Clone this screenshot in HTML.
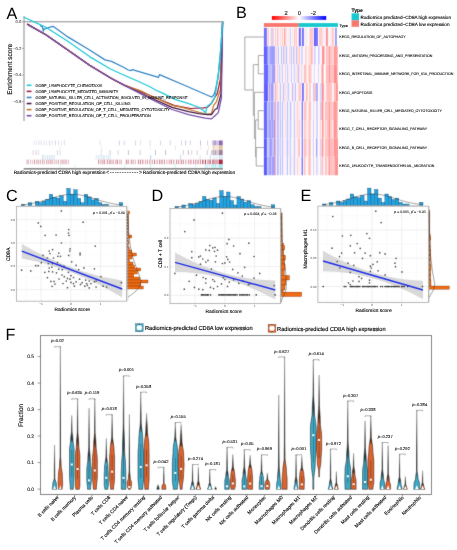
<!DOCTYPE html>
<html><head><meta charset="utf-8"><style>
html,body{margin:0;padding:0;background:#fff;}
svg{display:block;font-family:"Liberation Sans", sans-serif;text-rendering:geometricPrecision;}
</style></head><body>
<svg width="457" height="550" viewBox="0 0 457 550">
<defs><filter id="soft" x="0" y="0" width="1" height="1" color-interpolation-filters="sRGB"><feConvolveMatrix order="3" kernelMatrix="1 2 1 2 28 2 1 2 1" divisor="40" edgeMode="duplicate"/></filter></defs>
<rect width="457" height="550" fill="#fff"/>
<g filter="url(#soft)">
<rect width="457" height="550" fill="#fff"/>
<line x1="24.00" y1="16.00" x2="24.00" y2="121.00" stroke="#8a8a8a" stroke-width="1" />
<line x1="24.00" y1="21.80" x2="222.80" y2="21.80" stroke="#8a8a8a" stroke-width="1" />
<line x1="21.80" y1="21.80" x2="24.00" y2="21.80" stroke="#8a8a8a" stroke-width="0.7" />
<line x1="21.80" y1="48.40" x2="24.00" y2="48.40" stroke="#8a8a8a" stroke-width="0.7" />
<line x1="21.80" y1="75.00" x2="24.00" y2="75.00" stroke="#8a8a8a" stroke-width="0.7" />
<line x1="21.80" y1="101.60" x2="24.00" y2="101.60" stroke="#8a8a8a" stroke-width="0.7" />
<polyline points="26.90,23.90 32.80,27.40 45.90,34.70 67.80,50.00 89.60,65.30 111.50,78.50 124.00,84.90 151.20,96.00 174.00,105.30 190.70,108.50 203.20,107.80 207.30,107.40 211.50,103.30 215.00,97.00 217.20,93.80 220.40,79.10 222.60,21.80" fill="none" stroke="#a51d3c" stroke-width="1.25" stroke-linejoin="round" />
<polyline points="28.00,24.60 45.90,34.70 67.80,50.00 89.60,65.30 111.50,78.50 124.00,85.10 140.80,90.80 151.20,96.00 172.00,105.30 182.40,107.40 192.80,110.50 205.20,114.00 211.50,113.70 213.60,105.30 216.20,102.10 220.40,89.60 222.60,21.80" fill="none" stroke="#c07a2c" stroke-width="1.25" stroke-linejoin="round" />
<polyline points="28.00,24.60 45.90,34.70 67.80,50.00 89.60,65.30 111.50,78.50 124.00,85.30 151.20,98.00 172.00,107.40 188.60,111.60 199.00,113.70 207.30,114.70 211.50,114.70 215.00,109.50 217.20,108.40 221.00,93.80 222.60,21.80" fill="none" stroke="#4a1a48" stroke-width="1.25" stroke-linejoin="round" />
<polyline points="28.50,24.90 45.90,34.70 67.80,50.00 89.60,65.30 111.50,78.50 124.00,85.10 151.20,99.10 172.00,109.50 188.60,114.70 199.00,116.80 205.20,118.20 211.50,118.90 215.00,115.70 218.30,112.60 221.40,98.00 222.60,21.80" fill="none" stroke="#7a4fa8" stroke-width="1.25" stroke-linejoin="round" />
<polyline points="40.00,25.40 42.50,26.90 43.30,31.20 44.20,28.80 46.00,28.60 50.00,27.20 53.50,26.40 67.80,36.90 89.60,50.00 105.00,59.90 111.50,61.40 124.00,67.50 128.30,70.00 131.00,70.60 132.30,69.60 158.50,77.30 159.50,74.60 185.00,85.50 211.50,97.00 213.50,95.50 215.00,91.80 218.00,78.00 220.00,58.00 221.50,38.00 222.60,21.80" fill="none" stroke="#3585c4" stroke-width="1.25" stroke-linejoin="round" />
<polyline points="24.00,17.30 34.00,21.90 45.90,27.20 67.80,41.30 89.60,56.60 110.00,68.70 123.10,74.70 136.30,80.50 149.40,86.50 156.00,90.30 162.50,93.10 175.70,99.60 188.80,103.60 199.30,107.50 204.50,111.50 205.50,113.20 207.20,106.20 211.10,103.60 215.00,97.00 218.50,72.00 220.50,52.00 222.60,21.80" fill="none" stroke="#1ec8d8" stroke-width="1.25" stroke-linejoin="round" />
<line x1="26.70" y1="85.30" x2="31.50" y2="85.30" stroke="#1ec8d8" stroke-width="1.6" />
<line x1="26.70" y1="91.38" x2="31.50" y2="91.38" stroke="#a51d3c" stroke-width="1.6" />
<line x1="26.70" y1="97.46" x2="31.50" y2="97.46" stroke="#3585c4" stroke-width="1.6" />
<line x1="26.70" y1="103.54" x2="31.50" y2="103.54" stroke="#4a1a48" stroke-width="1.6" />
<line x1="26.70" y1="109.62" x2="31.50" y2="109.62" stroke="#c07a2c" stroke-width="1.6" />
<line x1="26.70" y1="115.70" x2="31.50" y2="115.70" stroke="#7a4fa8" stroke-width="1.6" />
<rect x="33.66" y="140.50" width="0.80" height="4.80" fill="#7a4fa8" opacity="0.20"/>
<rect x="36.12" y="140.50" width="0.80" height="4.80" fill="#7a4fa8" opacity="0.19"/>
<rect x="38.53" y="140.50" width="0.80" height="4.80" fill="#7a4fa8" opacity="0.23"/>
<rect x="40.65" y="140.50" width="0.80" height="4.80" fill="#7a4fa8" opacity="0.25"/>
<rect x="43.63" y="140.50" width="0.80" height="4.80" fill="#7a4fa8" opacity="0.25"/>
<rect x="46.16" y="140.50" width="0.80" height="4.80" fill="#7a4fa8" opacity="0.19"/>
<rect x="48.94" y="140.50" width="0.80" height="4.80" fill="#7a4fa8" opacity="0.31"/>
<rect x="51.70" y="140.50" width="0.80" height="4.80" fill="#7a4fa8" opacity="0.22"/>
<rect x="55.10" y="140.50" width="0.80" height="4.80" fill="#7a4fa8" opacity="0.33"/>
<rect x="58.06" y="140.50" width="0.80" height="4.80" fill="#7a4fa8" opacity="0.25"/>
<rect x="61.38" y="140.50" width="0.80" height="4.80" fill="#7a4fa8" opacity="0.20"/>
<rect x="63.99" y="140.50" width="0.80" height="4.80" fill="#7a4fa8" opacity="0.24"/>
<rect x="99.72" y="140.50" width="0.80" height="4.80" fill="#7a4fa8" opacity="0.23"/>
<rect x="118.85" y="140.50" width="0.80" height="4.80" fill="#7a4fa8" opacity="0.37"/>
<rect x="123.74" y="140.50" width="0.80" height="4.80" fill="#7a4fa8" opacity="0.33"/>
<rect x="135.11" y="140.50" width="0.80" height="4.80" fill="#7a4fa8" opacity="0.30"/>
<rect x="140.04" y="140.50" width="0.80" height="4.80" fill="#7a4fa8" opacity="0.24"/>
<rect x="149.65" y="140.50" width="0.80" height="4.80" fill="#7a4fa8" opacity="0.28"/>
<rect x="160.14" y="140.50" width="0.80" height="4.80" fill="#7a4fa8" opacity="0.33"/>
<rect x="169.85" y="140.50" width="0.80" height="4.80" fill="#7a4fa8" opacity="0.37"/>
<rect x="180.96" y="140.50" width="0.80" height="4.80" fill="#7a4fa8" opacity="0.32"/>
<rect x="185.24" y="140.50" width="0.80" height="4.80" fill="#7a4fa8" opacity="0.41"/>
<rect x="189.80" y="140.50" width="0.80" height="4.80" fill="#7a4fa8" opacity="0.38"/>
<rect x="200.02" y="140.50" width="0.80" height="4.80" fill="#7a4fa8" opacity="0.46"/>
<rect x="207.18" y="140.50" width="0.80" height="4.80" fill="#7a4fa8" opacity="0.33"/>
<rect x="212.38" y="140.50" width="0.80" height="4.80" fill="#7a4fa8" opacity="0.30"/>
<rect x="213.93" y="140.50" width="0.80" height="4.80" fill="#7a4fa8" opacity="0.45"/>
<rect x="215.22" y="140.50" width="0.80" height="4.80" fill="#7a4fa8" opacity="0.39"/>
<rect x="212.50" y="140.50" width="6.00" height="4.80" fill="#7a4fa8" opacity="0.34"/>
<rect x="218.80" y="140.50" width="3.90" height="4.80" fill="#7a4fa8" opacity="0.85"/>
<rect x="59.63" y="145.30" width="0.80" height="4.80" fill="#c07a2c" opacity="0.15"/>
<rect x="101.21" y="145.30" width="0.80" height="4.80" fill="#c07a2c" opacity="0.16"/>
<rect x="150.30" y="145.30" width="0.80" height="4.80" fill="#c07a2c" opacity="0.15"/>
<rect x="175.16" y="145.30" width="0.80" height="4.80" fill="#c07a2c" opacity="0.19"/>
<rect x="200.06" y="145.30" width="0.80" height="4.80" fill="#c07a2c" opacity="0.18"/>
<rect x="208.27" y="145.30" width="0.80" height="4.80" fill="#c07a2c" opacity="0.24"/>
<rect x="212.98" y="145.30" width="0.80" height="4.80" fill="#c07a2c" opacity="0.21"/>
<rect x="212.50" y="145.30" width="6.00" height="4.80" fill="#c07a2c" opacity="0.18"/>
<rect x="218.80" y="145.30" width="3.90" height="4.80" fill="#c07a2c" opacity="0.45"/>
<rect x="32.65" y="150.10" width="0.80" height="4.90" fill="#4a1a48" opacity="0.23"/>
<rect x="35.62" y="150.10" width="0.80" height="4.90" fill="#4a1a48" opacity="0.27"/>
<rect x="38.26" y="150.10" width="0.80" height="4.90" fill="#4a1a48" opacity="0.18"/>
<rect x="56.91" y="150.10" width="0.80" height="4.90" fill="#4a1a48" opacity="0.24"/>
<rect x="59.62" y="150.10" width="0.80" height="4.90" fill="#4a1a48" opacity="0.22"/>
<rect x="100.73" y="150.10" width="0.80" height="4.90" fill="#4a1a48" opacity="0.19"/>
<rect x="109.65" y="150.10" width="0.80" height="4.90" fill="#4a1a48" opacity="0.30"/>
<rect x="117.70" y="150.10" width="0.80" height="4.90" fill="#4a1a48" opacity="0.22"/>
<rect x="127.91" y="150.10" width="0.80" height="4.90" fill="#4a1a48" opacity="0.33"/>
<rect x="139.66" y="150.10" width="0.80" height="4.90" fill="#4a1a48" opacity="0.27"/>
<rect x="155.04" y="150.10" width="0.80" height="4.90" fill="#4a1a48" opacity="0.35"/>
<rect x="165.26" y="150.10" width="0.80" height="4.90" fill="#4a1a48" opacity="0.35"/>
<rect x="182.82" y="150.10" width="0.80" height="4.90" fill="#4a1a48" opacity="0.29"/>
<rect x="187.89" y="150.10" width="0.80" height="4.90" fill="#4a1a48" opacity="0.38"/>
<rect x="191.37" y="150.10" width="0.80" height="4.90" fill="#4a1a48" opacity="0.24"/>
<rect x="196.74" y="150.10" width="0.80" height="4.90" fill="#4a1a48" opacity="0.26"/>
<rect x="206.79" y="150.10" width="0.80" height="4.90" fill="#4a1a48" opacity="0.31"/>
<rect x="211.07" y="150.10" width="0.80" height="4.90" fill="#4a1a48" opacity="0.27"/>
<rect x="212.60" y="150.10" width="0.80" height="4.90" fill="#4a1a48" opacity="0.31"/>
<rect x="214.90" y="150.10" width="0.80" height="4.90" fill="#4a1a48" opacity="0.34"/>
<rect x="212.50" y="150.10" width="6.00" height="4.90" fill="#4a1a48" opacity="0.22"/>
<rect x="218.80" y="150.10" width="3.90" height="4.90" fill="#4a1a48" opacity="0.55"/>
<rect x="42.16" y="155.00" width="0.80" height="4.60" fill="#3585c4" opacity="0.28"/>
<rect x="43.51" y="155.00" width="0.80" height="4.60" fill="#3585c4" opacity="0.27"/>
<rect x="45.14" y="155.00" width="0.80" height="4.60" fill="#3585c4" opacity="0.19"/>
<rect x="47.32" y="155.00" width="0.80" height="4.60" fill="#3585c4" opacity="0.30"/>
<rect x="49.30" y="155.00" width="0.80" height="4.60" fill="#3585c4" opacity="0.31"/>
<rect x="50.91" y="155.00" width="0.80" height="4.60" fill="#3585c4" opacity="0.25"/>
<rect x="52.68" y="155.00" width="0.80" height="4.60" fill="#3585c4" opacity="0.28"/>
<rect x="54.15" y="155.00" width="0.80" height="4.60" fill="#3585c4" opacity="0.19"/>
<rect x="95.77" y="155.00" width="0.80" height="4.60" fill="#3585c4" opacity="0.24"/>
<rect x="97.87" y="155.00" width="0.80" height="4.60" fill="#3585c4" opacity="0.22"/>
<rect x="99.60" y="155.00" width="0.80" height="4.60" fill="#3585c4" opacity="0.24"/>
<rect x="101.68" y="155.00" width="0.80" height="4.60" fill="#3585c4" opacity="0.28"/>
<rect x="103.62" y="155.00" width="0.80" height="4.60" fill="#3585c4" opacity="0.37"/>
<rect x="106.09" y="155.00" width="0.80" height="4.60" fill="#3585c4" opacity="0.24"/>
<rect x="107.80" y="155.00" width="0.80" height="4.60" fill="#3585c4" opacity="0.28"/>
<rect x="109.59" y="155.00" width="0.80" height="4.60" fill="#3585c4" opacity="0.24"/>
<rect x="150.28" y="155.00" width="0.80" height="4.60" fill="#3585c4" opacity="0.44"/>
<rect x="179.97" y="155.00" width="0.80" height="4.60" fill="#3585c4" opacity="0.36"/>
<rect x="199.67" y="155.00" width="0.80" height="4.60" fill="#3585c4" opacity="0.29"/>
<rect x="209.87" y="155.00" width="0.80" height="4.60" fill="#3585c4" opacity="0.33"/>
<rect x="212.50" y="155.00" width="6.00" height="4.60" fill="#3585c4" opacity="0.08"/>
<rect x="218.80" y="155.00" width="3.90" height="4.60" fill="#3585c4" opacity="0.20"/>
<rect x="26.26" y="159.60" width="1.10" height="4.60" fill="#a51d3c" opacity="0.26"/>
<rect x="27.62" y="159.60" width="1.10" height="4.60" fill="#a51d3c" opacity="0.41"/>
<rect x="30.02" y="159.60" width="1.10" height="4.60" fill="#a51d3c" opacity="0.26"/>
<rect x="32.03" y="159.60" width="1.10" height="4.60" fill="#a51d3c" opacity="0.24"/>
<rect x="34.02" y="159.60" width="1.10" height="4.60" fill="#a51d3c" opacity="0.43"/>
<rect x="36.29" y="159.60" width="1.10" height="4.60" fill="#a51d3c" opacity="0.37"/>
<rect x="37.81" y="159.60" width="1.10" height="4.60" fill="#a51d3c" opacity="0.31"/>
<rect x="39.73" y="159.60" width="1.10" height="4.60" fill="#a51d3c" opacity="0.39"/>
<rect x="42.03" y="159.60" width="1.10" height="4.60" fill="#a51d3c" opacity="0.40"/>
<rect x="43.86" y="159.60" width="1.10" height="4.60" fill="#a51d3c" opacity="0.28"/>
<rect x="46.25" y="159.60" width="1.10" height="4.60" fill="#a51d3c" opacity="0.44"/>
<rect x="48.28" y="159.60" width="1.10" height="4.60" fill="#a51d3c" opacity="0.41"/>
<rect x="50.25" y="159.60" width="1.10" height="4.60" fill="#a51d3c" opacity="0.40"/>
<rect x="51.78" y="159.60" width="1.10" height="4.60" fill="#a51d3c" opacity="0.35"/>
<rect x="53.88" y="159.60" width="1.10" height="4.60" fill="#a51d3c" opacity="0.25"/>
<rect x="55.62" y="159.60" width="1.10" height="4.60" fill="#a51d3c" opacity="0.31"/>
<rect x="57.81" y="159.60" width="1.10" height="4.60" fill="#a51d3c" opacity="0.40"/>
<rect x="60.37" y="159.60" width="1.10" height="4.60" fill="#a51d3c" opacity="0.35"/>
<rect x="62.35" y="159.60" width="1.10" height="4.60" fill="#a51d3c" opacity="0.46"/>
<rect x="64.36" y="159.60" width="1.10" height="4.60" fill="#a51d3c" opacity="0.33"/>
<rect x="65.78" y="159.60" width="1.10" height="4.60" fill="#a51d3c" opacity="0.30"/>
<rect x="67.76" y="159.60" width="1.10" height="4.60" fill="#a51d3c" opacity="0.30"/>
<rect x="98.10" y="159.60" width="1.10" height="4.60" fill="#a51d3c" opacity="0.49"/>
<rect x="100.37" y="159.60" width="1.10" height="4.60" fill="#a51d3c" opacity="0.39"/>
<rect x="102.32" y="159.60" width="1.10" height="4.60" fill="#a51d3c" opacity="0.47"/>
<rect x="103.97" y="159.60" width="1.10" height="4.60" fill="#a51d3c" opacity="0.44"/>
<rect x="106.73" y="159.60" width="1.10" height="4.60" fill="#a51d3c" opacity="0.47"/>
<rect x="108.70" y="159.60" width="1.10" height="4.60" fill="#a51d3c" opacity="0.40"/>
<rect x="110.34" y="159.60" width="1.10" height="4.60" fill="#a51d3c" opacity="0.48"/>
<rect x="112.57" y="159.60" width="1.10" height="4.60" fill="#a51d3c" opacity="0.49"/>
<rect x="115.18" y="159.60" width="1.10" height="4.60" fill="#a51d3c" opacity="0.39"/>
<rect x="116.82" y="159.60" width="1.10" height="4.60" fill="#a51d3c" opacity="0.53"/>
<rect x="119.18" y="159.60" width="1.10" height="4.60" fill="#a51d3c" opacity="0.34"/>
<rect x="120.80" y="159.60" width="1.10" height="4.60" fill="#a51d3c" opacity="0.33"/>
<rect x="125.82" y="159.60" width="1.10" height="4.60" fill="#a51d3c" opacity="0.50"/>
<rect x="127.62" y="159.60" width="1.10" height="4.60" fill="#a51d3c" opacity="0.51"/>
<rect x="130.68" y="159.60" width="1.10" height="4.60" fill="#a51d3c" opacity="0.47"/>
<rect x="132.58" y="159.60" width="1.10" height="4.60" fill="#a51d3c" opacity="0.44"/>
<rect x="134.80" y="159.60" width="1.10" height="4.60" fill="#a51d3c" opacity="0.31"/>
<rect x="137.88" y="159.60" width="1.10" height="4.60" fill="#a51d3c" opacity="0.48"/>
<rect x="139.92" y="159.60" width="1.10" height="4.60" fill="#a51d3c" opacity="0.55"/>
<rect x="142.25" y="159.60" width="1.10" height="4.60" fill="#a51d3c" opacity="0.54"/>
<rect x="144.96" y="159.60" width="1.10" height="4.60" fill="#a51d3c" opacity="0.37"/>
<rect x="146.90" y="159.60" width="1.10" height="4.60" fill="#a51d3c" opacity="0.39"/>
<rect x="149.29" y="159.60" width="1.10" height="4.60" fill="#a51d3c" opacity="0.47"/>
<rect x="151.71" y="159.60" width="1.10" height="4.60" fill="#a51d3c" opacity="0.43"/>
<rect x="154.00" y="159.60" width="1.10" height="4.60" fill="#a51d3c" opacity="0.57"/>
<rect x="156.58" y="159.60" width="1.10" height="4.60" fill="#a51d3c" opacity="0.45"/>
<rect x="159.17" y="159.60" width="1.10" height="4.60" fill="#a51d3c" opacity="0.57"/>
<rect x="161.44" y="159.60" width="1.10" height="4.60" fill="#a51d3c" opacity="0.58"/>
<rect x="163.90" y="159.60" width="1.10" height="4.60" fill="#a51d3c" opacity="0.47"/>
<rect x="166.32" y="159.60" width="1.10" height="4.60" fill="#a51d3c" opacity="0.33"/>
<rect x="168.65" y="159.60" width="1.10" height="4.60" fill="#a51d3c" opacity="0.38"/>
<rect x="170.70" y="159.60" width="1.10" height="4.60" fill="#a51d3c" opacity="0.56"/>
<rect x="173.24" y="159.60" width="1.10" height="4.60" fill="#a51d3c" opacity="0.47"/>
<rect x="176.08" y="159.60" width="1.10" height="4.60" fill="#a51d3c" opacity="0.49"/>
<rect x="178.16" y="159.60" width="1.10" height="4.60" fill="#a51d3c" opacity="0.48"/>
<rect x="180.74" y="159.60" width="1.10" height="4.60" fill="#a51d3c" opacity="0.56"/>
<rect x="182.78" y="159.60" width="1.10" height="4.60" fill="#a51d3c" opacity="0.50"/>
<rect x="185.30" y="159.60" width="1.10" height="4.60" fill="#a51d3c" opacity="0.42"/>
<rect x="188.12" y="159.60" width="1.10" height="4.60" fill="#a51d3c" opacity="0.49"/>
<rect x="190.35" y="159.60" width="1.10" height="4.60" fill="#a51d3c" opacity="0.57"/>
<rect x="193.03" y="159.60" width="1.10" height="4.60" fill="#a51d3c" opacity="0.48"/>
<rect x="195.19" y="159.60" width="1.10" height="4.60" fill="#a51d3c" opacity="0.50"/>
<rect x="197.51" y="159.60" width="1.10" height="4.60" fill="#a51d3c" opacity="0.56"/>
<rect x="199.86" y="159.60" width="1.10" height="4.60" fill="#a51d3c" opacity="0.51"/>
<rect x="202.28" y="159.60" width="1.10" height="4.60" fill="#a51d3c" opacity="0.89"/>
<rect x="204.86" y="159.60" width="1.10" height="4.60" fill="#a51d3c" opacity="0.87"/>
<rect x="207.45" y="159.60" width="1.10" height="4.60" fill="#a51d3c" opacity="0.61"/>
<rect x="209.55" y="159.60" width="1.10" height="4.60" fill="#a51d3c" opacity="0.90"/>
<rect x="212.17" y="159.60" width="1.10" height="4.60" fill="#a51d3c" opacity="0.56"/>
<rect x="212.50" y="159.60" width="6.00" height="4.60" fill="#a51d3c" opacity="0.38"/>
<rect x="218.80" y="159.60" width="3.90" height="4.60" fill="#a51d3c" opacity="0.95"/>
<rect x="59.70" y="164.30" width="0.80" height="3.60" fill="#1ec8d8" opacity="0.22"/>
<rect x="74.66" y="164.30" width="0.80" height="3.60" fill="#1ec8d8" opacity="0.20"/>
<rect x="124.66" y="164.30" width="0.80" height="3.60" fill="#1ec8d8" opacity="0.29"/>
<rect x="150.23" y="164.30" width="0.80" height="3.60" fill="#1ec8d8" opacity="0.35"/>
<rect x="174.72" y="164.30" width="0.80" height="3.60" fill="#1ec8d8" opacity="0.34"/>
<rect x="195.13" y="164.30" width="0.80" height="3.60" fill="#1ec8d8" opacity="0.24"/>
<rect x="205.31" y="164.30" width="0.80" height="3.60" fill="#1ec8d8" opacity="0.41"/>
<rect x="206.78" y="164.30" width="0.80" height="3.60" fill="#1ec8d8" opacity="0.40"/>
<rect x="208.92" y="164.30" width="0.80" height="3.60" fill="#1ec8d8" opacity="0.32"/>
<rect x="211.39" y="164.30" width="0.80" height="3.60" fill="#1ec8d8" opacity="0.38"/>
<rect x="212.73" y="164.30" width="0.80" height="3.60" fill="#1ec8d8" opacity="0.31"/>
<rect x="215.01" y="164.30" width="0.80" height="3.60" fill="#1ec8d8" opacity="0.29"/>
<rect x="212.50" y="164.30" width="6.00" height="3.60" fill="#1ec8d8" opacity="0.16"/>
<rect x="218.80" y="164.30" width="3.90" height="3.60" fill="#1ec8d8" opacity="0.40"/>
<line x1="23.60" y1="168.90" x2="222.90" y2="168.90" stroke="#111" stroke-width="0.8" />
<defs><linearGradient id="cb" x1="0" x2="1" y1="0" y2="0"><stop offset="0" stop-color="#ff0000"/><stop offset="0.5" stop-color="#ffffff"/><stop offset="1" stop-color="#0000ff"/></linearGradient></defs>
<rect x="271.90" y="16.00" width="54.30" height="3.90" fill="url(#cb)" />
<rect x="263.90" y="23.10" width="35.00" height="3.80" fill="#f8766d" />
<rect x="298.90" y="23.10" width="39.00" height="3.80" fill="#16c8cf" />
<rect x="351.60" y="13.30" width="7.40" height="7.00" fill="#16c8cf" />
<rect x="351.60" y="20.30" width="7.40" height="6.50" fill="#f8766d" />
<rect x="263.90" y="27.80" width="1.05" height="18.47" fill="rgb(107,107,255)" />
<rect x="264.90" y="27.80" width="1.05" height="18.47" fill="rgb(110,110,255)" />
<rect x="265.90" y="27.80" width="1.05" height="18.47" fill="rgb(117,117,255)" />
<rect x="266.90" y="27.80" width="1.05" height="18.47" fill="rgb(255,225,225)" />
<rect x="267.90" y="27.80" width="1.05" height="18.47" fill="rgb(255,196,196)" />
<rect x="268.90" y="27.80" width="1.05" height="18.47" fill="rgb(255,253,253)" />
<rect x="269.90" y="27.80" width="1.05" height="18.47" fill="rgb(255,231,231)" />
<rect x="270.90" y="27.80" width="1.05" height="18.47" fill="rgb(209,209,255)" />
<rect x="271.90" y="27.80" width="1.05" height="18.47" fill="rgb(255,194,194)" />
<rect x="272.90" y="27.80" width="1.05" height="18.47" fill="rgb(215,215,255)" />
<rect x="273.90" y="27.80" width="1.05" height="18.47" fill="rgb(247,247,255)" />
<rect x="274.90" y="27.80" width="1.05" height="18.47" fill="rgb(255,200,200)" />
<rect x="275.90" y="27.80" width="1.05" height="18.47" fill="rgb(247,247,255)" />
<rect x="276.90" y="27.80" width="1.05" height="18.47" fill="rgb(255,190,190)" />
<rect x="277.90" y="27.80" width="1.05" height="18.47" fill="rgb(255,220,220)" />
<rect x="278.90" y="27.80" width="1.05" height="18.47" fill="rgb(246,246,255)" />
<rect x="279.90" y="27.80" width="1.05" height="18.47" fill="rgb(255,215,215)" />
<rect x="280.90" y="27.80" width="1.05" height="18.47" fill="rgb(255,246,246)" />
<rect x="281.90" y="27.80" width="1.05" height="18.47" fill="rgb(255,193,193)" />
<rect x="282.90" y="27.80" width="1.05" height="18.47" fill="rgb(255,253,253)" />
<rect x="283.90" y="27.80" width="1.05" height="18.47" fill="rgb(255,157,157)" />
<rect x="284.90" y="27.80" width="1.05" height="18.47" fill="rgb(255,206,206)" />
<rect x="285.90" y="27.80" width="1.05" height="18.47" fill="rgb(255,224,224)" />
<rect x="286.90" y="27.80" width="1.05" height="18.47" fill="rgb(246,246,255)" />
<rect x="287.90" y="27.80" width="1.05" height="18.47" fill="rgb(255,231,231)" />
<rect x="288.90" y="27.80" width="1.05" height="18.47" fill="rgb(250,250,255)" />
<rect x="289.90" y="27.80" width="1.05" height="18.47" fill="rgb(200,200,255)" />
<rect x="290.90" y="27.80" width="1.05" height="18.47" fill="rgb(254,254,255)" />
<rect x="291.90" y="27.80" width="1.05" height="18.47" fill="rgb(255,226,226)" />
<rect x="292.90" y="27.80" width="1.05" height="18.47" fill="rgb(255,248,248)" />
<rect x="293.90" y="27.80" width="1.05" height="18.47" fill="rgb(255,196,196)" />
<rect x="294.90" y="27.80" width="1.05" height="18.47" fill="rgb(255,222,222)" />
<rect x="295.90" y="27.80" width="1.05" height="18.47" fill="rgb(255,196,196)" />
<rect x="296.90" y="27.80" width="1.05" height="18.47" fill="rgb(255,252,252)" />
<rect x="297.90" y="27.80" width="1.05" height="18.47" fill="rgb(255,225,225)" />
<rect x="298.90" y="27.80" width="1.05" height="18.47" fill="rgb(100,100,255)" />
<rect x="299.90" y="27.80" width="1.05" height="18.47" fill="rgb(115,115,255)" />
<rect x="300.90" y="27.80" width="1.05" height="18.47" fill="rgb(255,249,249)" />
<rect x="301.90" y="27.80" width="1.05" height="18.47" fill="rgb(111,111,255)" />
<rect x="302.90" y="27.80" width="1.05" height="18.47" fill="rgb(109,109,255)" />
<rect x="303.90" y="27.80" width="1.05" height="18.47" fill="rgb(247,247,255)" />
<rect x="304.90" y="27.80" width="1.05" height="18.47" fill="rgb(255,234,234)" />
<rect x="305.90" y="27.80" width="1.05" height="18.47" fill="rgb(255,233,233)" />
<rect x="306.90" y="27.80" width="1.05" height="18.47" fill="rgb(242,242,255)" />
<rect x="307.90" y="27.80" width="1.05" height="18.47" fill="rgb(255,253,253)" />
<rect x="308.90" y="27.80" width="1.05" height="18.47" fill="rgb(255,230,230)" />
<rect x="309.90" y="27.80" width="1.05" height="18.47" fill="rgb(255,193,193)" />
<rect x="310.90" y="27.80" width="1.05" height="18.47" fill="rgb(255,202,202)" />
<rect x="311.90" y="27.80" width="1.05" height="18.47" fill="rgb(255,191,191)" />
<rect x="312.90" y="27.80" width="1.05" height="18.47" fill="rgb(255,252,252)" />
<rect x="313.90" y="27.80" width="1.05" height="18.47" fill="rgb(94,94,255)" />
<rect x="314.90" y="27.80" width="1.05" height="18.47" fill="rgb(99,99,255)" />
<rect x="315.90" y="27.80" width="1.05" height="18.47" fill="rgb(113,113,255)" />
<rect x="316.90" y="27.80" width="1.05" height="18.47" fill="rgb(104,104,255)" />
<rect x="317.90" y="27.80" width="1.05" height="18.47" fill="rgb(255,249,249)" />
<rect x="318.90" y="27.80" width="1.05" height="18.47" fill="rgb(255,202,202)" />
<rect x="319.90" y="27.80" width="1.05" height="18.47" fill="rgb(255,209,209)" />
<rect x="320.90" y="27.80" width="1.05" height="18.47" fill="rgb(255,198,198)" />
<rect x="321.90" y="27.80" width="1.05" height="18.47" fill="rgb(255,223,223)" />
<rect x="322.90" y="27.80" width="1.05" height="18.47" fill="rgb(255,233,233)" />
<rect x="323.90" y="27.80" width="1.05" height="18.47" fill="rgb(243,243,255)" />
<rect x="324.90" y="27.80" width="1.05" height="18.47" fill="rgb(248,248,255)" />
<rect x="325.90" y="27.80" width="1.05" height="18.47" fill="rgb(255,145,145)" />
<rect x="326.90" y="27.80" width="1.05" height="18.47" fill="rgb(255,149,149)" />
<rect x="327.90" y="27.80" width="1.05" height="18.47" fill="rgb(243,243,255)" />
<rect x="328.90" y="27.80" width="1.05" height="18.47" fill="rgb(246,246,255)" />
<rect x="329.90" y="27.80" width="1.05" height="18.47" fill="rgb(255,236,236)" />
<rect x="330.90" y="27.80" width="1.05" height="18.47" fill="rgb(255,237,237)" />
<rect x="331.90" y="27.80" width="1.05" height="18.47" fill="rgb(255,194,194)" />
<rect x="332.90" y="27.80" width="1.05" height="18.47" fill="rgb(255,207,207)" />
<rect x="333.90" y="27.80" width="1.05" height="18.47" fill="rgb(252,252,255)" />
<rect x="334.90" y="27.80" width="1.05" height="18.47" fill="rgb(161,161,255)" />
<rect x="335.90" y="27.80" width="1.05" height="18.47" fill="rgb(156,156,255)" />
<rect x="336.90" y="27.80" width="1.05" height="18.47" fill="rgb(255,254,254)" />
<rect x="263.90" y="46.22" width="1.05" height="18.47" fill="rgb(86,86,255)" />
<rect x="264.90" y="46.22" width="1.05" height="18.47" fill="rgb(96,96,255)" />
<rect x="265.90" y="46.22" width="1.05" height="18.47" fill="rgb(85,85,255)" />
<rect x="266.90" y="46.22" width="1.05" height="18.47" fill="rgb(149,149,255)" />
<rect x="267.90" y="46.22" width="1.05" height="18.47" fill="rgb(188,188,255)" />
<rect x="268.90" y="46.22" width="1.05" height="18.47" fill="rgb(189,189,255)" />
<rect x="269.90" y="46.22" width="1.05" height="18.47" fill="rgb(160,160,255)" />
<rect x="270.90" y="46.22" width="1.05" height="18.47" fill="rgb(157,157,255)" />
<rect x="271.90" y="46.22" width="1.05" height="18.47" fill="rgb(146,146,255)" />
<rect x="272.90" y="46.22" width="1.05" height="18.47" fill="rgb(158,158,255)" />
<rect x="273.90" y="46.22" width="1.05" height="18.47" fill="rgb(145,145,255)" />
<rect x="274.90" y="46.22" width="1.05" height="18.47" fill="rgb(238,238,255)" />
<rect x="275.90" y="46.22" width="1.05" height="18.47" fill="rgb(255,204,204)" />
<rect x="276.90" y="46.22" width="1.05" height="18.47" fill="rgb(243,243,255)" />
<rect x="277.90" y="46.22" width="1.05" height="18.47" fill="rgb(186,186,255)" />
<rect x="278.90" y="46.22" width="1.05" height="18.47" fill="rgb(250,250,255)" />
<rect x="279.90" y="46.22" width="1.05" height="18.47" fill="rgb(255,246,246)" />
<rect x="280.90" y="46.22" width="1.05" height="18.47" fill="rgb(189,189,255)" />
<rect x="281.90" y="46.22" width="1.05" height="18.47" fill="rgb(245,245,255)" />
<rect x="282.90" y="46.22" width="1.05" height="18.47" fill="rgb(190,190,255)" />
<rect x="283.90" y="46.22" width="1.05" height="18.47" fill="rgb(255,216,216)" />
<rect x="284.90" y="46.22" width="1.05" height="18.47" fill="rgb(231,231,255)" />
<rect x="285.90" y="46.22" width="1.05" height="18.47" fill="rgb(185,185,255)" />
<rect x="286.90" y="46.22" width="1.05" height="18.47" fill="rgb(241,241,255)" />
<rect x="287.90" y="46.22" width="1.05" height="18.47" fill="rgb(255,245,245)" />
<rect x="288.90" y="46.22" width="1.05" height="18.47" fill="rgb(255,210,210)" />
<rect x="289.90" y="46.22" width="1.05" height="18.47" fill="rgb(237,237,255)" />
<rect x="290.90" y="46.22" width="1.05" height="18.47" fill="rgb(193,193,255)" />
<rect x="291.90" y="46.22" width="1.05" height="18.47" fill="rgb(249,249,255)" />
<rect x="292.90" y="46.22" width="1.05" height="18.47" fill="rgb(193,193,255)" />
<rect x="293.90" y="46.22" width="1.05" height="18.47" fill="rgb(255,210,210)" />
<rect x="294.90" y="46.22" width="1.05" height="18.47" fill="rgb(247,247,255)" />
<rect x="295.90" y="46.22" width="1.05" height="18.47" fill="rgb(187,187,255)" />
<rect x="296.90" y="46.22" width="1.05" height="18.47" fill="rgb(255,219,219)" />
<rect x="297.90" y="46.22" width="1.05" height="18.47" fill="rgb(255,231,231)" />
<rect x="298.90" y="46.22" width="1.05" height="18.47" fill="rgb(255,186,186)" />
<rect x="299.90" y="46.22" width="1.05" height="18.47" fill="rgb(254,254,255)" />
<rect x="300.90" y="46.22" width="1.05" height="18.47" fill="rgb(207,207,255)" />
<rect x="301.90" y="46.22" width="1.05" height="18.47" fill="rgb(218,218,255)" />
<rect x="302.90" y="46.22" width="1.05" height="18.47" fill="rgb(255,242,242)" />
<rect x="303.90" y="46.22" width="1.05" height="18.47" fill="rgb(253,253,255)" />
<rect x="304.90" y="46.22" width="1.05" height="18.47" fill="rgb(255,211,211)" />
<rect x="305.90" y="46.22" width="1.05" height="18.47" fill="rgb(255,213,213)" />
<rect x="306.90" y="46.22" width="1.05" height="18.47" fill="rgb(255,249,249)" />
<rect x="307.90" y="46.22" width="1.05" height="18.47" fill="rgb(255,222,222)" />
<rect x="308.90" y="46.22" width="1.05" height="18.47" fill="rgb(255,229,229)" />
<rect x="309.90" y="46.22" width="1.05" height="18.47" fill="rgb(255,202,202)" />
<rect x="310.90" y="46.22" width="1.05" height="18.47" fill="rgb(255,183,183)" />
<rect x="311.90" y="46.22" width="1.05" height="18.47" fill="rgb(255,198,198)" />
<rect x="312.90" y="46.22" width="1.05" height="18.47" fill="rgb(255,247,247)" />
<rect x="313.90" y="46.22" width="1.05" height="18.47" fill="rgb(208,208,255)" />
<rect x="314.90" y="46.22" width="1.05" height="18.47" fill="rgb(220,220,255)" />
<rect x="315.90" y="46.22" width="1.05" height="18.47" fill="rgb(255,249,249)" />
<rect x="316.90" y="46.22" width="1.05" height="18.47" fill="rgb(255,255,255)" />
<rect x="317.90" y="46.22" width="1.05" height="18.47" fill="rgb(206,206,255)" />
<rect x="318.90" y="46.22" width="1.05" height="18.47" fill="rgb(217,217,255)" />
<rect x="319.90" y="46.22" width="1.05" height="18.47" fill="rgb(250,250,255)" />
<rect x="320.90" y="46.22" width="1.05" height="18.47" fill="rgb(253,253,255)" />
<rect x="321.90" y="46.22" width="1.05" height="18.47" fill="rgb(255,145,145)" />
<rect x="322.90" y="46.22" width="1.05" height="18.47" fill="rgb(255,139,139)" />
<rect x="323.90" y="46.22" width="1.05" height="18.47" fill="rgb(255,190,190)" />
<rect x="324.90" y="46.22" width="1.05" height="18.47" fill="rgb(254,254,255)" />
<rect x="325.90" y="46.22" width="1.05" height="18.47" fill="rgb(255,184,184)" />
<rect x="326.90" y="46.22" width="1.05" height="18.47" fill="rgb(255,199,199)" />
<rect x="327.90" y="46.22" width="1.05" height="18.47" fill="rgb(255,202,202)" />
<rect x="328.90" y="46.22" width="1.05" height="18.47" fill="rgb(255,151,151)" />
<rect x="329.90" y="46.22" width="1.05" height="18.47" fill="rgb(255,194,194)" />
<rect x="330.90" y="46.22" width="1.05" height="18.47" fill="rgb(255,201,201)" />
<rect x="331.90" y="46.22" width="1.05" height="18.47" fill="rgb(255,199,199)" />
<rect x="332.90" y="46.22" width="1.05" height="18.47" fill="rgb(255,223,223)" />
<rect x="333.90" y="46.22" width="1.05" height="18.47" fill="rgb(255,145,145)" />
<rect x="334.90" y="46.22" width="1.05" height="18.47" fill="rgb(255,154,154)" />
<rect x="335.90" y="46.22" width="1.05" height="18.47" fill="rgb(255,149,149)" />
<rect x="336.90" y="46.22" width="1.05" height="18.47" fill="rgb(255,185,185)" />
<rect x="263.90" y="64.65" width="1.05" height="18.47" fill="rgb(103,103,255)" />
<rect x="264.90" y="64.65" width="1.05" height="18.47" fill="rgb(96,96,255)" />
<rect x="265.90" y="64.65" width="1.05" height="18.47" fill="rgb(97,97,255)" />
<rect x="266.90" y="64.65" width="1.05" height="18.47" fill="rgb(95,95,255)" />
<rect x="267.90" y="64.65" width="1.05" height="18.47" fill="rgb(186,186,255)" />
<rect x="268.90" y="64.65" width="1.05" height="18.47" fill="rgb(184,184,255)" />
<rect x="269.90" y="64.65" width="1.05" height="18.47" fill="rgb(184,184,255)" />
<rect x="270.90" y="64.65" width="1.05" height="18.47" fill="rgb(202,202,255)" />
<rect x="271.90" y="64.65" width="1.05" height="18.47" fill="rgb(155,155,255)" />
<rect x="272.90" y="64.65" width="1.05" height="18.47" fill="rgb(160,160,255)" />
<rect x="273.90" y="64.65" width="1.05" height="18.47" fill="rgb(141,141,255)" />
<rect x="274.90" y="64.65" width="1.05" height="18.47" fill="rgb(255,209,209)" />
<rect x="275.90" y="64.65" width="1.05" height="18.47" fill="rgb(255,240,240)" />
<rect x="276.90" y="64.65" width="1.05" height="18.47" fill="rgb(255,207,207)" />
<rect x="277.90" y="64.65" width="1.05" height="18.47" fill="rgb(236,236,255)" />
<rect x="278.90" y="64.65" width="1.05" height="18.47" fill="rgb(204,204,255)" />
<rect x="279.90" y="64.65" width="1.05" height="18.47" fill="rgb(231,231,255)" />
<rect x="280.90" y="64.65" width="1.05" height="18.47" fill="rgb(255,239,239)" />
<rect x="281.90" y="64.65" width="1.05" height="18.47" fill="rgb(199,199,255)" />
<rect x="282.90" y="64.65" width="1.05" height="18.47" fill="rgb(248,248,255)" />
<rect x="283.90" y="64.65" width="1.05" height="18.47" fill="rgb(245,245,255)" />
<rect x="284.90" y="64.65" width="1.05" height="18.47" fill="rgb(255,207,207)" />
<rect x="285.90" y="64.65" width="1.05" height="18.47" fill="rgb(246,246,255)" />
<rect x="286.90" y="64.65" width="1.05" height="18.47" fill="rgb(202,202,255)" />
<rect x="287.90" y="64.65" width="1.05" height="18.47" fill="rgb(237,237,255)" />
<rect x="288.90" y="64.65" width="1.05" height="18.47" fill="rgb(255,236,236)" />
<rect x="289.90" y="64.65" width="1.05" height="18.47" fill="rgb(248,248,255)" />
<rect x="290.90" y="64.65" width="1.05" height="18.47" fill="rgb(201,201,255)" />
<rect x="291.90" y="64.65" width="1.05" height="18.47" fill="rgb(255,241,241)" />
<rect x="292.90" y="64.65" width="1.05" height="18.47" fill="rgb(246,246,255)" />
<rect x="293.90" y="64.65" width="1.05" height="18.47" fill="rgb(201,201,255)" />
<rect x="294.90" y="64.65" width="1.05" height="18.47" fill="rgb(241,241,255)" />
<rect x="295.90" y="64.65" width="1.05" height="18.47" fill="rgb(255,237,237)" />
<rect x="296.90" y="64.65" width="1.05" height="18.47" fill="rgb(255,214,214)" />
<rect x="297.90" y="64.65" width="1.05" height="18.47" fill="rgb(195,195,255)" />
<rect x="298.90" y="64.65" width="1.05" height="18.47" fill="rgb(255,218,218)" />
<rect x="299.90" y="64.65" width="1.05" height="18.47" fill="rgb(250,250,255)" />
<rect x="300.90" y="64.65" width="1.05" height="18.47" fill="rgb(216,216,255)" />
<rect x="301.90" y="64.65" width="1.05" height="18.47" fill="rgb(255,241,241)" />
<rect x="302.90" y="64.65" width="1.05" height="18.47" fill="rgb(255,243,243)" />
<rect x="303.90" y="64.65" width="1.05" height="18.47" fill="rgb(255,188,188)" />
<rect x="304.90" y="64.65" width="1.05" height="18.47" fill="rgb(255,195,195)" />
<rect x="305.90" y="64.65" width="1.05" height="18.47" fill="rgb(255,216,216)" />
<rect x="306.90" y="64.65" width="1.05" height="18.47" fill="rgb(255,250,250)" />
<rect x="307.90" y="64.65" width="1.05" height="18.47" fill="rgb(255,222,222)" />
<rect x="308.90" y="64.65" width="1.05" height="18.47" fill="rgb(255,186,186)" />
<rect x="309.90" y="64.65" width="1.05" height="18.47" fill="rgb(255,201,201)" />
<rect x="310.90" y="64.65" width="1.05" height="18.47" fill="rgb(255,215,215)" />
<rect x="311.90" y="64.65" width="1.05" height="18.47" fill="rgb(249,249,255)" />
<rect x="312.90" y="64.65" width="1.05" height="18.47" fill="rgb(255,249,249)" />
<rect x="313.90" y="64.65" width="1.05" height="18.47" fill="rgb(213,213,255)" />
<rect x="314.90" y="64.65" width="1.05" height="18.47" fill="rgb(253,253,255)" />
<rect x="315.90" y="64.65" width="1.05" height="18.47" fill="rgb(255,247,247)" />
<rect x="316.90" y="64.65" width="1.05" height="18.47" fill="rgb(255,251,251)" />
<rect x="317.90" y="64.65" width="1.05" height="18.47" fill="rgb(215,215,255)" />
<rect x="318.90" y="64.65" width="1.05" height="18.47" fill="rgb(255,243,243)" />
<rect x="319.90" y="64.65" width="1.05" height="18.47" fill="rgb(254,254,255)" />
<rect x="320.90" y="64.65" width="1.05" height="18.47" fill="rgb(255,202,202)" />
<rect x="321.90" y="64.65" width="1.05" height="18.47" fill="rgb(255,151,151)" />
<rect x="322.90" y="64.65" width="1.05" height="18.47" fill="rgb(255,189,189)" />
<rect x="323.90" y="64.65" width="1.05" height="18.47" fill="rgb(253,253,255)" />
<rect x="324.90" y="64.65" width="1.05" height="18.47" fill="rgb(252,252,255)" />
<rect x="325.90" y="64.65" width="1.05" height="18.47" fill="rgb(255,184,184)" />
<rect x="326.90" y="64.65" width="1.05" height="18.47" fill="rgb(255,189,189)" />
<rect x="327.90" y="64.65" width="1.05" height="18.47" fill="rgb(255,194,194)" />
<rect x="328.90" y="64.65" width="1.05" height="18.47" fill="rgb(255,139,139)" />
<rect x="329.90" y="64.65" width="1.05" height="18.47" fill="rgb(255,196,196)" />
<rect x="330.90" y="64.65" width="1.05" height="18.47" fill="rgb(255,189,189)" />
<rect x="331.90" y="64.65" width="1.05" height="18.47" fill="rgb(255,199,199)" />
<rect x="332.90" y="64.65" width="1.05" height="18.47" fill="rgb(255,194,194)" />
<rect x="333.90" y="64.65" width="1.05" height="18.47" fill="rgb(255,140,140)" />
<rect x="334.90" y="64.65" width="1.05" height="18.47" fill="rgb(255,138,138)" />
<rect x="335.90" y="64.65" width="1.05" height="18.47" fill="rgb(255,139,139)" />
<rect x="336.90" y="64.65" width="1.05" height="18.47" fill="rgb(255,195,195)" />
<rect x="263.90" y="83.07" width="1.05" height="18.47" fill="rgb(95,95,255)" />
<rect x="264.90" y="83.07" width="1.05" height="18.47" fill="rgb(89,89,255)" />
<rect x="265.90" y="83.07" width="1.05" height="18.47" fill="rgb(86,86,255)" />
<rect x="266.90" y="83.07" width="1.05" height="18.47" fill="rgb(93,93,255)" />
<rect x="267.90" y="83.07" width="1.05" height="18.47" fill="rgb(255,205,205)" />
<rect x="268.90" y="83.07" width="1.05" height="18.47" fill="rgb(158,158,255)" />
<rect x="269.90" y="83.07" width="1.05" height="18.47" fill="rgb(198,198,255)" />
<rect x="270.90" y="83.07" width="1.05" height="18.47" fill="rgb(160,160,255)" />
<rect x="271.90" y="83.07" width="1.05" height="18.47" fill="rgb(146,146,255)" />
<rect x="272.90" y="83.07" width="1.05" height="18.47" fill="rgb(187,187,255)" />
<rect x="273.90" y="83.07" width="1.05" height="18.47" fill="rgb(239,239,255)" />
<rect x="274.90" y="83.07" width="1.05" height="18.47" fill="rgb(255,170,170)" />
<rect x="275.90" y="83.07" width="1.05" height="18.47" fill="rgb(255,217,217)" />
<rect x="276.90" y="83.07" width="1.05" height="18.47" fill="rgb(255,213,213)" />
<rect x="277.90" y="83.07" width="1.05" height="18.47" fill="rgb(255,237,237)" />
<rect x="278.90" y="83.07" width="1.05" height="18.47" fill="rgb(240,240,255)" />
<rect x="279.90" y="83.07" width="1.05" height="18.47" fill="rgb(190,190,255)" />
<rect x="280.90" y="83.07" width="1.05" height="18.47" fill="rgb(247,247,255)" />
<rect x="281.90" y="83.07" width="1.05" height="18.47" fill="rgb(255,230,230)" />
<rect x="282.90" y="83.07" width="1.05" height="18.47" fill="rgb(193,193,255)" />
<rect x="283.90" y="83.07" width="1.05" height="18.47" fill="rgb(231,231,255)" />
<rect x="284.90" y="83.07" width="1.05" height="18.47" fill="rgb(255,221,221)" />
<rect x="285.90" y="83.07" width="1.05" height="18.47" fill="rgb(255,232,232)" />
<rect x="286.90" y="83.07" width="1.05" height="18.47" fill="rgb(230,230,255)" />
<rect x="287.90" y="83.07" width="1.05" height="18.47" fill="rgb(198,198,255)" />
<rect x="288.90" y="83.07" width="1.05" height="18.47" fill="rgb(241,241,255)" />
<rect x="289.90" y="83.07" width="1.05" height="18.47" fill="rgb(255,244,244)" />
<rect x="290.90" y="83.07" width="1.05" height="18.47" fill="rgb(246,246,255)" />
<rect x="291.90" y="83.07" width="1.05" height="18.47" fill="rgb(184,184,255)" />
<rect x="292.90" y="83.07" width="1.05" height="18.47" fill="rgb(255,219,219)" />
<rect x="293.90" y="83.07" width="1.05" height="18.47" fill="rgb(239,239,255)" />
<rect x="294.90" y="83.07" width="1.05" height="18.47" fill="rgb(184,184,255)" />
<rect x="295.90" y="83.07" width="1.05" height="18.47" fill="rgb(246,246,255)" />
<rect x="296.90" y="83.07" width="1.05" height="18.47" fill="rgb(255,245,245)" />
<rect x="297.90" y="83.07" width="1.05" height="18.47" fill="rgb(255,219,219)" />
<rect x="298.90" y="83.07" width="1.05" height="18.47" fill="rgb(255,202,202)" />
<rect x="299.90" y="83.07" width="1.05" height="18.47" fill="rgb(255,190,190)" />
<rect x="300.90" y="83.07" width="1.05" height="18.47" fill="rgb(255,252,252)" />
<rect x="301.90" y="83.07" width="1.05" height="18.47" fill="rgb(115,115,255)" />
<rect x="302.90" y="83.07" width="1.05" height="18.47" fill="rgb(115,115,255)" />
<rect x="303.90" y="83.07" width="1.05" height="18.47" fill="rgb(255,245,245)" />
<rect x="304.90" y="83.07" width="1.05" height="18.47" fill="rgb(255,242,242)" />
<rect x="305.90" y="83.07" width="1.05" height="18.47" fill="rgb(255,189,189)" />
<rect x="306.90" y="83.07" width="1.05" height="18.47" fill="rgb(255,199,199)" />
<rect x="307.90" y="83.07" width="1.05" height="18.47" fill="rgb(255,252,252)" />
<rect x="308.90" y="83.07" width="1.05" height="18.47" fill="rgb(255,199,199)" />
<rect x="309.90" y="83.07" width="1.05" height="18.47" fill="rgb(255,203,203)" />
<rect x="310.90" y="83.07" width="1.05" height="18.47" fill="rgb(255,252,252)" />
<rect x="311.90" y="83.07" width="1.05" height="18.47" fill="rgb(255,247,247)" />
<rect x="312.90" y="83.07" width="1.05" height="18.47" fill="rgb(206,206,255)" />
<rect x="313.90" y="83.07" width="1.05" height="18.47" fill="rgb(255,197,197)" />
<rect x="314.90" y="83.07" width="1.05" height="18.47" fill="rgb(255,196,196)" />
<rect x="315.90" y="83.07" width="1.05" height="18.47" fill="rgb(174,174,255)" />
<rect x="316.90" y="83.07" width="1.05" height="18.47" fill="rgb(170,170,255)" />
<rect x="317.90" y="83.07" width="1.05" height="18.47" fill="rgb(255,249,249)" />
<rect x="318.90" y="83.07" width="1.05" height="18.47" fill="rgb(255,246,246)" />
<rect x="319.90" y="83.07" width="1.05" height="18.47" fill="rgb(211,211,255)" />
<rect x="320.90" y="83.07" width="1.05" height="18.47" fill="rgb(219,219,255)" />
<rect x="321.90" y="83.07" width="1.05" height="18.47" fill="rgb(255,138,138)" />
<rect x="322.90" y="83.07" width="1.05" height="18.47" fill="rgb(255,155,155)" />
<rect x="323.90" y="83.07" width="1.05" height="18.47" fill="rgb(255,242,242)" />
<rect x="324.90" y="83.07" width="1.05" height="18.47" fill="rgb(255,247,247)" />
<rect x="325.90" y="83.07" width="1.05" height="18.47" fill="rgb(255,200,200)" />
<rect x="326.90" y="83.07" width="1.05" height="18.47" fill="rgb(255,193,193)" />
<rect x="327.90" y="83.07" width="1.05" height="18.47" fill="rgb(255,190,190)" />
<rect x="328.90" y="83.07" width="1.05" height="18.47" fill="rgb(255,184,184)" />
<rect x="329.90" y="83.07" width="1.05" height="18.47" fill="rgb(255,195,195)" />
<rect x="330.90" y="83.07" width="1.05" height="18.47" fill="rgb(255,191,191)" />
<rect x="331.90" y="83.07" width="1.05" height="18.47" fill="rgb(255,243,243)" />
<rect x="332.90" y="83.07" width="1.05" height="18.47" fill="rgb(255,245,245)" />
<rect x="333.90" y="83.07" width="1.05" height="18.47" fill="rgb(255,183,183)" />
<rect x="334.90" y="83.07" width="1.05" height="18.47" fill="rgb(255,193,193)" />
<rect x="335.90" y="83.07" width="1.05" height="18.47" fill="rgb(255,144,144)" />
<rect x="336.90" y="83.07" width="1.05" height="18.47" fill="rgb(255,153,153)" />
<rect x="263.90" y="101.50" width="1.05" height="18.47" fill="rgb(98,98,255)" />
<rect x="264.90" y="101.50" width="1.05" height="18.47" fill="rgb(100,100,255)" />
<rect x="265.90" y="101.50" width="1.05" height="18.47" fill="rgb(96,96,255)" />
<rect x="266.90" y="101.50" width="1.05" height="18.47" fill="rgb(198,198,255)" />
<rect x="267.90" y="101.50" width="1.05" height="18.47" fill="rgb(188,188,255)" />
<rect x="268.90" y="101.50" width="1.05" height="18.47" fill="rgb(159,159,255)" />
<rect x="269.90" y="101.50" width="1.05" height="18.47" fill="rgb(204,204,255)" />
<rect x="270.90" y="101.50" width="1.05" height="18.47" fill="rgb(160,160,255)" />
<rect x="271.90" y="101.50" width="1.05" height="18.47" fill="rgb(151,151,255)" />
<rect x="272.90" y="101.50" width="1.05" height="18.47" fill="rgb(200,200,255)" />
<rect x="273.90" y="101.50" width="1.05" height="18.47" fill="rgb(190,190,255)" />
<rect x="274.90" y="101.50" width="1.05" height="18.47" fill="rgb(255,157,157)" />
<rect x="275.90" y="101.50" width="1.05" height="18.47" fill="rgb(255,232,232)" />
<rect x="276.90" y="101.50" width="1.05" height="18.47" fill="rgb(191,191,255)" />
<rect x="277.90" y="101.50" width="1.05" height="18.47" fill="rgb(185,185,255)" />
<rect x="278.90" y="101.50" width="1.05" height="18.47" fill="rgb(238,238,255)" />
<rect x="279.90" y="101.50" width="1.05" height="18.47" fill="rgb(195,195,255)" />
<rect x="280.90" y="101.50" width="1.05" height="18.47" fill="rgb(245,245,255)" />
<rect x="281.90" y="101.50" width="1.05" height="18.47" fill="rgb(194,194,255)" />
<rect x="282.90" y="101.50" width="1.05" height="18.47" fill="rgb(230,230,255)" />
<rect x="283.90" y="101.50" width="1.05" height="18.47" fill="rgb(255,233,233)" />
<rect x="284.90" y="101.50" width="1.05" height="18.47" fill="rgb(255,221,221)" />
<rect x="285.90" y="101.50" width="1.05" height="18.47" fill="rgb(246,246,255)" />
<rect x="286.90" y="101.50" width="1.05" height="18.47" fill="rgb(187,187,255)" />
<rect x="287.90" y="101.50" width="1.05" height="18.47" fill="rgb(236,236,255)" />
<rect x="288.90" y="101.50" width="1.05" height="18.47" fill="rgb(246,246,255)" />
<rect x="289.90" y="101.50" width="1.05" height="18.47" fill="rgb(186,186,255)" />
<rect x="290.90" y="101.50" width="1.05" height="18.47" fill="rgb(233,233,255)" />
<rect x="291.90" y="101.50" width="1.05" height="18.47" fill="rgb(255,239,239)" />
<rect x="292.90" y="101.50" width="1.05" height="18.47" fill="rgb(244,244,255)" />
<rect x="293.90" y="101.50" width="1.05" height="18.47" fill="rgb(201,201,255)" />
<rect x="294.90" y="101.50" width="1.05" height="18.47" fill="rgb(244,244,255)" />
<rect x="295.90" y="101.50" width="1.05" height="18.47" fill="rgb(255,231,231)" />
<rect x="296.90" y="101.50" width="1.05" height="18.47" fill="rgb(255,212,212)" />
<rect x="297.90" y="101.50" width="1.05" height="18.47" fill="rgb(255,231,231)" />
<rect x="298.90" y="101.50" width="1.05" height="18.47" fill="rgb(255,229,229)" />
<rect x="299.90" y="101.50" width="1.05" height="18.47" fill="rgb(253,253,255)" />
<rect x="300.90" y="101.50" width="1.05" height="18.47" fill="rgb(213,213,255)" />
<rect x="301.90" y="101.50" width="1.05" height="18.47" fill="rgb(108,108,255)" />
<rect x="302.90" y="101.50" width="1.05" height="18.47" fill="rgb(255,247,247)" />
<rect x="303.90" y="101.50" width="1.05" height="18.47" fill="rgb(255,190,190)" />
<rect x="304.90" y="101.50" width="1.05" height="18.47" fill="rgb(255,192,192)" />
<rect x="305.90" y="101.50" width="1.05" height="18.47" fill="rgb(255,214,214)" />
<rect x="306.90" y="101.50" width="1.05" height="18.47" fill="rgb(255,250,250)" />
<rect x="307.90" y="101.50" width="1.05" height="18.47" fill="rgb(255,224,224)" />
<rect x="308.90" y="101.50" width="1.05" height="18.47" fill="rgb(255,195,195)" />
<rect x="309.90" y="101.50" width="1.05" height="18.47" fill="rgb(255,185,185)" />
<rect x="310.90" y="101.50" width="1.05" height="18.47" fill="rgb(255,243,243)" />
<rect x="311.90" y="101.50" width="1.05" height="18.47" fill="rgb(253,253,255)" />
<rect x="312.90" y="101.50" width="1.05" height="18.47" fill="rgb(220,220,255)" />
<rect x="313.90" y="101.50" width="1.05" height="18.47" fill="rgb(255,242,242)" />
<rect x="314.90" y="101.50" width="1.05" height="18.47" fill="rgb(255,251,251)" />
<rect x="315.90" y="101.50" width="1.05" height="18.47" fill="rgb(214,214,255)" />
<rect x="316.90" y="101.50" width="1.05" height="18.47" fill="rgb(207,207,255)" />
<rect x="317.90" y="101.50" width="1.05" height="18.47" fill="rgb(255,250,250)" />
<rect x="318.90" y="101.50" width="1.05" height="18.47" fill="rgb(255,251,251)" />
<rect x="319.90" y="101.50" width="1.05" height="18.47" fill="rgb(255,190,190)" />
<rect x="320.90" y="101.50" width="1.05" height="18.47" fill="rgb(203,203,255)" />
<rect x="321.90" y="101.50" width="1.05" height="18.47" fill="rgb(255,137,137)" />
<rect x="322.90" y="101.50" width="1.05" height="18.47" fill="rgb(255,192,192)" />
<rect x="323.90" y="101.50" width="1.05" height="18.47" fill="rgb(255,253,253)" />
<rect x="324.90" y="101.50" width="1.05" height="18.47" fill="rgb(255,186,186)" />
<rect x="325.90" y="101.50" width="1.05" height="18.47" fill="rgb(255,191,191)" />
<rect x="326.90" y="101.50" width="1.05" height="18.47" fill="rgb(255,193,193)" />
<rect x="327.90" y="101.50" width="1.05" height="18.47" fill="rgb(255,189,189)" />
<rect x="328.90" y="101.50" width="1.05" height="18.47" fill="rgb(255,155,155)" />
<rect x="329.90" y="101.50" width="1.05" height="18.47" fill="rgb(255,192,192)" />
<rect x="330.90" y="101.50" width="1.05" height="18.47" fill="rgb(255,194,194)" />
<rect x="331.90" y="101.50" width="1.05" height="18.47" fill="rgb(255,211,211)" />
<rect x="332.90" y="101.50" width="1.05" height="18.47" fill="rgb(255,184,184)" />
<rect x="333.90" y="101.50" width="1.05" height="18.47" fill="rgb(255,151,151)" />
<rect x="334.90" y="101.50" width="1.05" height="18.47" fill="rgb(255,147,147)" />
<rect x="335.90" y="101.50" width="1.05" height="18.47" fill="rgb(255,154,154)" />
<rect x="336.90" y="101.50" width="1.05" height="18.47" fill="rgb(255,194,194)" />
<rect x="263.90" y="119.92" width="1.05" height="18.47" fill="rgb(100,100,255)" />
<rect x="264.90" y="119.92" width="1.05" height="18.47" fill="rgb(101,101,255)" />
<rect x="265.90" y="119.92" width="1.05" height="18.47" fill="rgb(93,93,255)" />
<rect x="266.90" y="119.92" width="1.05" height="18.47" fill="rgb(190,190,255)" />
<rect x="267.90" y="119.92" width="1.05" height="18.47" fill="rgb(188,188,255)" />
<rect x="268.90" y="119.92" width="1.05" height="18.47" fill="rgb(153,153,255)" />
<rect x="269.90" y="119.92" width="1.05" height="18.47" fill="rgb(159,159,255)" />
<rect x="270.90" y="119.92" width="1.05" height="18.47" fill="rgb(186,186,255)" />
<rect x="271.90" y="119.92" width="1.05" height="18.47" fill="rgb(156,156,255)" />
<rect x="272.90" y="119.92" width="1.05" height="18.47" fill="rgb(184,184,255)" />
<rect x="273.90" y="119.92" width="1.05" height="18.47" fill="rgb(144,144,255)" />
<rect x="274.90" y="119.92" width="1.05" height="18.47" fill="rgb(255,171,171)" />
<rect x="275.90" y="119.92" width="1.05" height="18.47" fill="rgb(255,236,236)" />
<rect x="276.90" y="119.92" width="1.05" height="18.47" fill="rgb(190,190,255)" />
<rect x="277.90" y="119.92" width="1.05" height="18.47" fill="rgb(191,191,255)" />
<rect x="278.90" y="119.92" width="1.05" height="18.47" fill="rgb(242,242,255)" />
<rect x="279.90" y="119.92" width="1.05" height="18.47" fill="rgb(186,186,255)" />
<rect x="280.90" y="119.92" width="1.05" height="18.47" fill="rgb(244,244,255)" />
<rect x="281.90" y="119.92" width="1.05" height="18.47" fill="rgb(186,186,255)" />
<rect x="282.90" y="119.92" width="1.05" height="18.47" fill="rgb(240,240,255)" />
<rect x="283.90" y="119.92" width="1.05" height="18.47" fill="rgb(255,245,245)" />
<rect x="284.90" y="119.92" width="1.05" height="18.47" fill="rgb(255,218,218)" />
<rect x="285.90" y="119.92" width="1.05" height="18.47" fill="rgb(240,240,255)" />
<rect x="286.90" y="119.92" width="1.05" height="18.47" fill="rgb(193,193,255)" />
<rect x="287.90" y="119.92" width="1.05" height="18.47" fill="rgb(237,237,255)" />
<rect x="288.90" y="119.92" width="1.05" height="18.47" fill="rgb(238,238,255)" />
<rect x="289.90" y="119.92" width="1.05" height="18.47" fill="rgb(194,194,255)" />
<rect x="290.90" y="119.92" width="1.05" height="18.47" fill="rgb(233,233,255)" />
<rect x="291.90" y="119.92" width="1.05" height="18.47" fill="rgb(255,246,246)" />
<rect x="292.90" y="119.92" width="1.05" height="18.47" fill="rgb(242,242,255)" />
<rect x="293.90" y="119.92" width="1.05" height="18.47" fill="rgb(197,197,255)" />
<rect x="294.90" y="119.92" width="1.05" height="18.47" fill="rgb(240,240,255)" />
<rect x="295.90" y="119.92" width="1.05" height="18.47" fill="rgb(255,233,233)" />
<rect x="296.90" y="119.92" width="1.05" height="18.47" fill="rgb(255,209,209)" />
<rect x="297.90" y="119.92" width="1.05" height="18.47" fill="rgb(255,232,232)" />
<rect x="298.90" y="119.92" width="1.05" height="18.47" fill="rgb(255,198,198)" />
<rect x="299.90" y="119.92" width="1.05" height="18.47" fill="rgb(255,246,246)" />
<rect x="300.90" y="119.92" width="1.05" height="18.47" fill="rgb(219,219,255)" />
<rect x="301.90" y="119.92" width="1.05" height="18.47" fill="rgb(120,120,255)" />
<rect x="302.90" y="119.92" width="1.05" height="18.47" fill="rgb(255,255,255)" />
<rect x="303.90" y="119.92" width="1.05" height="18.47" fill="rgb(255,196,196)" />
<rect x="304.90" y="119.92" width="1.05" height="18.47" fill="rgb(255,212,212)" />
<rect x="305.90" y="119.92" width="1.05" height="18.47" fill="rgb(255,226,226)" />
<rect x="306.90" y="119.92" width="1.05" height="18.47" fill="rgb(255,241,241)" />
<rect x="307.90" y="119.92" width="1.05" height="18.47" fill="rgb(255,213,213)" />
<rect x="308.90" y="119.92" width="1.05" height="18.47" fill="rgb(255,200,200)" />
<rect x="309.90" y="119.92" width="1.05" height="18.47" fill="rgb(255,198,198)" />
<rect x="310.90" y="119.92" width="1.05" height="18.47" fill="rgb(255,247,247)" />
<rect x="311.90" y="119.92" width="1.05" height="18.47" fill="rgb(254,254,255)" />
<rect x="312.90" y="119.92" width="1.05" height="18.47" fill="rgb(205,205,255)" />
<rect x="313.90" y="119.92" width="1.05" height="18.47" fill="rgb(255,244,244)" />
<rect x="314.90" y="119.92" width="1.05" height="18.47" fill="rgb(255,253,253)" />
<rect x="315.90" y="119.92" width="1.05" height="18.47" fill="rgb(219,219,255)" />
<rect x="316.90" y="119.92" width="1.05" height="18.47" fill="rgb(205,205,255)" />
<rect x="317.90" y="119.92" width="1.05" height="18.47" fill="rgb(255,253,253)" />
<rect x="318.90" y="119.92" width="1.05" height="18.47" fill="rgb(255,247,247)" />
<rect x="319.90" y="119.92" width="1.05" height="18.47" fill="rgb(255,202,202)" />
<rect x="320.90" y="119.92" width="1.05" height="18.47" fill="rgb(253,253,255)" />
<rect x="321.90" y="119.92" width="1.05" height="18.47" fill="rgb(255,143,143)" />
<rect x="322.90" y="119.92" width="1.05" height="18.47" fill="rgb(255,184,184)" />
<rect x="323.90" y="119.92" width="1.05" height="18.47" fill="rgb(255,242,242)" />
<rect x="324.90" y="119.92" width="1.05" height="18.47" fill="rgb(255,200,200)" />
<rect x="325.90" y="119.92" width="1.05" height="18.47" fill="rgb(255,220,220)" />
<rect x="326.90" y="119.92" width="1.05" height="18.47" fill="rgb(255,187,187)" />
<rect x="327.90" y="119.92" width="1.05" height="18.47" fill="rgb(255,192,192)" />
<rect x="328.90" y="119.92" width="1.05" height="18.47" fill="rgb(255,143,143)" />
<rect x="329.90" y="119.92" width="1.05" height="18.47" fill="rgb(255,199,199)" />
<rect x="330.90" y="119.92" width="1.05" height="18.47" fill="rgb(255,201,201)" />
<rect x="331.90" y="119.92" width="1.05" height="18.47" fill="rgb(255,229,229)" />
<rect x="332.90" y="119.92" width="1.05" height="18.47" fill="rgb(255,202,202)" />
<rect x="333.90" y="119.92" width="1.05" height="18.47" fill="rgb(255,146,146)" />
<rect x="334.90" y="119.92" width="1.05" height="18.47" fill="rgb(255,146,146)" />
<rect x="335.90" y="119.92" width="1.05" height="18.47" fill="rgb(255,145,145)" />
<rect x="336.90" y="119.92" width="1.05" height="18.47" fill="rgb(255,200,200)" />
<rect x="263.90" y="138.35" width="1.05" height="18.47" fill="rgb(87,87,255)" />
<rect x="264.90" y="138.35" width="1.05" height="18.47" fill="rgb(87,87,255)" />
<rect x="265.90" y="138.35" width="1.05" height="18.47" fill="rgb(100,100,255)" />
<rect x="266.90" y="138.35" width="1.05" height="18.47" fill="rgb(204,204,255)" />
<rect x="267.90" y="138.35" width="1.05" height="18.47" fill="rgb(203,203,255)" />
<rect x="268.90" y="138.35" width="1.05" height="18.47" fill="rgb(186,186,255)" />
<rect x="269.90" y="138.35" width="1.05" height="18.47" fill="rgb(142,142,255)" />
<rect x="270.90" y="138.35" width="1.05" height="18.47" fill="rgb(160,160,255)" />
<rect x="271.90" y="138.35" width="1.05" height="18.47" fill="rgb(193,193,255)" />
<rect x="272.90" y="138.35" width="1.05" height="18.47" fill="rgb(199,199,255)" />
<rect x="273.90" y="138.35" width="1.05" height="18.47" fill="rgb(147,147,255)" />
<rect x="274.90" y="138.35" width="1.05" height="18.47" fill="rgb(255,166,166)" />
<rect x="275.90" y="138.35" width="1.05" height="18.47" fill="rgb(240,240,255)" />
<rect x="276.90" y="138.35" width="1.05" height="18.47" fill="rgb(192,192,255)" />
<rect x="277.90" y="138.35" width="1.05" height="18.47" fill="rgb(196,196,255)" />
<rect x="278.90" y="138.35" width="1.05" height="18.47" fill="rgb(230,230,255)" />
<rect x="279.90" y="138.35" width="1.05" height="18.47" fill="rgb(198,198,255)" />
<rect x="280.90" y="138.35" width="1.05" height="18.47" fill="rgb(247,247,255)" />
<rect x="281.90" y="138.35" width="1.05" height="18.47" fill="rgb(187,187,255)" />
<rect x="282.90" y="138.35" width="1.05" height="18.47" fill="rgb(239,239,255)" />
<rect x="283.90" y="138.35" width="1.05" height="18.47" fill="rgb(255,235,235)" />
<rect x="284.90" y="138.35" width="1.05" height="18.47" fill="rgb(255,242,242)" />
<rect x="285.90" y="138.35" width="1.05" height="18.47" fill="rgb(233,233,255)" />
<rect x="286.90" y="138.35" width="1.05" height="18.47" fill="rgb(187,187,255)" />
<rect x="287.90" y="138.35" width="1.05" height="18.47" fill="rgb(240,240,255)" />
<rect x="288.90" y="138.35" width="1.05" height="18.47" fill="rgb(230,230,255)" />
<rect x="289.90" y="138.35" width="1.05" height="18.47" fill="rgb(202,202,255)" />
<rect x="290.90" y="138.35" width="1.05" height="18.47" fill="rgb(246,246,255)" />
<rect x="291.90" y="138.35" width="1.05" height="18.47" fill="rgb(255,236,236)" />
<rect x="292.90" y="138.35" width="1.05" height="18.47" fill="rgb(247,247,255)" />
<rect x="293.90" y="138.35" width="1.05" height="18.47" fill="rgb(196,196,255)" />
<rect x="294.90" y="138.35" width="1.05" height="18.47" fill="rgb(238,238,255)" />
<rect x="295.90" y="138.35" width="1.05" height="18.47" fill="rgb(255,238,238)" />
<rect x="296.90" y="138.35" width="1.05" height="18.47" fill="rgb(255,240,240)" />
<rect x="297.90" y="138.35" width="1.05" height="18.47" fill="rgb(255,202,202)" />
<rect x="298.90" y="138.35" width="1.05" height="18.47" fill="rgb(255,186,186)" />
<rect x="299.90" y="138.35" width="1.05" height="18.47" fill="rgb(254,254,255)" />
<rect x="300.90" y="138.35" width="1.05" height="18.47" fill="rgb(221,221,255)" />
<rect x="301.90" y="138.35" width="1.05" height="18.47" fill="rgb(117,117,255)" />
<rect x="302.90" y="138.35" width="1.05" height="18.47" fill="rgb(255,246,246)" />
<rect x="303.90" y="138.35" width="1.05" height="18.47" fill="rgb(255,186,186)" />
<rect x="304.90" y="138.35" width="1.05" height="18.47" fill="rgb(255,194,194)" />
<rect x="305.90" y="138.35" width="1.05" height="18.47" fill="rgb(255,212,212)" />
<rect x="306.90" y="138.35" width="1.05" height="18.47" fill="rgb(255,243,243)" />
<rect x="307.90" y="138.35" width="1.05" height="18.47" fill="rgb(255,217,217)" />
<rect x="308.90" y="138.35" width="1.05" height="18.47" fill="rgb(255,187,187)" />
<rect x="309.90" y="138.35" width="1.05" height="18.47" fill="rgb(255,187,187)" />
<rect x="310.90" y="138.35" width="1.05" height="18.47" fill="rgb(255,253,253)" />
<rect x="311.90" y="138.35" width="1.05" height="18.47" fill="rgb(255,247,247)" />
<rect x="312.90" y="138.35" width="1.05" height="18.47" fill="rgb(204,204,255)" />
<rect x="313.90" y="138.35" width="1.05" height="18.47" fill="rgb(255,254,254)" />
<rect x="314.90" y="138.35" width="1.05" height="18.47" fill="rgb(255,252,252)" />
<rect x="315.90" y="138.35" width="1.05" height="18.47" fill="rgb(160,160,255)" />
<rect x="316.90" y="138.35" width="1.05" height="18.47" fill="rgb(210,210,255)" />
<rect x="317.90" y="138.35" width="1.05" height="18.47" fill="rgb(255,248,248)" />
<rect x="318.90" y="138.35" width="1.05" height="18.47" fill="rgb(255,249,249)" />
<rect x="319.90" y="138.35" width="1.05" height="18.47" fill="rgb(255,198,198)" />
<rect x="320.90" y="138.35" width="1.05" height="18.47" fill="rgb(222,222,255)" />
<rect x="321.90" y="138.35" width="1.05" height="18.47" fill="rgb(255,143,143)" />
<rect x="322.90" y="138.35" width="1.05" height="18.47" fill="rgb(255,196,196)" />
<rect x="323.90" y="138.35" width="1.05" height="18.47" fill="rgb(255,248,248)" />
<rect x="324.90" y="138.35" width="1.05" height="18.47" fill="rgb(255,191,191)" />
<rect x="325.90" y="138.35" width="1.05" height="18.47" fill="rgb(255,192,192)" />
<rect x="326.90" y="138.35" width="1.05" height="18.47" fill="rgb(255,195,195)" />
<rect x="327.90" y="138.35" width="1.05" height="18.47" fill="rgb(255,182,182)" />
<rect x="328.90" y="138.35" width="1.05" height="18.47" fill="rgb(255,144,144)" />
<rect x="329.90" y="138.35" width="1.05" height="18.47" fill="rgb(255,188,188)" />
<rect x="330.90" y="138.35" width="1.05" height="18.47" fill="rgb(255,187,187)" />
<rect x="331.90" y="138.35" width="1.05" height="18.47" fill="rgb(255,183,183)" />
<rect x="332.90" y="138.35" width="1.05" height="18.47" fill="rgb(255,202,202)" />
<rect x="333.90" y="138.35" width="1.05" height="18.47" fill="rgb(255,144,144)" />
<rect x="334.90" y="138.35" width="1.05" height="18.47" fill="rgb(255,142,142)" />
<rect x="335.90" y="138.35" width="1.05" height="18.47" fill="rgb(255,152,152)" />
<rect x="336.90" y="138.35" width="1.05" height="18.47" fill="rgb(255,149,149)" />
<rect x="263.90" y="156.77" width="1.05" height="18.47" fill="rgb(84,84,255)" />
<rect x="264.90" y="156.77" width="1.05" height="18.47" fill="rgb(87,87,255)" />
<rect x="265.90" y="156.77" width="1.05" height="18.47" fill="rgb(91,91,255)" />
<rect x="266.90" y="156.77" width="1.05" height="18.47" fill="rgb(186,186,255)" />
<rect x="267.90" y="156.77" width="1.05" height="18.47" fill="rgb(189,189,255)" />
<rect x="268.90" y="156.77" width="1.05" height="18.47" fill="rgb(159,159,255)" />
<rect x="269.90" y="156.77" width="1.05" height="18.47" fill="rgb(151,151,255)" />
<rect x="270.90" y="156.77" width="1.05" height="18.47" fill="rgb(194,194,255)" />
<rect x="271.90" y="156.77" width="1.05" height="18.47" fill="rgb(160,160,255)" />
<rect x="272.90" y="156.77" width="1.05" height="18.47" fill="rgb(152,152,255)" />
<rect x="273.90" y="156.77" width="1.05" height="18.47" fill="rgb(161,161,255)" />
<rect x="274.90" y="156.77" width="1.05" height="18.47" fill="rgb(255,163,163)" />
<rect x="275.90" y="156.77" width="1.05" height="18.47" fill="rgb(246,246,255)" />
<rect x="276.90" y="156.77" width="1.05" height="18.47" fill="rgb(185,185,255)" />
<rect x="277.90" y="156.77" width="1.05" height="18.47" fill="rgb(196,196,255)" />
<rect x="278.90" y="156.77" width="1.05" height="18.47" fill="rgb(245,245,255)" />
<rect x="279.90" y="156.77" width="1.05" height="18.47" fill="rgb(185,185,255)" />
<rect x="280.90" y="156.77" width="1.05" height="18.47" fill="rgb(248,248,255)" />
<rect x="281.90" y="156.77" width="1.05" height="18.47" fill="rgb(187,187,255)" />
<rect x="282.90" y="156.77" width="1.05" height="18.47" fill="rgb(239,239,255)" />
<rect x="283.90" y="156.77" width="1.05" height="18.47" fill="rgb(255,246,246)" />
<rect x="284.90" y="156.77" width="1.05" height="18.47" fill="rgb(255,240,240)" />
<rect x="285.90" y="156.77" width="1.05" height="18.47" fill="rgb(242,242,255)" />
<rect x="286.90" y="156.77" width="1.05" height="18.47" fill="rgb(185,185,255)" />
<rect x="287.90" y="156.77" width="1.05" height="18.47" fill="rgb(249,249,255)" />
<rect x="288.90" y="156.77" width="1.05" height="18.47" fill="rgb(255,241,241)" />
<rect x="289.90" y="156.77" width="1.05" height="18.47" fill="rgb(194,194,255)" />
<rect x="290.90" y="156.77" width="1.05" height="18.47" fill="rgb(242,242,255)" />
<rect x="291.90" y="156.77" width="1.05" height="18.47" fill="rgb(255,242,242)" />
<rect x="292.90" y="156.77" width="1.05" height="18.47" fill="rgb(235,235,255)" />
<rect x="293.90" y="156.77" width="1.05" height="18.47" fill="rgb(197,197,255)" />
<rect x="294.90" y="156.77" width="1.05" height="18.47" fill="rgb(241,241,255)" />
<rect x="295.90" y="156.77" width="1.05" height="18.47" fill="rgb(255,244,244)" />
<rect x="296.90" y="156.77" width="1.05" height="18.47" fill="rgb(255,207,207)" />
<rect x="297.90" y="156.77" width="1.05" height="18.47" fill="rgb(255,244,244)" />
<rect x="298.90" y="156.77" width="1.05" height="18.47" fill="rgb(255,230,230)" />
<rect x="299.90" y="156.77" width="1.05" height="18.47" fill="rgb(254,254,255)" />
<rect x="300.90" y="156.77" width="1.05" height="18.47" fill="rgb(204,204,255)" />
<rect x="301.90" y="156.77" width="1.05" height="18.47" fill="rgb(105,105,255)" />
<rect x="302.90" y="156.77" width="1.05" height="18.47" fill="rgb(255,246,246)" />
<rect x="303.90" y="156.77" width="1.05" height="18.47" fill="rgb(255,195,195)" />
<rect x="304.90" y="156.77" width="1.05" height="18.47" fill="rgb(255,212,212)" />
<rect x="305.90" y="156.77" width="1.05" height="18.47" fill="rgb(255,246,246)" />
<rect x="306.90" y="156.77" width="1.05" height="18.47" fill="rgb(250,250,255)" />
<rect x="307.90" y="156.77" width="1.05" height="18.47" fill="rgb(255,211,211)" />
<rect x="308.90" y="156.77" width="1.05" height="18.47" fill="rgb(255,183,183)" />
<rect x="309.90" y="156.77" width="1.05" height="18.47" fill="rgb(255,201,201)" />
<rect x="310.90" y="156.77" width="1.05" height="18.47" fill="rgb(255,243,243)" />
<rect x="311.90" y="156.77" width="1.05" height="18.47" fill="rgb(255,253,253)" />
<rect x="312.90" y="156.77" width="1.05" height="18.47" fill="rgb(212,212,255)" />
<rect x="313.90" y="156.77" width="1.05" height="18.47" fill="rgb(255,242,242)" />
<rect x="314.90" y="156.77" width="1.05" height="18.47" fill="rgb(254,254,255)" />
<rect x="315.90" y="156.77" width="1.05" height="18.47" fill="rgb(213,213,255)" />
<rect x="316.90" y="156.77" width="1.05" height="18.47" fill="rgb(222,222,255)" />
<rect x="317.90" y="156.77" width="1.05" height="18.47" fill="rgb(255,247,247)" />
<rect x="318.90" y="156.77" width="1.05" height="18.47" fill="rgb(255,252,252)" />
<rect x="319.90" y="156.77" width="1.05" height="18.47" fill="rgb(255,211,211)" />
<rect x="320.90" y="156.77" width="1.05" height="18.47" fill="rgb(219,219,255)" />
<rect x="321.90" y="156.77" width="1.05" height="18.47" fill="rgb(255,190,190)" />
<rect x="322.90" y="156.77" width="1.05" height="18.47" fill="rgb(255,228,228)" />
<rect x="323.90" y="156.77" width="1.05" height="18.47" fill="rgb(255,249,249)" />
<rect x="324.90" y="156.77" width="1.05" height="18.47" fill="rgb(255,193,193)" />
<rect x="325.90" y="156.77" width="1.05" height="18.47" fill="rgb(255,199,199)" />
<rect x="326.90" y="156.77" width="1.05" height="18.47" fill="rgb(255,230,230)" />
<rect x="327.90" y="156.77" width="1.05" height="18.47" fill="rgb(255,192,192)" />
<rect x="328.90" y="156.77" width="1.05" height="18.47" fill="rgb(255,154,154)" />
<rect x="329.90" y="156.77" width="1.05" height="18.47" fill="rgb(255,194,194)" />
<rect x="330.90" y="156.77" width="1.05" height="18.47" fill="rgb(255,189,189)" />
<rect x="331.90" y="156.77" width="1.05" height="18.47" fill="rgb(255,193,193)" />
<rect x="332.90" y="156.77" width="1.05" height="18.47" fill="rgb(255,197,197)" />
<rect x="333.90" y="156.77" width="1.05" height="18.47" fill="rgb(255,191,191)" />
<rect x="334.90" y="156.77" width="1.05" height="18.47" fill="rgb(255,148,148)" />
<rect x="335.90" y="156.77" width="1.05" height="18.47" fill="rgb(255,141,141)" />
<rect x="336.90" y="156.77" width="1.05" height="18.47" fill="rgb(255,146,146)" />
<line x1="258.30" y1="55.44" x2="258.30" y2="73.86" stroke="#8c8c8c" stroke-width="0.75" />
<line x1="258.30" y1="55.44" x2="263.90" y2="55.44" stroke="#8c8c8c" stroke-width="0.75" />
<line x1="258.30" y1="73.86" x2="263.90" y2="73.86" stroke="#8c8c8c" stroke-width="0.75" />
<line x1="256.20" y1="147.56" x2="256.20" y2="165.99" stroke="#8c8c8c" stroke-width="0.75" />
<line x1="256.20" y1="147.56" x2="263.90" y2="147.56" stroke="#8c8c8c" stroke-width="0.75" />
<line x1="256.20" y1="165.99" x2="263.90" y2="165.99" stroke="#8c8c8c" stroke-width="0.75" />
<line x1="258.20" y1="110.71" x2="258.20" y2="129.14" stroke="#8c8c8c" stroke-width="0.75" />
<line x1="258.20" y1="110.71" x2="263.90" y2="110.71" stroke="#8c8c8c" stroke-width="0.75" />
<line x1="258.20" y1="129.14" x2="263.90" y2="129.14" stroke="#8c8c8c" stroke-width="0.75" />
<line x1="255.60" y1="119.92" x2="255.60" y2="156.77" stroke="#8c8c8c" stroke-width="0.75" />
<line x1="255.60" y1="119.92" x2="258.20" y2="119.92" stroke="#8c8c8c" stroke-width="0.75" />
<line x1="255.60" y1="156.77" x2="256.20" y2="156.77" stroke="#8c8c8c" stroke-width="0.75" />
<line x1="254.40" y1="92.29" x2="254.40" y2="138.35" stroke="#8c8c8c" stroke-width="0.75" />
<line x1="254.40" y1="92.29" x2="263.90" y2="92.29" stroke="#8c8c8c" stroke-width="0.75" />
<line x1="254.40" y1="138.35" x2="255.60" y2="138.35" stroke="#8c8c8c" stroke-width="0.75" />
<line x1="253.30" y1="64.65" x2="253.30" y2="115.32" stroke="#8c8c8c" stroke-width="0.75" />
<line x1="253.30" y1="64.65" x2="258.30" y2="64.65" stroke="#8c8c8c" stroke-width="0.75" />
<line x1="253.30" y1="115.32" x2="254.40" y2="115.32" stroke="#8c8c8c" stroke-width="0.75" />
<line x1="244.80" y1="37.01" x2="244.80" y2="89.98" stroke="#8c8c8c" stroke-width="0.75" />
<line x1="244.80" y1="37.01" x2="263.90" y2="37.01" stroke="#8c8c8c" stroke-width="0.75" />
<line x1="244.80" y1="89.98" x2="253.30" y2="89.98" stroke="#8c8c8c" stroke-width="0.75" />
<rect x="21.30" y="204.30" width="3.50" height="1.50" fill="#1ea3e6" stroke="#23485a" stroke-width="0.35"/>
<rect x="28.30" y="202.80" width="3.50" height="3.00" fill="#1ea3e6" stroke="#23485a" stroke-width="0.35"/>
<rect x="35.30" y="201.30" width="3.50" height="4.50" fill="#1ea3e6" stroke="#23485a" stroke-width="0.35"/>
<rect x="38.80" y="202.60" width="3.50" height="3.20" fill="#1ea3e6" stroke="#23485a" stroke-width="0.35"/>
<rect x="42.30" y="201.10" width="3.50" height="4.70" fill="#1ea3e6" stroke="#23485a" stroke-width="0.35"/>
<rect x="45.80" y="199.30" width="3.50" height="6.50" fill="#1ea3e6" stroke="#23485a" stroke-width="0.35"/>
<rect x="49.30" y="194.30" width="3.50" height="11.50" fill="#1ea3e6" stroke="#23485a" stroke-width="0.35"/>
<rect x="52.80" y="197.20" width="3.50" height="8.60" fill="#1ea3e6" stroke="#23485a" stroke-width="0.35"/>
<rect x="56.30" y="198.10" width="3.50" height="7.70" fill="#1ea3e6" stroke="#23485a" stroke-width="0.35"/>
<rect x="59.80" y="195.80" width="3.50" height="10.00" fill="#1ea3e6" stroke="#23485a" stroke-width="0.35"/>
<rect x="63.30" y="201.30" width="3.50" height="4.50" fill="#1ea3e6" stroke="#23485a" stroke-width="0.35"/>
<rect x="66.80" y="188.40" width="3.50" height="17.40" fill="#1ea3e6" stroke="#23485a" stroke-width="0.35"/>
<rect x="70.30" y="194.30" width="3.50" height="11.50" fill="#1ea3e6" stroke="#23485a" stroke-width="0.35"/>
<rect x="73.80" y="189.80" width="3.50" height="16.00" fill="#1ea3e6" stroke="#23485a" stroke-width="0.35"/>
<rect x="77.30" y="198.40" width="3.50" height="7.40" fill="#1ea3e6" stroke="#23485a" stroke-width="0.35"/>
<rect x="80.80" y="202.80" width="3.50" height="3.00" fill="#1ea3e6" stroke="#23485a" stroke-width="0.35"/>
<rect x="84.30" y="194.30" width="3.50" height="11.50" fill="#1ea3e6" stroke="#23485a" stroke-width="0.35"/>
<rect x="87.80" y="196.90" width="3.50" height="8.90" fill="#1ea3e6" stroke="#23485a" stroke-width="0.35"/>
<rect x="91.30" y="199.90" width="3.50" height="5.90" fill="#1ea3e6" stroke="#23485a" stroke-width="0.35"/>
<rect x="94.80" y="198.40" width="3.50" height="7.40" fill="#1ea3e6" stroke="#23485a" stroke-width="0.35"/>
<rect x="98.30" y="202.60" width="3.50" height="3.20" fill="#1ea3e6" stroke="#23485a" stroke-width="0.35"/>
<rect x="101.80" y="204.30" width="3.50" height="1.50" fill="#1ea3e6" stroke="#23485a" stroke-width="0.35"/>
<rect x="105.30" y="204.30" width="3.50" height="1.50" fill="#1ea3e6" stroke="#23485a" stroke-width="0.35"/>
<rect x="119.30" y="202.60" width="3.50" height="3.20" fill="#1ea3e6" stroke="#23485a" stroke-width="0.35"/>
<line x1="21.30" y1="205.80" x2="122.80" y2="205.80" stroke="#9a9a9a" stroke-width="0.4" />
<polyline points="21.30,204.93 22.99,204.77 24.68,204.59 26.38,204.38 28.07,204.15 29.76,203.89 31.45,203.60 33.14,203.28 34.83,202.93 36.52,202.56 38.22,202.15 39.91,201.72 41.60,201.26 43.29,200.78 44.98,200.28 46.67,199.77 48.37,199.25 50.06,198.72 51.75,198.19 53.44,197.67 55.13,197.17 56.83,196.69 58.52,196.23 60.21,195.81 61.90,195.43 63.59,195.10 65.28,194.82 66.97,194.59 68.67,194.43 70.36,194.33 72.05,194.30 73.74,194.33 75.43,194.43 77.12,194.59 78.82,194.82 80.51,195.10 82.20,195.43 83.89,195.81 85.58,196.23 87.27,196.69 88.97,197.17 90.66,197.67 92.35,198.19 94.04,198.72 95.73,199.25 97.42,199.77 99.12,200.28 100.81,200.78 102.50,201.26 104.19,201.72 105.88,202.15 107.58,202.56 109.27,202.93 110.96,203.28 112.65,203.60 114.34,203.89 116.03,204.15 117.72,204.38 119.42,204.59 121.11,204.77 122.80,204.93" fill="none" stroke="#333" stroke-width="0.45" stroke-linejoin="round" />
<rect x="16.40" y="206.30" width="110.20" height="94.90" fill="#ffffff" />
<line x1="16.40" y1="231.30" x2="126.60" y2="231.30" stroke="#f4f4f4" stroke-width="0.5" />
<line x1="16.40" y1="254.70" x2="126.60" y2="254.70" stroke="#f4f4f4" stroke-width="0.5" />
<line x1="16.40" y1="278.00" x2="126.60" y2="278.00" stroke="#f4f4f4" stroke-width="0.5" />
<line x1="55.90" y1="206.30" x2="55.90" y2="301.20" stroke="#f4f4f4" stroke-width="0.5" />
<line x1="85.70" y1="206.30" x2="85.70" y2="301.20" stroke="#f4f4f4" stroke-width="0.5" />
<line x1="26.10" y1="206.30" x2="26.10" y2="301.20" stroke="#f4f4f4" stroke-width="0.5" />
<line x1="115.50" y1="206.30" x2="115.50" y2="301.20" stroke="#f4f4f4" stroke-width="0.5" />
<line x1="16.40" y1="219.60" x2="126.60" y2="219.60" stroke="#ebebeb" stroke-width="0.8" />
<line x1="16.40" y1="243.00" x2="126.60" y2="243.00" stroke="#ebebeb" stroke-width="0.8" />
<line x1="16.40" y1="266.30" x2="126.60" y2="266.30" stroke="#ebebeb" stroke-width="0.8" />
<line x1="16.40" y1="289.60" x2="126.60" y2="289.60" stroke="#ebebeb" stroke-width="0.8" />
<line x1="41.00" y1="206.30" x2="41.00" y2="301.20" stroke="#ebebeb" stroke-width="0.8" />
<line x1="70.80" y1="206.30" x2="70.80" y2="301.20" stroke="#ebebeb" stroke-width="0.8" />
<line x1="100.60" y1="206.30" x2="100.60" y2="301.20" stroke="#ebebeb" stroke-width="0.8" />
<rect x="16.40" y="206.30" width="110.20" height="94.90" fill="none" stroke="#a8a8a8" stroke-width="0.8"/>
<path d="M21.8,244.00 Q72.00,273.10 122.2,280.60 L122.2,297.40 Q72.00,267.10 21.8,258.40 Z" fill="#d2d2d2" opacity="0.85"/>
<circle cx="61.4" cy="210.9" r="0.85" fill="#565656"/>
<circle cx="38.3" cy="222.9" r="0.85" fill="#565656"/>
<circle cx="40.8" cy="226.4" r="0.85" fill="#565656"/>
<circle cx="68.7" cy="229.6" r="0.85" fill="#565656"/>
<circle cx="68.4" cy="233.0" r="0.85" fill="#565656"/>
<circle cx="69.0" cy="235.3" r="0.85" fill="#565656"/>
<circle cx="45.1" cy="235.3" r="0.85" fill="#565656"/>
<circle cx="56.1" cy="235.0" r="0.85" fill="#565656"/>
<circle cx="61.4" cy="243.0" r="0.85" fill="#565656"/>
<circle cx="70.1" cy="248.8" r="0.85" fill="#565656"/>
<circle cx="52.6" cy="249.6" r="0.85" fill="#565656"/>
<circle cx="49.2" cy="251.0" r="0.85" fill="#565656"/>
<circle cx="69.8" cy="251.0" r="0.85" fill="#565656"/>
<circle cx="50.0" cy="253.5" r="0.85" fill="#565656"/>
<circle cx="58.8" cy="253.1" r="0.85" fill="#565656"/>
<circle cx="57.9" cy="256.3" r="0.85" fill="#565656"/>
<circle cx="60.5" cy="256.3" r="0.85" fill="#565656"/>
<circle cx="68.7" cy="255.4" r="0.85" fill="#565656"/>
<circle cx="53.5" cy="258.0" r="0.85" fill="#565656"/>
<circle cx="43.0" cy="255.4" r="0.85" fill="#565656"/>
<circle cx="47.4" cy="258.0" r="0.85" fill="#565656"/>
<circle cx="41.3" cy="262.7" r="0.85" fill="#565656"/>
<circle cx="48.3" cy="263.6" r="0.85" fill="#565656"/>
<circle cx="52.3" cy="263.6" r="0.85" fill="#565656"/>
<circle cx="57.5" cy="262.7" r="0.85" fill="#565656"/>
<circle cx="60.5" cy="265.3" r="0.85" fill="#565656"/>
<circle cx="64.0" cy="266.2" r="0.85" fill="#565656"/>
<circle cx="35.7" cy="265.7" r="0.85" fill="#565656"/>
<circle cx="38.2" cy="265.7" r="0.85" fill="#565656"/>
<circle cx="51.8" cy="267.1" r="0.85" fill="#565656"/>
<circle cx="49.2" cy="268.0" r="0.85" fill="#565656"/>
<circle cx="58.8" cy="269.2" r="0.85" fill="#565656"/>
<circle cx="62.2" cy="269.7" r="0.85" fill="#565656"/>
<circle cx="21.6" cy="270.2" r="0.85" fill="#565656"/>
<circle cx="30.8" cy="270.9" r="0.85" fill="#565656"/>
<circle cx="44.8" cy="272.3" r="0.85" fill="#565656"/>
<circle cx="48.8" cy="271.4" r="0.85" fill="#565656"/>
<circle cx="52.6" cy="271.8" r="0.85" fill="#565656"/>
<circle cx="56.5" cy="272.8" r="0.85" fill="#565656"/>
<circle cx="68.4" cy="272.3" r="0.85" fill="#565656"/>
<circle cx="47.4" cy="277.6" r="0.85" fill="#565656"/>
<circle cx="64.3" cy="276.7" r="0.85" fill="#565656"/>
<circle cx="67.5" cy="278.4" r="0.85" fill="#565656"/>
<circle cx="50.9" cy="281.4" r="0.85" fill="#565656"/>
<circle cx="54.0" cy="281.4" r="0.85" fill="#565656"/>
<circle cx="66.3" cy="281.0" r="0.85" fill="#565656"/>
<circle cx="52.1" cy="286.3" r="0.85" fill="#565656"/>
<circle cx="67.5" cy="287.7" r="0.85" fill="#565656"/>
<circle cx="71.0" cy="282.4" r="0.85" fill="#565656"/>
<circle cx="83.1" cy="222.2" r="0.85" fill="#565656"/>
<circle cx="95.3" cy="246.1" r="0.85" fill="#565656"/>
<circle cx="80.1" cy="253.1" r="0.85" fill="#565656"/>
<circle cx="80.1" cy="254.8" r="0.85" fill="#565656"/>
<circle cx="71.7" cy="261.8" r="0.85" fill="#565656"/>
<circle cx="76.1" cy="265.3" r="0.85" fill="#565656"/>
<circle cx="83.9" cy="267.9" r="0.85" fill="#565656"/>
<circle cx="78.7" cy="269.6" r="0.85" fill="#565656"/>
<circle cx="94.4" cy="268.8" r="0.85" fill="#565656"/>
<circle cx="101.0" cy="276.6" r="0.85" fill="#565656"/>
<circle cx="70.9" cy="275.7" r="0.85" fill="#565656"/>
<circle cx="73.5" cy="277.5" r="0.85" fill="#565656"/>
<circle cx="76.1" cy="281.8" r="0.85" fill="#565656"/>
<circle cx="79.6" cy="279.2" r="0.85" fill="#565656"/>
<circle cx="82.2" cy="282.7" r="0.85" fill="#565656"/>
<circle cx="85.7" cy="280.1" r="0.85" fill="#565656"/>
<circle cx="86.6" cy="283.6" r="0.85" fill="#565656"/>
<circle cx="89.2" cy="281.0" r="0.85" fill="#565656"/>
<circle cx="90.9" cy="283.6" r="0.85" fill="#565656"/>
<circle cx="94.4" cy="281.8" r="0.85" fill="#565656"/>
<circle cx="96.1" cy="281.0" r="0.85" fill="#565656"/>
<circle cx="73.5" cy="283.6" r="0.85" fill="#565656"/>
<circle cx="74.4" cy="286.2" r="0.85" fill="#565656"/>
<circle cx="80.5" cy="284.4" r="0.85" fill="#565656"/>
<circle cx="84.8" cy="286.2" r="0.85" fill="#565656"/>
<circle cx="87.4" cy="285.3" r="0.85" fill="#565656"/>
<circle cx="89.2" cy="287.9" r="0.85" fill="#565656"/>
<circle cx="96.1" cy="287.0" r="0.85" fill="#565656"/>
<circle cx="103.1" cy="286.2" r="0.85" fill="#565656"/>
<circle cx="106.6" cy="287.0" r="0.85" fill="#565656"/>
<circle cx="121.4" cy="282.7" r="0.85" fill="#565656"/>
<circle cx="70.0" cy="279.2" r="0.85" fill="#565656"/>
<circle cx="62.0" cy="275.0" r="0.85" fill="#565656"/>
<circle cx="59.0" cy="279.0" r="0.85" fill="#565656"/>
<circle cx="55.0" cy="284.0" r="0.85" fill="#565656"/>
<circle cx="63.0" cy="283.5" r="0.85" fill="#565656"/>
<line x1="21.80" y1="251.20" x2="122.20" y2="289.00" stroke="#1f2fe6" stroke-width="1.4" />
<rect x="127.80" y="211.00" width="1.70" height="3.00" fill="#f26b12" stroke="#5a2a10" stroke-width="0.3"/>
<rect x="127.80" y="214.00" width="0.80" height="3.00" fill="#f26b12" stroke="#5a2a10" stroke-width="0.3"/>
<rect x="127.80" y="217.00" width="0.80" height="3.00" fill="#f26b12" stroke="#5a2a10" stroke-width="0.3"/>
<rect x="127.80" y="220.00" width="0.80" height="3.00" fill="#f26b12" stroke="#5a2a10" stroke-width="0.3"/>
<rect x="127.80" y="223.00" width="0.80" height="3.00" fill="#f26b12" stroke="#5a2a10" stroke-width="0.3"/>
<rect x="127.80" y="226.00" width="0.80" height="3.00" fill="#f26b12" stroke="#5a2a10" stroke-width="0.3"/>
<rect x="127.80" y="229.00" width="0.50" height="3.00" fill="#f26b12" stroke="#5a2a10" stroke-width="0.3"/>
<rect x="127.80" y="232.00" width="0.80" height="3.00" fill="#f26b12" stroke="#5a2a10" stroke-width="0.3"/>
<rect x="127.80" y="235.00" width="4.00" height="3.00" fill="#f26b12" stroke="#5a2a10" stroke-width="0.3"/>
<rect x="127.80" y="238.00" width="0.50" height="3.00" fill="#f26b12" stroke="#5a2a10" stroke-width="0.3"/>
<rect x="127.80" y="241.00" width="1.20" height="3.00" fill="#f26b12" stroke="#5a2a10" stroke-width="0.3"/>
<rect x="127.80" y="244.00" width="0.50" height="3.00" fill="#f26b12" stroke="#5a2a10" stroke-width="0.3"/>
<rect x="127.80" y="247.00" width="1.50" height="3.00" fill="#f26b12" stroke="#5a2a10" stroke-width="0.3"/>
<rect x="127.80" y="250.00" width="4.00" height="3.00" fill="#f26b12" stroke="#5a2a10" stroke-width="0.3"/>
<rect x="127.80" y="253.00" width="8.60" height="3.00" fill="#f26b12" stroke="#5a2a10" stroke-width="0.3"/>
<rect x="127.80" y="256.00" width="4.30" height="3.00" fill="#f26b12" stroke="#5a2a10" stroke-width="0.3"/>
<rect x="127.80" y="259.00" width="1.70" height="3.00" fill="#f26b12" stroke="#5a2a10" stroke-width="0.3"/>
<rect x="127.80" y="262.00" width="5.20" height="3.00" fill="#f26b12" stroke="#5a2a10" stroke-width="0.3"/>
<rect x="127.80" y="265.00" width="6.90" height="3.00" fill="#f26b12" stroke="#5a2a10" stroke-width="0.3"/>
<rect x="127.80" y="268.00" width="12.90" height="3.00" fill="#f26b12" stroke="#5a2a10" stroke-width="0.3"/>
<rect x="127.80" y="271.00" width="9.50" height="3.00" fill="#f26b12" stroke="#5a2a10" stroke-width="0.3"/>
<rect x="127.80" y="274.00" width="6.00" height="3.00" fill="#f26b12" stroke="#5a2a10" stroke-width="0.3"/>
<rect x="127.80" y="277.00" width="12.00" height="3.00" fill="#f26b12" stroke="#5a2a10" stroke-width="0.3"/>
<rect x="127.80" y="280.00" width="20.20" height="3.00" fill="#f26b12" stroke="#5a2a10" stroke-width="0.3"/>
<rect x="127.80" y="283.00" width="12.90" height="3.00" fill="#f26b12" stroke="#5a2a10" stroke-width="0.3"/>
<rect x="127.80" y="286.00" width="15.50" height="3.00" fill="#f26b12" stroke="#5a2a10" stroke-width="0.3"/>
<line x1="127.80" y1="206.30" x2="127.80" y2="301.20" stroke="#9a9a9a" stroke-width="0.4" />
<polyline points="127.80,214.00 128.30,225.00 129.00,235.00 130.50,247.00 133.00,258.00 136.50,268.00 139.50,276.00 141.00,281.00 140.00,286.00 136.00,291.00 131.00,295.00 128.00,297.00" fill="none" stroke="#333" stroke-width="0.45" stroke-linejoin="round" />
<rect x="175.00" y="206.50" width="3.44" height="1.50" fill="#1ea3e6" stroke="#23485a" stroke-width="0.35"/>
<rect x="181.88" y="205.00" width="3.44" height="3.00" fill="#1ea3e6" stroke="#23485a" stroke-width="0.35"/>
<rect x="188.77" y="203.50" width="3.44" height="4.50" fill="#1ea3e6" stroke="#23485a" stroke-width="0.35"/>
<rect x="192.21" y="204.80" width="3.44" height="3.20" fill="#1ea3e6" stroke="#23485a" stroke-width="0.35"/>
<rect x="195.65" y="203.30" width="3.44" height="4.70" fill="#1ea3e6" stroke="#23485a" stroke-width="0.35"/>
<rect x="199.09" y="201.50" width="3.44" height="6.50" fill="#1ea3e6" stroke="#23485a" stroke-width="0.35"/>
<rect x="202.53" y="196.50" width="3.44" height="11.50" fill="#1ea3e6" stroke="#23485a" stroke-width="0.35"/>
<rect x="205.97" y="199.40" width="3.44" height="8.60" fill="#1ea3e6" stroke="#23485a" stroke-width="0.35"/>
<rect x="209.41" y="200.30" width="3.44" height="7.70" fill="#1ea3e6" stroke="#23485a" stroke-width="0.35"/>
<rect x="212.86" y="198.00" width="3.44" height="10.00" fill="#1ea3e6" stroke="#23485a" stroke-width="0.35"/>
<rect x="216.30" y="203.50" width="3.44" height="4.50" fill="#1ea3e6" stroke="#23485a" stroke-width="0.35"/>
<rect x="219.74" y="190.60" width="3.44" height="17.40" fill="#1ea3e6" stroke="#23485a" stroke-width="0.35"/>
<rect x="223.18" y="196.50" width="3.44" height="11.50" fill="#1ea3e6" stroke="#23485a" stroke-width="0.35"/>
<rect x="226.62" y="192.00" width="3.44" height="16.00" fill="#1ea3e6" stroke="#23485a" stroke-width="0.35"/>
<rect x="230.06" y="200.60" width="3.44" height="7.40" fill="#1ea3e6" stroke="#23485a" stroke-width="0.35"/>
<rect x="233.50" y="205.00" width="3.44" height="3.00" fill="#1ea3e6" stroke="#23485a" stroke-width="0.35"/>
<rect x="236.94" y="196.50" width="3.44" height="11.50" fill="#1ea3e6" stroke="#23485a" stroke-width="0.35"/>
<rect x="240.39" y="199.10" width="3.44" height="8.90" fill="#1ea3e6" stroke="#23485a" stroke-width="0.35"/>
<rect x="243.83" y="202.10" width="3.44" height="5.90" fill="#1ea3e6" stroke="#23485a" stroke-width="0.35"/>
<rect x="247.27" y="200.60" width="3.44" height="7.40" fill="#1ea3e6" stroke="#23485a" stroke-width="0.35"/>
<rect x="250.71" y="204.80" width="3.44" height="3.20" fill="#1ea3e6" stroke="#23485a" stroke-width="0.35"/>
<rect x="254.15" y="206.50" width="3.44" height="1.50" fill="#1ea3e6" stroke="#23485a" stroke-width="0.35"/>
<rect x="257.59" y="206.50" width="3.44" height="1.50" fill="#1ea3e6" stroke="#23485a" stroke-width="0.35"/>
<rect x="271.36" y="204.80" width="3.44" height="3.20" fill="#1ea3e6" stroke="#23485a" stroke-width="0.35"/>
<line x1="175.00" y1="208.00" x2="274.80" y2="208.00" stroke="#9a9a9a" stroke-width="0.4" />
<polyline points="175.00,207.13 176.66,206.97 178.33,206.79 179.99,206.58 181.65,206.35 183.32,206.09 184.98,205.80 186.64,205.48 188.31,205.13 189.97,204.76 191.63,204.35 193.30,203.92 194.96,203.46 196.62,202.98 198.29,202.48 199.95,201.97 201.61,201.45 203.28,200.92 204.94,200.39 206.60,199.87 208.27,199.37 209.93,198.89 211.59,198.43 213.26,198.01 214.92,197.63 216.58,197.30 218.25,197.02 219.91,196.79 221.57,196.63 223.24,196.53 224.90,196.50 226.56,196.53 228.23,196.63 229.89,196.79 231.55,197.02 233.22,197.30 234.88,197.63 236.54,198.01 238.21,198.43 239.87,198.89 241.53,199.37 243.20,199.87 244.86,200.39 246.52,200.92 248.19,201.45 249.85,201.97 251.51,202.48 253.18,202.98 254.84,203.46 256.50,203.92 258.17,204.35 259.83,204.76 261.49,205.13 263.16,205.48 264.82,205.80 266.48,206.09 268.15,206.35 269.81,206.58 271.47,206.79 273.14,206.97 274.80,207.13" fill="none" stroke="#333" stroke-width="0.45" stroke-linejoin="round" />
<rect x="170.00" y="208.50" width="110.40" height="95.10" fill="#ffffff" />
<line x1="170.00" y1="223.80" x2="280.40" y2="223.80" stroke="#f4f4f4" stroke-width="0.5" />
<line x1="170.00" y1="252.40" x2="280.40" y2="252.40" stroke="#f4f4f4" stroke-width="0.5" />
<line x1="170.00" y1="281.00" x2="280.40" y2="281.00" stroke="#f4f4f4" stroke-width="0.5" />
<line x1="209.90" y1="208.50" x2="209.90" y2="303.60" stroke="#f4f4f4" stroke-width="0.5" />
<line x1="239.70" y1="208.50" x2="239.70" y2="303.60" stroke="#f4f4f4" stroke-width="0.5" />
<line x1="180.10" y1="208.50" x2="180.10" y2="303.60" stroke="#f4f4f4" stroke-width="0.5" />
<line x1="269.50" y1="208.50" x2="269.50" y2="303.60" stroke="#f4f4f4" stroke-width="0.5" />
<line x1="170.00" y1="238.10" x2="280.40" y2="238.10" stroke="#ebebeb" stroke-width="0.8" />
<line x1="170.00" y1="266.60" x2="280.40" y2="266.60" stroke="#ebebeb" stroke-width="0.8" />
<line x1="170.00" y1="295.40" x2="280.40" y2="295.40" stroke="#ebebeb" stroke-width="0.8" />
<line x1="195.00" y1="208.50" x2="195.00" y2="303.60" stroke="#ebebeb" stroke-width="0.8" />
<line x1="224.80" y1="208.50" x2="224.80" y2="303.60" stroke="#ebebeb" stroke-width="0.8" />
<line x1="254.60" y1="208.50" x2="254.60" y2="303.60" stroke="#ebebeb" stroke-width="0.8" />
<rect x="170.00" y="208.50" width="110.40" height="95.10" fill="none" stroke="#a8a8a8" stroke-width="0.8"/>
<path d="M175.0,252.50 Q225.15,280.25 275.3,280.40 L275.3,299.60 Q225.15,272.05 175.0,272.10 Z" fill="#d2d2d2" opacity="0.85"/>
<circle cx="222.4" cy="213.2" r="0.85" fill="#565656"/>
<circle cx="194.1" cy="219.9" r="0.85" fill="#565656"/>
<circle cx="184.8" cy="231.6" r="0.85" fill="#565656"/>
<circle cx="209.8" cy="245.5" r="0.85" fill="#565656"/>
<circle cx="212.8" cy="247.8" r="0.85" fill="#565656"/>
<circle cx="215.0" cy="247.3" r="0.85" fill="#565656"/>
<circle cx="205.8" cy="249.9" r="0.85" fill="#565656"/>
<circle cx="209.3" cy="250.4" r="0.85" fill="#565656"/>
<circle cx="214.5" cy="251.3" r="0.85" fill="#565656"/>
<circle cx="217.5" cy="250.2" r="0.85" fill="#565656"/>
<circle cx="191.8" cy="251.6" r="0.85" fill="#565656"/>
<circle cx="198.8" cy="256.9" r="0.85" fill="#565656"/>
<circle cx="200.5" cy="256.0" r="0.85" fill="#565656"/>
<circle cx="216.2" cy="256.0" r="0.85" fill="#565656"/>
<circle cx="191.8" cy="257.7" r="0.85" fill="#565656"/>
<circle cx="202.8" cy="259.0" r="0.85" fill="#565656"/>
<circle cx="208.0" cy="260.4" r="0.85" fill="#565656"/>
<circle cx="205.8" cy="262.1" r="0.85" fill="#565656"/>
<circle cx="215.4" cy="261.8" r="0.85" fill="#565656"/>
<circle cx="222.4" cy="263.5" r="0.85" fill="#565656"/>
<circle cx="200.5" cy="264.2" r="0.85" fill="#565656"/>
<circle cx="211.5" cy="269.1" r="0.85" fill="#565656"/>
<circle cx="174.9" cy="273.4" r="0.85" fill="#565656"/>
<circle cx="196.5" cy="275.2" r="0.85" fill="#565656"/>
<circle cx="203.2" cy="277.5" r="0.85" fill="#565656"/>
<circle cx="205.8" cy="278.7" r="0.85" fill="#565656"/>
<circle cx="212.8" cy="279.6" r="0.85" fill="#565656"/>
<circle cx="223.2" cy="277.8" r="0.85" fill="#565656"/>
<circle cx="189.2" cy="281.3" r="0.85" fill="#565656"/>
<circle cx="214.5" cy="281.3" r="0.85" fill="#565656"/>
<circle cx="205.8" cy="283.0" r="0.85" fill="#565656"/>
<circle cx="221.5" cy="283.9" r="0.85" fill="#565656"/>
<circle cx="194.4" cy="287.4" r="0.85" fill="#565656"/>
<circle cx="217.5" cy="286.5" r="0.85" fill="#565656"/>
<circle cx="210.5" cy="287.4" r="0.85" fill="#565656"/>
<circle cx="184.3" cy="289.2" r="0.85" fill="#565656"/>
<circle cx="198.8" cy="289.2" r="0.85" fill="#565656"/>
<circle cx="202.8" cy="289.7" r="0.85" fill="#565656"/>
<circle cx="213.6" cy="288.6" r="0.85" fill="#565656"/>
<circle cx="228.9" cy="239.4" r="0.85" fill="#565656"/>
<circle cx="227.1" cy="243.7" r="0.85" fill="#565656"/>
<circle cx="233.6" cy="246.0" r="0.85" fill="#565656"/>
<circle cx="248.8" cy="243.2" r="0.85" fill="#565656"/>
<circle cx="240.0" cy="253.7" r="0.85" fill="#565656"/>
<circle cx="254.0" cy="256.5" r="0.85" fill="#565656"/>
<circle cx="226.6" cy="256.8" r="0.85" fill="#565656"/>
<circle cx="227.8" cy="259.4" r="0.85" fill="#565656"/>
<circle cx="229.6" cy="262.0" r="0.85" fill="#565656"/>
<circle cx="224.9" cy="262.9" r="0.85" fill="#565656"/>
<circle cx="244.6" cy="267.3" r="0.85" fill="#565656"/>
<circle cx="232.7" cy="269.4" r="0.85" fill="#565656"/>
<circle cx="259.7" cy="273.4" r="0.85" fill="#565656"/>
<circle cx="237.9" cy="272.8" r="0.85" fill="#565656"/>
<circle cx="242.3" cy="276.0" r="0.85" fill="#565656"/>
<circle cx="254.0" cy="278.1" r="0.85" fill="#565656"/>
<circle cx="224.9" cy="279.5" r="0.85" fill="#565656"/>
<circle cx="229.2" cy="282.1" r="0.85" fill="#565656"/>
<circle cx="233.6" cy="279.8" r="0.85" fill="#565656"/>
<circle cx="238.8" cy="283.3" r="0.85" fill="#565656"/>
<circle cx="243.2" cy="281.2" r="0.85" fill="#565656"/>
<circle cx="248.4" cy="284.7" r="0.85" fill="#565656"/>
<circle cx="250.1" cy="283.8" r="0.85" fill="#565656"/>
<circle cx="274.2" cy="285.6" r="0.85" fill="#565656"/>
<circle cx="227.5" cy="286.4" r="0.85" fill="#565656"/>
<circle cx="201.4" cy="294.9" r="0.8" fill="#333"/>
<circle cx="202.6" cy="294.9" r="0.8" fill="#333"/>
<circle cx="203.8" cy="294.9" r="0.8" fill="#333"/>
<circle cx="205.0" cy="294.9" r="0.8" fill="#333"/>
<circle cx="206.2" cy="294.9" r="0.8" fill="#333"/>
<circle cx="207.4" cy="294.9" r="0.8" fill="#333"/>
<circle cx="208.2" cy="294.9" r="0.8" fill="#333"/>
<circle cx="210.5" cy="294.9" r="0.8" fill="#333"/>
<circle cx="218.9" cy="294.9" r="0.8" fill="#333"/>
<circle cx="220.0" cy="294.9" r="0.8" fill="#333"/>
<circle cx="221.2" cy="294.9" r="0.8" fill="#333"/>
<circle cx="222.4" cy="294.9" r="0.8" fill="#333"/>
<circle cx="223.6" cy="294.9" r="0.8" fill="#333"/>
<circle cx="224.8" cy="294.9" r="0.8" fill="#333"/>
<circle cx="226.0" cy="294.9" r="0.8" fill="#333"/>
<circle cx="227.2" cy="294.9" r="0.8" fill="#333"/>
<circle cx="228.4" cy="294.9" r="0.8" fill="#333"/>
<circle cx="229.6" cy="294.9" r="0.8" fill="#333"/>
<circle cx="230.8" cy="294.9" r="0.8" fill="#333"/>
<circle cx="232.0" cy="294.9" r="0.8" fill="#333"/>
<circle cx="233.2" cy="294.9" r="0.8" fill="#333"/>
<circle cx="234.4" cy="294.9" r="0.8" fill="#333"/>
<circle cx="235.6" cy="294.9" r="0.8" fill="#333"/>
<circle cx="237.0" cy="294.9" r="0.8" fill="#333"/>
<circle cx="239.7" cy="294.9" r="0.8" fill="#333"/>
<circle cx="241.0" cy="294.9" r="0.8" fill="#333"/>
<circle cx="242.3" cy="294.9" r="0.8" fill="#333"/>
<circle cx="243.6" cy="294.9" r="0.8" fill="#333"/>
<circle cx="244.9" cy="294.9" r="0.8" fill="#333"/>
<circle cx="246.2" cy="294.9" r="0.8" fill="#333"/>
<circle cx="247.5" cy="294.9" r="0.8" fill="#333"/>
<circle cx="249.3" cy="294.9" r="0.8" fill="#333"/>
<circle cx="256.2" cy="294.9" r="0.8" fill="#333"/>
<circle cx="275.1" cy="294.9" r="0.8" fill="#333"/>
<line x1="175.00" y1="262.30" x2="275.30" y2="290.00" stroke="#1f2fe6" stroke-width="1.4" />
<rect x="281.20" y="212.90" width="0.90" height="5.10" fill="#f26b12" stroke="#5a2a10" stroke-width="0.3"/>
<rect x="281.20" y="218.00" width="0.90" height="6.00" fill="#f26b12" stroke="#5a2a10" stroke-width="0.3"/>
<rect x="281.20" y="224.00" width="0.90" height="6.00" fill="#f26b12" stroke="#5a2a10" stroke-width="0.3"/>
<rect x="281.20" y="230.00" width="0.90" height="6.00" fill="#f26b12" stroke="#5a2a10" stroke-width="0.3"/>
<rect x="281.20" y="236.00" width="0.90" height="6.00" fill="#f26b12" stroke="#5a2a10" stroke-width="0.3"/>
<rect x="281.20" y="242.90" width="2.40" height="2.60" fill="#f26b12" stroke="#5a2a10" stroke-width="0.3"/>
<rect x="281.20" y="245.50" width="3.50" height="4.50" fill="#f26b12" stroke="#5a2a10" stroke-width="0.3"/>
<rect x="281.20" y="250.00" width="2.10" height="5.20" fill="#f26b12" stroke="#5a2a10" stroke-width="0.3"/>
<rect x="281.20" y="255.20" width="4.20" height="4.80" fill="#f26b12" stroke="#5a2a10" stroke-width="0.3"/>
<rect x="281.20" y="260.00" width="3.00" height="4.00" fill="#f26b12" stroke="#5a2a10" stroke-width="0.3"/>
<rect x="281.20" y="264.00" width="3.80" height="6.00" fill="#f26b12" stroke="#5a2a10" stroke-width="0.3"/>
<rect x="281.20" y="270.00" width="3.00" height="5.40" fill="#f26b12" stroke="#5a2a10" stroke-width="0.3"/>
<rect x="281.20" y="275.40" width="8.20" height="4.60" fill="#f26b12" stroke="#5a2a10" stroke-width="0.3"/>
<rect x="281.20" y="280.00" width="4.70" height="5.00" fill="#f26b12" stroke="#5a2a10" stroke-width="0.3"/>
<rect x="281.20" y="285.00" width="3.80" height="5.00" fill="#f26b12" stroke="#5a2a10" stroke-width="0.3"/>
<rect x="281.20" y="290.00" width="2.00" height="2.10" fill="#f26b12" stroke="#5a2a10" stroke-width="0.3"/>
<rect x="281.20" y="292.10" width="20.50" height="4.40" fill="#f26b12" stroke="#5a2a10" stroke-width="0.3"/>
<line x1="281.20" y1="208.50" x2="281.20" y2="303.60" stroke="#9a9a9a" stroke-width="0.4" />
<polyline points="281.20,214.00 281.80,230.00 282.50,245.00 283.80,258.00 285.50,270.00 286.50,282.00 286.00,290.00 284.00,295.00 282.00,299.00 281.20,302.00" fill="none" stroke="#333" stroke-width="0.45" stroke-linejoin="round" />
<rect x="322.50" y="204.00" width="3.47" height="1.50" fill="#1ea3e6" stroke="#23485a" stroke-width="0.35"/>
<rect x="329.43" y="202.50" width="3.47" height="3.00" fill="#1ea3e6" stroke="#23485a" stroke-width="0.35"/>
<rect x="336.36" y="201.00" width="3.47" height="4.50" fill="#1ea3e6" stroke="#23485a" stroke-width="0.35"/>
<rect x="339.83" y="202.30" width="3.47" height="3.20" fill="#1ea3e6" stroke="#23485a" stroke-width="0.35"/>
<rect x="343.29" y="200.80" width="3.47" height="4.70" fill="#1ea3e6" stroke="#23485a" stroke-width="0.35"/>
<rect x="346.76" y="199.00" width="3.47" height="6.50" fill="#1ea3e6" stroke="#23485a" stroke-width="0.35"/>
<rect x="350.22" y="194.00" width="3.47" height="11.50" fill="#1ea3e6" stroke="#23485a" stroke-width="0.35"/>
<rect x="353.69" y="196.90" width="3.47" height="8.60" fill="#1ea3e6" stroke="#23485a" stroke-width="0.35"/>
<rect x="357.16" y="197.80" width="3.47" height="7.70" fill="#1ea3e6" stroke="#23485a" stroke-width="0.35"/>
<rect x="360.62" y="195.50" width="3.47" height="10.00" fill="#1ea3e6" stroke="#23485a" stroke-width="0.35"/>
<rect x="364.09" y="201.00" width="3.47" height="4.50" fill="#1ea3e6" stroke="#23485a" stroke-width="0.35"/>
<rect x="367.55" y="188.10" width="3.47" height="17.40" fill="#1ea3e6" stroke="#23485a" stroke-width="0.35"/>
<rect x="371.02" y="194.00" width="3.47" height="11.50" fill="#1ea3e6" stroke="#23485a" stroke-width="0.35"/>
<rect x="374.48" y="189.50" width="3.47" height="16.00" fill="#1ea3e6" stroke="#23485a" stroke-width="0.35"/>
<rect x="377.95" y="198.10" width="3.47" height="7.40" fill="#1ea3e6" stroke="#23485a" stroke-width="0.35"/>
<rect x="381.41" y="202.50" width="3.47" height="3.00" fill="#1ea3e6" stroke="#23485a" stroke-width="0.35"/>
<rect x="384.88" y="194.00" width="3.47" height="11.50" fill="#1ea3e6" stroke="#23485a" stroke-width="0.35"/>
<rect x="388.34" y="196.60" width="3.47" height="8.90" fill="#1ea3e6" stroke="#23485a" stroke-width="0.35"/>
<rect x="391.81" y="199.60" width="3.47" height="5.90" fill="#1ea3e6" stroke="#23485a" stroke-width="0.35"/>
<rect x="395.28" y="198.10" width="3.47" height="7.40" fill="#1ea3e6" stroke="#23485a" stroke-width="0.35"/>
<rect x="398.74" y="202.30" width="3.47" height="3.20" fill="#1ea3e6" stroke="#23485a" stroke-width="0.35"/>
<rect x="402.21" y="204.00" width="3.47" height="1.50" fill="#1ea3e6" stroke="#23485a" stroke-width="0.35"/>
<rect x="405.67" y="204.00" width="3.47" height="1.50" fill="#1ea3e6" stroke="#23485a" stroke-width="0.35"/>
<rect x="419.53" y="202.30" width="3.47" height="3.20" fill="#1ea3e6" stroke="#23485a" stroke-width="0.35"/>
<line x1="322.50" y1="205.50" x2="423.00" y2="205.50" stroke="#9a9a9a" stroke-width="0.4" />
<polyline points="322.50,204.63 324.18,204.47 325.85,204.29 327.52,204.08 329.20,203.85 330.88,203.59 332.55,203.30 334.23,202.98 335.90,202.63 337.57,202.26 339.25,201.85 340.93,201.42 342.60,200.96 344.27,200.48 345.95,199.98 347.62,199.47 349.30,198.95 350.98,198.42 352.65,197.89 354.32,197.37 356.00,196.87 357.68,196.39 359.35,195.93 361.02,195.51 362.70,195.13 364.38,194.80 366.05,194.52 367.73,194.29 369.40,194.13 371.07,194.03 372.75,194.00 374.43,194.03 376.10,194.13 377.77,194.29 379.45,194.52 381.12,194.80 382.80,195.13 384.48,195.51 386.15,195.93 387.82,196.39 389.50,196.87 391.18,197.37 392.85,197.89 394.52,198.42 396.20,198.95 397.88,199.47 399.55,199.98 401.23,200.48 402.90,200.96 404.57,201.42 406.25,201.85 407.93,202.26 409.60,202.63 411.27,202.98 412.95,203.30 414.62,203.59 416.30,203.85 417.98,204.08 419.65,204.29 421.32,204.47 423.00,204.63" fill="none" stroke="#333" stroke-width="0.45" stroke-linejoin="round" />
<rect x="317.90" y="206.20" width="110.70" height="96.30" fill="#ffffff" />
<line x1="317.90" y1="215.90" x2="428.60" y2="215.90" stroke="#f4f4f4" stroke-width="0.5" />
<line x1="317.90" y1="244.10" x2="428.60" y2="244.10" stroke="#f4f4f4" stroke-width="0.5" />
<line x1="317.90" y1="272.40" x2="428.60" y2="272.40" stroke="#f4f4f4" stroke-width="0.5" />
<line x1="317.90" y1="300.60" x2="428.60" y2="300.60" stroke="#f4f4f4" stroke-width="0.5" />
<line x1="357.00" y1="206.20" x2="357.00" y2="302.50" stroke="#f4f4f4" stroke-width="0.5" />
<line x1="386.80" y1="206.20" x2="386.80" y2="302.50" stroke="#f4f4f4" stroke-width="0.5" />
<line x1="327.20" y1="206.20" x2="327.20" y2="302.50" stroke="#f4f4f4" stroke-width="0.5" />
<line x1="416.60" y1="206.20" x2="416.60" y2="302.50" stroke="#f4f4f4" stroke-width="0.5" />
<line x1="317.90" y1="230.00" x2="428.60" y2="230.00" stroke="#ebebeb" stroke-width="0.8" />
<line x1="317.90" y1="258.20" x2="428.60" y2="258.20" stroke="#ebebeb" stroke-width="0.8" />
<line x1="317.90" y1="286.50" x2="428.60" y2="286.50" stroke="#ebebeb" stroke-width="0.8" />
<line x1="342.10" y1="206.20" x2="342.10" y2="302.50" stroke="#ebebeb" stroke-width="0.8" />
<line x1="371.90" y1="206.20" x2="371.90" y2="302.50" stroke="#ebebeb" stroke-width="0.8" />
<line x1="401.70" y1="206.20" x2="401.70" y2="302.50" stroke="#ebebeb" stroke-width="0.8" />
<rect x="317.90" y="206.20" width="110.70" height="96.30" fill="none" stroke="#a8a8a8" stroke-width="0.8"/>
<path d="M323.0,250.80 Q373.00,279.60 423.0,280.80 L423.0,299.20 Q373.00,271.40 323.0,271.20 Z" fill="#d2d2d2" opacity="0.85"/>
<circle cx="332.8" cy="216.5" r="0.85" fill="#565656"/>
<circle cx="342.4" cy="236.0" r="0.85" fill="#565656"/>
<circle cx="350.8" cy="235.3" r="0.85" fill="#565656"/>
<circle cx="366.9" cy="233.6" r="0.85" fill="#565656"/>
<circle cx="369.5" cy="238.3" r="0.85" fill="#565656"/>
<circle cx="350.3" cy="245.8" r="0.85" fill="#565656"/>
<circle cx="357.3" cy="243.5" r="0.85" fill="#565656"/>
<circle cx="332.0" cy="248.2" r="0.85" fill="#565656"/>
<circle cx="360.2" cy="248.4" r="0.85" fill="#565656"/>
<circle cx="341.6" cy="253.1" r="0.85" fill="#565656"/>
<circle cx="354.6" cy="252.8" r="0.85" fill="#565656"/>
<circle cx="365.1" cy="253.1" r="0.85" fill="#565656"/>
<circle cx="339.5" cy="256.6" r="0.85" fill="#565656"/>
<circle cx="370.4" cy="255.7" r="0.85" fill="#565656"/>
<circle cx="362.5" cy="258.4" r="0.85" fill="#565656"/>
<circle cx="337.2" cy="261.5" r="0.85" fill="#565656"/>
<circle cx="348.0" cy="263.2" r="0.85" fill="#565656"/>
<circle cx="353.8" cy="265.3" r="0.85" fill="#565656"/>
<circle cx="339.8" cy="268.0" r="0.85" fill="#565656"/>
<circle cx="370.4" cy="266.2" r="0.85" fill="#565656"/>
<circle cx="371.2" cy="268.0" r="0.85" fill="#565656"/>
<circle cx="350.3" cy="272.3" r="0.85" fill="#565656"/>
<circle cx="370.4" cy="271.4" r="0.85" fill="#565656"/>
<circle cx="359.0" cy="276.7" r="0.85" fill="#565656"/>
<circle cx="361.6" cy="278.4" r="0.85" fill="#565656"/>
<circle cx="352.9" cy="281.0" r="0.85" fill="#565656"/>
<circle cx="359.0" cy="281.4" r="0.85" fill="#565656"/>
<circle cx="348.5" cy="282.8" r="0.85" fill="#565656"/>
<circle cx="369.5" cy="280.2" r="0.85" fill="#565656"/>
<circle cx="369.5" cy="282.8" r="0.85" fill="#565656"/>
<circle cx="350.3" cy="284.5" r="0.85" fill="#565656"/>
<circle cx="375.8" cy="211.2" r="0.85" fill="#565656"/>
<circle cx="381.1" cy="222.6" r="0.85" fill="#565656"/>
<circle cx="379.8" cy="252.7" r="0.85" fill="#565656"/>
<circle cx="385.1" cy="253.9" r="0.85" fill="#565656"/>
<circle cx="396.1" cy="258.3" r="0.85" fill="#565656"/>
<circle cx="377.2" cy="261.8" r="0.85" fill="#565656"/>
<circle cx="395.0" cy="263.2" r="0.85" fill="#565656"/>
<circle cx="372.9" cy="264.4" r="0.85" fill="#565656"/>
<circle cx="395.5" cy="266.7" r="0.85" fill="#565656"/>
<circle cx="378.1" cy="270.8" r="0.85" fill="#565656"/>
<circle cx="402.0" cy="271.9" r="0.85" fill="#565656"/>
<circle cx="385.1" cy="274.9" r="0.85" fill="#565656"/>
<circle cx="323.2" cy="286.6" r="0.8" fill="#333"/>
<circle cx="344.2" cy="286.6" r="0.8" fill="#333"/>
<circle cx="345.9" cy="286.6" r="0.8" fill="#333"/>
<circle cx="350.3" cy="286.6" r="0.8" fill="#333"/>
<circle cx="351.5" cy="286.6" r="0.8" fill="#333"/>
<circle cx="352.7" cy="286.6" r="0.8" fill="#333"/>
<circle cx="353.9" cy="286.6" r="0.8" fill="#333"/>
<circle cx="355.1" cy="286.6" r="0.8" fill="#333"/>
<circle cx="356.3" cy="286.6" r="0.8" fill="#333"/>
<circle cx="357.5" cy="286.6" r="0.8" fill="#333"/>
<circle cx="358.7" cy="286.6" r="0.8" fill="#333"/>
<circle cx="359.9" cy="286.6" r="0.8" fill="#333"/>
<circle cx="362.5" cy="286.6" r="0.8" fill="#333"/>
<circle cx="363.7" cy="286.6" r="0.8" fill="#333"/>
<circle cx="364.9" cy="286.6" r="0.8" fill="#333"/>
<circle cx="366.1" cy="286.6" r="0.8" fill="#333"/>
<circle cx="367.3" cy="286.6" r="0.8" fill="#333"/>
<circle cx="368.5" cy="286.6" r="0.8" fill="#333"/>
<circle cx="369.7" cy="286.6" r="0.8" fill="#333"/>
<circle cx="370.9" cy="286.6" r="0.8" fill="#333"/>
<circle cx="372.1" cy="286.6" r="0.8" fill="#333"/>
<circle cx="373.3" cy="286.6" r="0.8" fill="#333"/>
<circle cx="374.5" cy="286.6" r="0.8" fill="#333"/>
<circle cx="375.7" cy="286.6" r="0.8" fill="#333"/>
<circle cx="377.2" cy="286.6" r="0.8" fill="#333"/>
<circle cx="380.7" cy="286.6" r="0.8" fill="#333"/>
<circle cx="382.5" cy="286.6" r="0.8" fill="#333"/>
<circle cx="385.0" cy="286.6" r="0.8" fill="#333"/>
<circle cx="386.2" cy="286.6" r="0.8" fill="#333"/>
<circle cx="387.4" cy="286.6" r="0.8" fill="#333"/>
<circle cx="388.6" cy="286.6" r="0.8" fill="#333"/>
<circle cx="389.8" cy="286.6" r="0.8" fill="#333"/>
<circle cx="391.2" cy="286.6" r="0.8" fill="#333"/>
<circle cx="392.0" cy="286.6" r="0.8" fill="#333"/>
<circle cx="393.2" cy="286.6" r="0.8" fill="#333"/>
<circle cx="394.4" cy="286.6" r="0.8" fill="#333"/>
<circle cx="395.6" cy="286.6" r="0.8" fill="#333"/>
<circle cx="396.8" cy="286.6" r="0.8" fill="#333"/>
<circle cx="398.0" cy="286.6" r="0.8" fill="#333"/>
<circle cx="399.0" cy="286.6" r="0.8" fill="#333"/>
<circle cx="401.6" cy="286.6" r="0.8" fill="#333"/>
<circle cx="402.8" cy="286.6" r="0.8" fill="#333"/>
<circle cx="404.2" cy="286.6" r="0.8" fill="#333"/>
<circle cx="407.7" cy="286.6" r="0.8" fill="#333"/>
<circle cx="422.5" cy="286.6" r="0.8" fill="#333"/>
<line x1="323.00" y1="261.00" x2="423.00" y2="290.00" stroke="#1f2fe6" stroke-width="1.4" />
<rect x="429.20" y="210.30" width="0.70" height="5.70" fill="#f26b12" stroke="#5a2a10" stroke-width="0.3"/>
<rect x="429.20" y="216.00" width="0.70" height="6.00" fill="#f26b12" stroke="#5a2a10" stroke-width="0.3"/>
<rect x="429.20" y="222.00" width="0.70" height="6.00" fill="#f26b12" stroke="#5a2a10" stroke-width="0.3"/>
<rect x="429.20" y="228.00" width="0.70" height="6.00" fill="#f26b12" stroke="#5a2a10" stroke-width="0.3"/>
<rect x="429.20" y="234.00" width="0.90" height="2.00" fill="#f26b12" stroke="#5a2a10" stroke-width="0.3"/>
<rect x="429.20" y="236.00" width="1.60" height="4.00" fill="#f26b12" stroke="#5a2a10" stroke-width="0.3"/>
<rect x="429.20" y="240.00" width="0.90" height="6.00" fill="#f26b12" stroke="#5a2a10" stroke-width="0.3"/>
<rect x="429.20" y="246.00" width="1.10" height="4.00" fill="#f26b12" stroke="#5a2a10" stroke-width="0.3"/>
<rect x="429.20" y="250.00" width="1.50" height="5.00" fill="#f26b12" stroke="#5a2a10" stroke-width="0.3"/>
<rect x="429.20" y="255.00" width="1.50" height="5.00" fill="#f26b12" stroke="#5a2a10" stroke-width="0.3"/>
<rect x="429.20" y="260.00" width="1.20" height="5.00" fill="#f26b12" stroke="#5a2a10" stroke-width="0.3"/>
<rect x="429.20" y="265.00" width="1.80" height="5.00" fill="#f26b12" stroke="#5a2a10" stroke-width="0.3"/>
<rect x="429.20" y="270.00" width="1.50" height="5.00" fill="#f26b12" stroke="#5a2a10" stroke-width="0.3"/>
<rect x="429.20" y="275.00" width="1.50" height="5.00" fill="#f26b12" stroke="#5a2a10" stroke-width="0.3"/>
<rect x="429.20" y="280.00" width="1.80" height="6.00" fill="#f26b12" stroke="#5a2a10" stroke-width="0.3"/>
<rect x="429.20" y="286.00" width="20.20" height="3.20" fill="#f26b12" stroke="#5a2a10" stroke-width="0.3"/>
<line x1="429.20" y1="206.20" x2="429.20" y2="302.50" stroke="#9a9a9a" stroke-width="0.4" />
<polyline points="429.20,212.00 429.60,235.00 430.50,255.00 432.50,272.00 434.80,284.00 433.50,290.00 431.00,294.00 429.20,297.40" fill="none" stroke="#333" stroke-width="0.45" stroke-linejoin="round" />
<rect x="135.4" y="323.6" width="7.8" height="8.2" fill="#3aa9c9" stroke="#555" stroke-width="0.35"/>
<line x1="139.30" y1="323.90" x2="139.30" y2="331.50" stroke="#111" stroke-width="0.9" />
<ellipse cx="139.3" cy="327.70000000000005" rx="2.652" ry="2.706" fill="#fff"/>
<rect x="268.1" y="324.2" width="7.8" height="8.2" fill="#e0622c" stroke="#555" stroke-width="0.35"/>
<line x1="272.00" y1="324.50" x2="272.00" y2="332.10" stroke="#111" stroke-width="0.9" />
<ellipse cx="272.0" cy="328.3" rx="2.652" ry="2.706" fill="#fff"/>
<rect x="40.5" y="335.5" width="391.0" height="159.0" fill="none" stroke="#7a7a7a" stroke-width="0.9"/>
<line x1="37.60" y1="489.10" x2="40.50" y2="489.10" stroke="#555" stroke-width="0.6" />
<line x1="37.60" y1="462.60" x2="40.50" y2="462.60" stroke="#555" stroke-width="0.6" />
<line x1="37.60" y1="436.10" x2="40.50" y2="436.10" stroke="#555" stroke-width="0.6" />
<line x1="37.60" y1="409.60" x2="40.50" y2="409.60" stroke="#555" stroke-width="0.6" />
<line x1="37.60" y1="383.10" x2="40.50" y2="383.10" stroke="#555" stroke-width="0.6" />
<line x1="37.60" y1="356.60" x2="40.50" y2="356.60" stroke="#555" stroke-width="0.6" />
<linearGradient id="vg1" gradientUnits="userSpaceOnUse" x1="0" y1="445.00" x2="0" y2="481.00"><stop offset="0" stop-color="#9a9a9a"/><stop offset="0.55" stop-color="#3a3a3a"/><stop offset="1" stop-color="#262626"/></linearGradient>
<linearGradient id="fvg1" gradientUnits="userSpaceOnUse" x1="0" y1="445.00" x2="0" y2="482.00"><stop offset="0" stop-color="#8a8a8a"/><stop offset="0.68" stop-color="#213a44"/><stop offset="0.85" stop-color="#213a44"/><stop offset="1" stop-color="#3aa9c9"/></linearGradient>
<polygon points="54.67,445.00 54.68,450.50 54.72,456.00 54.76,461.50 54.80,467.00 54.84,472.50 54.85,478.00 54.96,479.00 55.24,480.00 55.60,481.00 55.96,482.00 56.24,483.00 56.35,484.00 56.38,484.88 56.45,485.77 56.55,486.65 56.65,487.53 56.72,488.42 56.75,489.30 52.35,489.30 52.38,488.42 52.45,487.53 52.55,486.65 52.65,485.77 52.72,484.88 52.75,484.00 52.86,483.00 53.14,482.00 53.50,481.00 53.86,480.00 54.14,479.00 54.25,478.00 54.26,472.50 54.30,467.00 54.34,461.50 54.38,456.00 54.42,450.50 54.43,445.00" fill="url(#fvg1)" stroke="url(#vg1)" stroke-width="0.55" stroke-linejoin="round"/>
<polygon points="53.19,489.30 54.55,485.30 55.91,489.30" fill="#fff"/>
<linearGradient id="vg2" gradientUnits="userSpaceOnUse" x1="0" y1="346.60" x2="0" y2="468.33"><stop offset="0" stop-color="#9a9a9a"/><stop offset="0.55" stop-color="#3a3a3a"/><stop offset="1" stop-color="#262626"/></linearGradient>
<linearGradient id="fvg2" gradientUnits="userSpaceOnUse" x1="0" y1="346.60" x2="0" y2="470.00"><stop offset="0" stop-color="#8a8a8a"/><stop offset="0.68" stop-color="#4a2616"/><stop offset="0.85" stop-color="#4a2616"/><stop offset="1" stop-color="#e0622c"/></linearGradient>
<polygon points="60.47,346.60 60.48,364.67 60.50,382.73 60.54,400.80 60.57,418.87 60.59,436.93 60.60,455.00 60.64,456.67 60.74,458.33 60.88,460.00 61.01,461.67 61.11,463.33 61.15,465.00 61.24,466.67 61.46,468.33 61.75,470.00 62.04,471.67 62.26,473.33 62.35,475.00 62.37,476.50 62.43,478.00 62.50,479.50 62.57,481.00 62.63,482.50 62.65,484.00 62.61,484.88 62.52,485.77 62.40,486.65 62.28,487.53 62.19,488.42 62.15,489.30 58.55,489.30 58.51,488.42 58.42,487.53 58.30,486.65 58.18,485.77 58.09,484.88 58.05,484.00 58.07,482.50 58.13,481.00 58.20,479.50 58.27,478.00 58.33,476.50 58.35,475.00 58.44,473.33 58.66,471.67 58.95,470.00 59.24,468.33 59.46,466.67 59.55,465.00 59.59,463.33 59.69,461.67 59.83,460.00 59.96,458.33 60.06,456.67 60.10,455.00 60.11,436.93 60.13,418.87 60.16,400.80 60.20,382.73 60.22,364.67 60.23,346.60" fill="url(#fvg2)" stroke="url(#vg2)" stroke-width="0.55" stroke-linejoin="round"/>
<polygon points="59.23,489.30 60.35,485.30 61.47,489.30" fill="#fff"/>
<line x1="57.45" y1="494.50" x2="57.45" y2="496.30" stroke="#555" stroke-width="0.6" />
<line x1="54.55" y1="346.60" x2="60.35" y2="346.60" stroke="#555" stroke-width="0.45" />
<line x1="54.55" y1="346.60" x2="54.55" y2="347.80" stroke="#555" stroke-width="0.45" />
<line x1="60.35" y1="346.60" x2="60.35" y2="347.80" stroke="#555" stroke-width="0.45" />
<linearGradient id="vg3" gradientUnits="userSpaceOnUse" x1="0" y1="415.60" x2="0" y2="436.67"><stop offset="0" stop-color="#9a9a9a"/><stop offset="0.55" stop-color="#3a3a3a"/><stop offset="1" stop-color="#262626"/></linearGradient>
<linearGradient id="fvg3" gradientUnits="userSpaceOnUse" x1="0" y1="415.60" x2="0" y2="443.33"><stop offset="0" stop-color="#8a8a8a"/><stop offset="0.68" stop-color="#213a44"/><stop offset="0.85" stop-color="#213a44"/><stop offset="1" stop-color="#3aa9c9"/></linearGradient>
<polygon points="71.92,415.60 71.93,418.00 71.97,420.40 72.01,422.80 72.05,425.20 72.09,427.60 72.10,430.00 72.17,431.67 72.33,433.33 72.55,435.00 72.77,436.67 72.93,438.33 73.00,440.00 73.08,441.67 73.29,443.33 73.55,445.00 73.81,446.67 74.02,448.33 74.10,450.00 74.10,454.17 74.10,458.33 74.10,462.50 74.10,466.67 74.10,470.83 74.10,475.00 74.04,477.38 73.89,479.77 73.70,482.15 73.51,484.53 73.36,486.92 73.30,489.30 70.30,489.30 70.24,486.92 70.09,484.53 69.90,482.15 69.71,479.77 69.56,477.38 69.50,475.00 69.50,470.83 69.50,466.67 69.50,462.50 69.50,458.33 69.50,454.17 69.50,450.00 69.58,448.33 69.79,446.67 70.05,445.00 70.31,443.33 70.52,441.67 70.60,440.00 70.67,438.33 70.83,436.67 71.05,435.00 71.27,433.33 71.43,431.67 71.50,430.00 71.51,427.60 71.55,425.20 71.59,422.80 71.63,420.40 71.67,418.00 71.68,415.60" fill="url(#fvg3)" stroke="url(#vg3)" stroke-width="0.55" stroke-linejoin="round"/>
<line x1="71.80" y1="449.83" x2="71.80" y2="476.90" stroke="#222" stroke-width="0.5" opacity="0.75"/>
<rect x="70.80" y="463.50" width="2.0" height="2.0" fill="#fff"/>
<linearGradient id="vg4" gradientUnits="userSpaceOnUse" x1="0" y1="398.80" x2="0" y2="440.00"><stop offset="0" stop-color="#9a9a9a"/><stop offset="0.55" stop-color="#3a3a3a"/><stop offset="1" stop-color="#262626"/></linearGradient>
<linearGradient id="fvg4" gradientUnits="userSpaceOnUse" x1="0" y1="398.80" x2="0" y2="448.67"><stop offset="0" stop-color="#8a8a8a"/><stop offset="0.68" stop-color="#4a2616"/><stop offset="0.85" stop-color="#4a2616"/><stop offset="1" stop-color="#e0622c"/></linearGradient>
<polygon points="77.72,398.80 77.73,404.00 77.77,409.20 77.81,414.40 77.85,419.60 77.89,424.80 77.90,430.00 77.97,432.50 78.13,435.00 78.35,437.50 78.57,440.00 78.73,442.50 78.80,445.00 78.88,446.83 79.09,448.67 79.35,450.50 79.61,452.33 79.82,454.17 79.90,456.00 79.90,461.00 79.90,466.00 79.90,471.00 79.90,476.00 79.90,481.00 79.90,486.00 79.86,486.55 79.77,487.10 79.65,487.65 79.53,488.20 79.44,488.75 79.40,489.30 75.80,489.30 75.76,488.75 75.67,488.20 75.55,487.65 75.43,487.10 75.34,486.55 75.30,486.00 75.30,481.00 75.30,476.00 75.30,471.00 75.30,466.00 75.30,461.00 75.30,456.00 75.38,454.17 75.59,452.33 75.85,450.50 76.11,448.67 76.32,446.83 76.40,445.00 76.47,442.50 76.63,440.00 76.85,437.50 77.07,435.00 77.23,432.50 77.30,430.00 77.31,424.80 77.35,419.60 77.39,414.40 77.43,409.20 77.47,404.00 77.48,398.80" fill="url(#fvg4)" stroke="url(#vg4)" stroke-width="0.55" stroke-linejoin="round"/>
<line x1="77.60" y1="447.94" x2="77.60" y2="479.15" stroke="#222" stroke-width="0.5" opacity="0.75"/>
<rect x="76.60" y="468.00" width="2.0" height="2.0" fill="#fff"/>
<line x1="74.70" y1="494.50" x2="74.70" y2="496.30" stroke="#555" stroke-width="0.6" />
<line x1="71.80" y1="398.80" x2="77.60" y2="398.80" stroke="#555" stroke-width="0.45" />
<line x1="71.80" y1="398.80" x2="71.80" y2="400.00" stroke="#555" stroke-width="0.45" />
<line x1="77.60" y1="398.80" x2="77.60" y2="400.00" stroke="#555" stroke-width="0.45" />
<linearGradient id="vg5" gradientUnits="userSpaceOnUse" x1="0" y1="408.30" x2="0" y2="454.33"><stop offset="0" stop-color="#9a9a9a"/><stop offset="0.55" stop-color="#3a3a3a"/><stop offset="1" stop-color="#262626"/></linearGradient>
<linearGradient id="fvg5" gradientUnits="userSpaceOnUse" x1="0" y1="408.30" x2="0" y2="462.67"><stop offset="0" stop-color="#8a8a8a"/><stop offset="0.68" stop-color="#213a44"/><stop offset="0.85" stop-color="#213a44"/><stop offset="1" stop-color="#3aa9c9"/></linearGradient>
<polygon points="89.17,408.30 89.18,414.42 89.22,420.53 89.26,426.65 89.30,432.77 89.34,438.88 89.35,445.00 89.42,447.33 89.58,449.67 89.80,452.00 90.02,454.33 90.18,456.67 90.25,459.00 90.33,460.83 90.54,462.67 90.80,464.50 91.06,466.33 91.27,468.17 91.35,470.00 91.35,471.67 91.35,473.33 91.35,475.00 91.35,476.67 91.35,478.33 91.35,480.00 91.29,481.55 91.14,483.10 90.95,484.65 90.76,486.20 90.61,487.75 90.55,489.30 87.55,489.30 87.49,487.75 87.34,486.20 87.15,484.65 86.96,483.10 86.81,481.55 86.75,480.00 86.75,478.33 86.75,476.67 86.75,475.00 86.75,473.33 86.75,471.67 86.75,470.00 86.83,468.17 87.04,466.33 87.30,464.50 87.56,462.67 87.77,460.83 87.85,459.00 87.92,456.67 88.08,454.33 88.30,452.00 88.52,449.67 88.68,447.33 88.75,445.00 88.76,438.88 88.80,432.77 88.84,426.65 88.88,420.53 88.92,414.42 88.93,408.30" fill="url(#fvg5)" stroke="url(#vg5)" stroke-width="0.55" stroke-linejoin="round"/>
<line x1="89.05" y1="458.77" x2="89.05" y2="484.85" stroke="#222" stroke-width="0.5" opacity="0.75"/>
<rect x="88.05" y="479.40" width="2.0" height="2.0" fill="#fff"/>
<linearGradient id="vg6" gradientUnits="userSpaceOnUse" x1="0" y1="398.80" x2="0" y2="440.00"><stop offset="0" stop-color="#9a9a9a"/><stop offset="0.55" stop-color="#3a3a3a"/><stop offset="1" stop-color="#262626"/></linearGradient>
<linearGradient id="fvg6" gradientUnits="userSpaceOnUse" x1="0" y1="398.80" x2="0" y2="450.00"><stop offset="0" stop-color="#8a8a8a"/><stop offset="0.68" stop-color="#4a2616"/><stop offset="0.85" stop-color="#4a2616"/><stop offset="1" stop-color="#e0622c"/></linearGradient>
<polygon points="94.97,398.80 94.98,404.00 95.00,409.20 95.04,414.40 95.07,419.60 95.09,424.80 95.10,430.00 95.17,432.50 95.35,435.00 95.58,437.50 95.80,440.00 95.98,442.50 96.05,445.00 96.15,447.50 96.39,450.00 96.70,452.50 97.01,455.00 97.25,457.50 97.35,460.00 97.35,462.67 97.35,465.33 97.35,468.00 97.35,470.67 97.35,473.33 97.35,476.00 97.28,478.22 97.09,480.43 96.85,482.65 96.61,484.87 96.42,487.08 96.35,489.30 93.35,489.30 93.28,487.08 93.09,484.87 92.85,482.65 92.61,480.43 92.42,478.22 92.35,476.00 92.35,473.33 92.35,470.67 92.35,468.00 92.35,465.33 92.35,462.67 92.35,460.00 92.45,457.50 92.69,455.00 93.00,452.50 93.31,450.00 93.55,447.50 93.65,445.00 93.72,442.50 93.90,440.00 94.13,437.50 94.35,435.00 94.53,432.50 94.60,430.00 94.61,424.80 94.63,419.60 94.67,414.40 94.70,409.20 94.72,404.00 94.73,398.80" fill="url(#fvg6)" stroke="url(#vg6)" stroke-width="0.55" stroke-linejoin="round"/>
<line x1="94.85" y1="448.99" x2="94.85" y2="479.90" stroke="#222" stroke-width="0.5" opacity="0.75"/>
<rect x="93.85" y="469.50" width="2.0" height="2.0" fill="#fff"/>
<line x1="91.95" y1="494.50" x2="91.95" y2="496.30" stroke="#555" stroke-width="0.6" />
<line x1="89.05" y1="398.80" x2="94.85" y2="398.80" stroke="#555" stroke-width="0.45" />
<line x1="89.05" y1="398.80" x2="89.05" y2="400.00" stroke="#555" stroke-width="0.45" />
<line x1="94.85" y1="398.80" x2="94.85" y2="400.00" stroke="#555" stroke-width="0.45" />
<linearGradient id="vg7" gradientUnits="userSpaceOnUse" x1="0" y1="438.60" x2="0" y2="461.50"><stop offset="0" stop-color="#9a9a9a"/><stop offset="0.55" stop-color="#3a3a3a"/><stop offset="1" stop-color="#262626"/></linearGradient>
<linearGradient id="fvg7" gradientUnits="userSpaceOnUse" x1="0" y1="438.60" x2="0" y2="463.67"><stop offset="0" stop-color="#8a8a8a"/><stop offset="0.68" stop-color="#213a44"/><stop offset="0.85" stop-color="#213a44"/><stop offset="1" stop-color="#3aa9c9"/></linearGradient>
<polygon points="106.42,438.60 106.44,441.33 106.48,444.07 106.53,446.80 106.59,449.53 106.63,452.27 106.65,455.00 106.76,457.17 107.03,459.33 107.38,461.50 107.72,463.67 107.99,465.83 108.10,468.00 108.12,469.17 108.18,470.33 108.25,471.50 108.32,472.67 108.38,473.83 108.40,475.00 108.40,476.67 108.40,478.33 108.40,480.00 108.40,481.67 108.40,483.33 108.40,485.00 108.36,485.72 108.24,486.43 108.10,487.15 107.96,487.87 107.84,488.58 107.80,489.30 104.80,489.30 104.76,488.58 104.64,487.87 104.50,487.15 104.36,486.43 104.24,485.72 104.20,485.00 104.20,483.33 104.20,481.67 104.20,480.00 104.20,478.33 104.20,476.67 104.20,475.00 104.22,473.83 104.28,472.67 104.35,471.50 104.42,470.33 104.48,469.17 104.50,468.00 104.61,465.83 104.88,463.67 105.22,461.50 105.57,459.33 105.84,457.17 105.95,455.00 105.97,452.27 106.01,449.53 106.06,446.80 106.12,444.07 106.16,441.33 106.18,438.60" fill="url(#fvg7)" stroke="url(#vg7)" stroke-width="0.55" stroke-linejoin="round"/>
<line x1="106.30" y1="466.04" x2="106.30" y2="483.55" stroke="#222" stroke-width="0.5" opacity="0.75"/>
<rect x="105.30" y="476.80" width="2.0" height="2.0" fill="#fff"/>
<linearGradient id="vg8" gradientUnits="userSpaceOnUse" x1="0" y1="414.60" x2="0" y2="442.50"><stop offset="0" stop-color="#9a9a9a"/><stop offset="0.55" stop-color="#3a3a3a"/><stop offset="1" stop-color="#262626"/></linearGradient>
<linearGradient id="fvg8" gradientUnits="userSpaceOnUse" x1="0" y1="414.60" x2="0" y2="445.00"><stop offset="0" stop-color="#8a8a8a"/><stop offset="0.68" stop-color="#4a2616"/><stop offset="0.85" stop-color="#4a2616"/><stop offset="1" stop-color="#e0622c"/></linearGradient>
<polygon points="112.22,414.60 112.24,418.00 112.28,421.40 112.34,424.80 112.39,428.20 112.43,431.60 112.45,435.00 112.57,437.50 112.88,440.00 113.28,442.50 113.67,445.00 113.98,447.50 114.10,450.00 114.14,451.17 114.23,452.33 114.35,453.50 114.47,454.67 114.56,455.83 114.60,457.00 114.60,460.50 114.60,464.00 114.60,467.50 114.60,471.00 114.60,474.50 114.60,478.00 114.53,479.88 114.34,481.77 114.10,483.65 113.86,485.53 113.67,487.42 113.60,489.30 110.60,489.30 110.53,487.42 110.34,485.53 110.10,483.65 109.86,481.77 109.67,479.88 109.60,478.00 109.60,474.50 109.60,471.00 109.60,467.50 109.60,464.00 109.60,460.50 109.60,457.00 109.64,455.83 109.73,454.67 109.85,453.50 109.97,452.33 110.06,451.17 110.10,450.00 110.22,447.50 110.53,445.00 110.93,442.50 111.32,440.00 111.63,437.50 111.75,435.00 111.77,431.60 111.81,428.20 111.87,424.80 111.92,421.40 111.96,418.00 111.98,414.60" fill="url(#fvg8)" stroke="url(#vg8)" stroke-width="0.55" stroke-linejoin="round"/>
<line x1="112.10" y1="454.57" x2="112.10" y2="480.50" stroke="#222" stroke-width="0.5" opacity="0.75"/>
<rect x="111.10" y="470.70" width="2.0" height="2.0" fill="#fff"/>
<line x1="109.20" y1="494.50" x2="109.20" y2="496.30" stroke="#555" stroke-width="0.6" />
<line x1="106.30" y1="414.60" x2="112.10" y2="414.60" stroke="#555" stroke-width="0.45" />
<line x1="106.30" y1="414.60" x2="106.30" y2="415.80" stroke="#555" stroke-width="0.45" />
<line x1="112.10" y1="414.60" x2="112.10" y2="415.80" stroke="#555" stroke-width="0.45" />
<linearGradient id="vg9" gradientUnits="userSpaceOnUse" x1="0" y1="375.80" x2="0" y2="445.00"><stop offset="0" stop-color="#9a9a9a"/><stop offset="0.55" stop-color="#3a3a3a"/><stop offset="1" stop-color="#262626"/></linearGradient>
<linearGradient id="fvg9" gradientUnits="userSpaceOnUse" x1="0" y1="375.80" x2="0" y2="457.50"><stop offset="0" stop-color="#8a8a8a"/><stop offset="0.68" stop-color="#213a44"/><stop offset="0.85" stop-color="#213a44"/><stop offset="1" stop-color="#3aa9c9"/></linearGradient>
<polygon points="123.67,375.80 123.68,383.17 123.72,390.53 123.76,397.90 123.80,405.27 123.84,412.63 123.85,420.00 123.90,425.00 124.04,430.00 124.22,435.00 124.40,440.00 124.54,445.00 124.59,450.00 124.66,452.50 124.84,455.00 125.07,457.50 125.30,460.00 125.48,462.50 125.55,465.00 125.57,466.17 125.63,467.33 125.70,468.50 125.77,469.67 125.83,470.83 125.85,472.00 125.85,474.88 125.85,477.77 125.85,480.65 125.85,483.53 125.85,486.42 125.85,489.30 121.25,489.30 121.25,486.42 121.25,483.53 121.25,480.65 121.25,477.77 121.25,474.88 121.25,472.00 121.27,470.83 121.33,469.67 121.40,468.50 121.47,467.33 121.53,466.17 121.55,465.00 121.62,462.50 121.80,460.00 122.03,457.50 122.26,455.00 122.44,452.50 122.51,450.00 122.56,445.00 122.70,440.00 122.88,435.00 123.06,430.00 123.20,425.00 123.25,420.00 123.26,412.63 123.30,405.27 123.34,397.90 123.38,390.53 123.42,383.17 123.43,375.80" fill="url(#fvg9)" stroke="url(#vg9)" stroke-width="0.55" stroke-linejoin="round"/>
<line x1="123.55" y1="447.27" x2="123.55" y2="483.60" stroke="#222" stroke-width="0.5" opacity="0.75"/>
<rect x="122.55" y="476.90" width="2.0" height="2.0" fill="#fff"/>
<linearGradient id="vg10" gradientUnits="userSpaceOnUse" x1="0" y1="414.60" x2="0" y2="476.67"><stop offset="0" stop-color="#9a9a9a"/><stop offset="0.55" stop-color="#3a3a3a"/><stop offset="1" stop-color="#262626"/></linearGradient>
<linearGradient id="fvg10" gradientUnits="userSpaceOnUse" x1="0" y1="414.60" x2="0" y2="479.67"><stop offset="0" stop-color="#8a8a8a"/><stop offset="0.68" stop-color="#4a2616"/><stop offset="0.85" stop-color="#4a2616"/><stop offset="1" stop-color="#e0622c"/></linearGradient>
<polygon points="129.47,414.60 129.48,423.83 129.50,433.07 129.53,442.30 129.57,451.53 129.59,460.77 129.60,470.00 129.65,471.33 129.78,472.67 129.95,474.00 130.13,475.33 130.26,476.67 130.31,478.00 130.41,478.83 130.66,479.67 130.98,480.50 131.30,481.33 131.55,482.17 131.65,483.00 131.63,483.67 131.57,484.33 131.50,485.00 131.43,485.67 131.37,486.33 131.35,487.00 131.28,487.38 131.09,487.77 130.85,488.15 130.61,488.53 130.42,488.92 130.35,489.30 128.35,489.30 128.28,488.92 128.09,488.53 127.85,488.15 127.61,487.77 127.42,487.38 127.35,487.00 127.33,486.33 127.27,485.67 127.20,485.00 127.13,484.33 127.07,483.67 127.05,483.00 127.15,482.17 127.40,481.33 127.72,480.50 128.04,479.67 128.29,478.83 128.39,478.00 128.44,476.67 128.57,475.33 128.75,474.00 128.92,472.67 129.05,471.33 129.10,470.00 129.11,460.77 129.13,451.53 129.16,442.30 129.20,433.07 129.22,423.83 129.23,414.60" fill="url(#fvg10)" stroke="url(#vg10)" stroke-width="0.55" stroke-linejoin="round"/>
<line x1="129.35" y1="465.28" x2="129.35" y2="488.15" stroke="#222" stroke-width="0.5" opacity="0.75"/>
<rect x="128.35" y="486.00" width="2.0" height="2.0" fill="#fff"/>
<line x1="126.45" y1="494.50" x2="126.45" y2="496.30" stroke="#555" stroke-width="0.6" />
<line x1="123.55" y1="375.80" x2="129.35" y2="375.80" stroke="#555" stroke-width="0.45" />
<line x1="123.55" y1="375.80" x2="123.55" y2="377.00" stroke="#555" stroke-width="0.45" />
<line x1="129.35" y1="375.80" x2="129.35" y2="377.00" stroke="#555" stroke-width="0.45" />
<linearGradient id="vg11" gradientUnits="userSpaceOnUse" x1="0" y1="392.10" x2="0" y2="430.00"><stop offset="0" stop-color="#9a9a9a"/><stop offset="0.55" stop-color="#3a3a3a"/><stop offset="1" stop-color="#262626"/></linearGradient>
<linearGradient id="fvg11" gradientUnits="userSpaceOnUse" x1="0" y1="392.10" x2="0" y2="433.33"><stop offset="0" stop-color="#8a8a8a"/><stop offset="0.68" stop-color="#213a44"/><stop offset="0.85" stop-color="#213a44"/><stop offset="1" stop-color="#3aa9c9"/></linearGradient>
<polygon points="140.92,392.10 140.94,396.75 140.99,401.40 141.06,406.05 141.13,410.70 141.18,415.35 141.20,420.00 141.32,423.33 141.61,426.67 142.00,430.00 142.39,433.33 142.68,436.67 142.80,440.00 142.86,442.50 143.01,445.00 143.20,447.50 143.39,450.00 143.54,452.50 143.60,455.00 143.60,458.83 143.60,462.67 143.60,466.50 143.60,470.33 143.60,474.17 143.60,478.00 143.54,479.88 143.39,481.77 143.20,483.65 143.01,485.53 142.86,487.42 142.80,489.30 138.80,489.30 138.74,487.42 138.59,485.53 138.40,483.65 138.21,481.77 138.06,479.88 138.00,478.00 138.00,474.17 138.00,470.33 138.00,466.50 138.00,462.67 138.00,458.83 138.00,455.00 138.06,452.50 138.21,450.00 138.40,447.50 138.59,445.00 138.74,442.50 138.80,440.00 138.92,436.67 139.21,433.33 139.60,430.00 139.99,426.67 140.28,423.33 140.40,420.00 140.42,415.35 140.47,410.70 140.54,406.05 140.61,401.40 140.66,396.75 140.68,392.10" fill="url(#fvg11)" stroke="url(#vg11)" stroke-width="0.55" stroke-linejoin="round"/>
<line x1="140.80" y1="444.53" x2="140.80" y2="478.15" stroke="#222" stroke-width="0.5" opacity="0.75"/>
<rect x="139.80" y="466.00" width="2.0" height="2.0" fill="#fff"/>
<linearGradient id="vg12" gradientUnits="userSpaceOnUse" x1="0" y1="413.40" x2="0" y2="432.50"><stop offset="0" stop-color="#9a9a9a"/><stop offset="0.55" stop-color="#3a3a3a"/><stop offset="1" stop-color="#262626"/></linearGradient>
<linearGradient id="fvg12" gradientUnits="userSpaceOnUse" x1="0" y1="413.40" x2="0" y2="437.50"><stop offset="0" stop-color="#8a8a8a"/><stop offset="0.68" stop-color="#4a2616"/><stop offset="0.85" stop-color="#4a2616"/><stop offset="1" stop-color="#e0622c"/></linearGradient>
<polygon points="146.72,413.40 146.77,416.17 146.90,418.93 147.06,421.70 147.22,424.47 147.35,427.23 147.40,430.00 147.51,432.50 147.79,435.00 148.15,437.50 148.51,440.00 148.79,442.50 148.90,445.00 148.91,446.67 148.95,448.33 149.00,450.00 149.05,451.67 149.09,453.33 149.10,455.00 149.10,458.83 149.10,462.67 149.10,466.50 149.10,470.33 149.10,474.17 149.10,478.00 149.05,479.88 148.92,481.77 148.75,483.65 148.58,485.53 148.45,487.42 148.40,489.30 144.80,489.30 144.75,487.42 144.62,485.53 144.45,483.65 144.28,481.77 144.15,479.88 144.10,478.00 144.10,474.17 144.10,470.33 144.10,466.50 144.10,462.67 144.10,458.83 144.10,455.00 144.11,453.33 144.15,451.67 144.20,450.00 144.25,448.33 144.29,446.67 144.30,445.00 144.41,442.50 144.69,440.00 145.05,437.50 145.41,435.00 145.69,432.50 145.80,430.00 145.85,427.23 145.98,424.47 146.14,421.70 146.30,418.93 146.43,416.17 146.48,413.40" fill="url(#fvg12)" stroke="url(#vg12)" stroke-width="0.55" stroke-linejoin="round"/>
<line x1="146.60" y1="449.73" x2="146.60" y2="477.30" stroke="#222" stroke-width="0.5" opacity="0.75"/>
<rect x="145.60" y="464.30" width="2.0" height="2.0" fill="#fff"/>
<line x1="143.70" y1="494.50" x2="143.70" y2="496.30" stroke="#555" stroke-width="0.6" />
<line x1="140.80" y1="392.10" x2="146.60" y2="392.10" stroke="#555" stroke-width="0.45" />
<line x1="140.80" y1="392.10" x2="140.80" y2="393.30" stroke="#555" stroke-width="0.45" />
<line x1="146.60" y1="392.10" x2="146.60" y2="393.30" stroke="#555" stroke-width="0.45" />
<linearGradient id="vg13" gradientUnits="userSpaceOnUse" x1="0" y1="484.60" x2="0" y2="487.77"><stop offset="0" stop-color="#9a9a9a"/><stop offset="0.55" stop-color="#3a3a3a"/><stop offset="1" stop-color="#262626"/></linearGradient>
<linearGradient id="fvg13" gradientUnits="userSpaceOnUse" x1="0" y1="484.60" x2="0" y2="489.30"><stop offset="0" stop-color="#8a8a8a"/><stop offset="0.68" stop-color="#213a44"/><stop offset="0.85" stop-color="#213a44"/><stop offset="1" stop-color="#3aa9c9"/></linearGradient>
<polygon points="158.17,484.60 158.22,485.00 158.35,485.40 158.51,485.80 158.67,486.20 158.80,486.60 158.85,487.00 158.88,487.38 158.95,487.77 159.05,488.15 159.15,488.53 159.22,488.92 159.25,489.30 156.85,489.30 156.88,488.92 156.95,488.53 157.05,488.15 157.15,487.77 157.22,487.38 157.25,487.00 157.30,486.60 157.43,486.20 157.59,485.80 157.75,485.40 157.88,485.00 157.93,484.60" fill="url(#fvg13)" stroke="url(#vg13)" stroke-width="0.55" stroke-linejoin="round"/>
<linearGradient id="vg14" gradientUnits="userSpaceOnUse" x1="0" y1="467.30" x2="0" y2="484.25"><stop offset="0" stop-color="#9a9a9a"/><stop offset="0.55" stop-color="#3a3a3a"/><stop offset="1" stop-color="#262626"/></linearGradient>
<linearGradient id="fvg14" gradientUnits="userSpaceOnUse" x1="0" y1="467.30" x2="0" y2="484.67"><stop offset="0" stop-color="#8a8a8a"/><stop offset="0.68" stop-color="#4a2616"/><stop offset="0.85" stop-color="#4a2616"/><stop offset="1" stop-color="#e0622c"/></linearGradient>
<polygon points="163.97,467.30 163.98,469.92 164.00,472.53 164.03,475.15 164.07,477.77 164.09,480.38 164.10,483.00 164.21,483.42 164.50,483.83 164.88,484.25 165.25,484.67 165.54,485.08 165.65,485.50 165.66,486.13 165.70,486.77 165.75,487.40 165.80,488.03 165.84,488.67 165.85,489.30 161.85,489.30 161.86,488.67 161.90,488.03 161.95,487.40 162.00,486.77 162.04,486.13 162.05,485.50 162.16,485.08 162.45,484.67 162.82,484.25 163.20,483.83 163.49,483.42 163.60,483.00 163.61,480.38 163.63,477.77 163.66,475.15 163.70,472.53 163.72,469.92 163.73,467.30" fill="url(#fvg14)" stroke="url(#vg14)" stroke-width="0.55" stroke-linejoin="round"/>
<line x1="160.95" y1="494.50" x2="160.95" y2="496.30" stroke="#555" stroke-width="0.6" />
<line x1="158.05" y1="467.30" x2="163.85" y2="467.30" stroke="#555" stroke-width="0.45" />
<line x1="158.05" y1="467.30" x2="158.05" y2="468.50" stroke="#555" stroke-width="0.45" />
<line x1="163.85" y1="467.30" x2="163.85" y2="468.50" stroke="#555" stroke-width="0.45" />
<linearGradient id="vg15" gradientUnits="userSpaceOnUse" x1="0" y1="422.50" x2="0" y2="442.50"><stop offset="0" stop-color="#9a9a9a"/><stop offset="0.55" stop-color="#3a3a3a"/><stop offset="1" stop-color="#262626"/></linearGradient>
<linearGradient id="fvg15" gradientUnits="userSpaceOnUse" x1="0" y1="422.50" x2="0" y2="442.50"><stop offset="0" stop-color="#8a8a8a"/><stop offset="0.68" stop-color="#213a44"/><stop offset="0.85" stop-color="#213a44"/><stop offset="1" stop-color="#3aa9c9"/></linearGradient>
<polygon points="175.42,422.50 175.44,424.58 175.49,426.67 175.56,428.75 175.63,430.83 175.68,432.92 175.70,435.00 175.83,437.50 176.17,440.00 176.60,442.50 177.03,445.00 177.37,447.50 177.50,450.00 177.56,452.50 177.71,455.00 177.90,457.50 178.09,460.00 178.24,462.50 178.30,465.00 178.30,467.50 178.30,470.00 178.30,472.50 178.30,475.00 178.30,477.50 178.30,480.00 178.23,481.55 178.04,483.10 177.80,484.65 177.56,486.20 177.37,487.75 177.30,489.30 173.30,489.30 173.23,487.75 173.04,486.20 172.80,484.65 172.56,483.10 172.37,481.55 172.30,480.00 172.30,477.50 172.30,475.00 172.30,472.50 172.30,470.00 172.30,467.50 172.30,465.00 172.36,462.50 172.51,460.00 172.70,457.50 172.89,455.00 173.04,452.50 173.10,450.00 173.23,447.50 173.57,445.00 174.00,442.50 174.43,440.00 174.77,437.50 174.90,435.00 174.92,432.92 174.97,430.83 175.04,428.75 175.11,426.67 175.16,424.58 175.18,422.50" fill="url(#fvg15)" stroke="url(#vg15)" stroke-width="0.55" stroke-linejoin="round"/>
<line x1="175.30" y1="457.78" x2="175.30" y2="481.10" stroke="#222" stroke-width="0.5" opacity="0.75"/>
<rect x="174.30" y="471.90" width="2.0" height="2.0" fill="#fff"/>
<linearGradient id="vg16" gradientUnits="userSpaceOnUse" x1="0" y1="424.50" x2="0" y2="442.50"><stop offset="0" stop-color="#9a9a9a"/><stop offset="0.55" stop-color="#3a3a3a"/><stop offset="1" stop-color="#262626"/></linearGradient>
<linearGradient id="fvg16" gradientUnits="userSpaceOnUse" x1="0" y1="424.50" x2="0" y2="447.50"><stop offset="0" stop-color="#8a8a8a"/><stop offset="0.68" stop-color="#4a2616"/><stop offset="0.85" stop-color="#4a2616"/><stop offset="1" stop-color="#e0622c"/></linearGradient>
<polygon points="181.22,424.50 181.27,427.08 181.40,429.67 181.56,432.25 181.72,434.83 181.85,437.42 181.90,440.00 182.03,442.50 182.37,445.00 182.80,447.50 183.23,450.00 183.57,452.50 183.70,455.00 183.73,456.67 183.80,458.33 183.90,460.00 184.00,461.67 184.07,463.33 184.10,465.00 184.06,466.67 183.97,468.33 183.85,470.00 183.73,471.67 183.64,473.33 183.60,475.00 183.49,477.38 183.21,479.77 182.85,482.15 182.49,484.53 182.21,486.92 182.10,489.30 180.10,489.30 179.99,486.92 179.71,484.53 179.35,482.15 178.99,479.77 178.71,477.38 178.60,475.00 178.56,473.33 178.47,471.67 178.35,470.00 178.23,468.33 178.14,466.67 178.10,465.00 178.13,463.33 178.20,461.67 178.30,460.00 178.40,458.33 178.47,456.67 178.50,455.00 178.63,452.50 178.97,450.00 179.40,447.50 179.83,445.00 180.17,442.50 180.30,440.00 180.35,437.42 180.48,434.83 180.64,432.25 180.80,429.67 180.93,427.08 180.98,424.50" fill="url(#fvg16)" stroke="url(#vg16)" stroke-width="0.55" stroke-linejoin="round"/>
<line x1="181.10" y1="455.58" x2="181.10" y2="479.10" stroke="#222" stroke-width="0.5" opacity="0.75"/>
<rect x="180.10" y="467.90" width="2.0" height="2.0" fill="#fff"/>
<line x1="178.20" y1="494.50" x2="178.20" y2="496.30" stroke="#555" stroke-width="0.6" />
<line x1="175.30" y1="422.50" x2="181.10" y2="422.50" stroke="#555" stroke-width="0.45" />
<line x1="175.30" y1="422.50" x2="175.30" y2="423.70" stroke="#555" stroke-width="0.45" />
<line x1="181.10" y1="422.50" x2="181.10" y2="423.70" stroke="#555" stroke-width="0.45" />
<linearGradient id="vg17" gradientUnits="userSpaceOnUse" x1="0" y1="464.50" x2="0" y2="483.33"><stop offset="0" stop-color="#9a9a9a"/><stop offset="0.55" stop-color="#3a3a3a"/><stop offset="1" stop-color="#262626"/></linearGradient>
<linearGradient id="fvg17" gradientUnits="userSpaceOnUse" x1="0" y1="464.50" x2="0" y2="486.43"><stop offset="0" stop-color="#8a8a8a"/><stop offset="0.68" stop-color="#213a44"/><stop offset="0.85" stop-color="#213a44"/><stop offset="1" stop-color="#3aa9c9"/></linearGradient>
<polygon points="192.67,464.50 192.68,467.08 192.70,469.67 192.73,472.25 192.77,474.83 192.79,477.42 192.80,480.00 192.87,480.83 193.05,481.67 193.27,482.50 193.50,483.33 193.68,484.17 193.75,485.00 193.83,485.72 194.04,486.43 194.30,487.15 194.56,487.87 194.77,488.58 194.85,489.30 190.25,489.30 190.33,488.58 190.54,487.87 190.80,487.15 191.06,486.43 191.27,485.72 191.35,485.00 191.42,484.17 191.60,483.33 191.82,482.50 192.05,481.67 192.23,480.83 192.30,480.00 192.31,477.42 192.33,474.83 192.36,472.25 192.40,469.67 192.42,467.08 192.43,464.50" fill="url(#fvg17)" stroke="url(#vg17)" stroke-width="0.55" stroke-linejoin="round"/>
<polygon points="191.12,489.30 192.55,485.30 193.98,489.30" fill="#fff"/>
<linearGradient id="vg18" gradientUnits="userSpaceOnUse" x1="0" y1="467.30" x2="0" y2="483.33"><stop offset="0" stop-color="#9a9a9a"/><stop offset="0.55" stop-color="#3a3a3a"/><stop offset="1" stop-color="#262626"/></linearGradient>
<linearGradient id="fvg18" gradientUnits="userSpaceOnUse" x1="0" y1="467.30" x2="0" y2="486.43"><stop offset="0" stop-color="#8a8a8a"/><stop offset="0.68" stop-color="#4a2616"/><stop offset="0.85" stop-color="#4a2616"/><stop offset="1" stop-color="#e0622c"/></linearGradient>
<polygon points="198.47,467.30 198.48,469.42 198.50,471.53 198.53,473.65 198.57,475.77 198.59,477.88 198.60,480.00 198.67,480.83 198.85,481.67 199.07,482.50 199.30,483.33 199.48,484.17 199.55,485.00 199.63,485.72 199.84,486.43 200.10,487.15 200.36,487.87 200.57,488.58 200.65,489.30 196.05,489.30 196.13,488.58 196.34,487.87 196.60,487.15 196.86,486.43 197.07,485.72 197.15,485.00 197.22,484.17 197.40,483.33 197.62,482.50 197.85,481.67 198.03,480.83 198.10,480.00 198.11,477.88 198.13,475.77 198.16,473.65 198.20,471.53 198.22,469.42 198.23,467.30" fill="url(#fvg18)" stroke="url(#vg18)" stroke-width="0.55" stroke-linejoin="round"/>
<polygon points="196.92,489.30 198.35,485.30 199.78,489.30" fill="#fff"/>
<line x1="195.45" y1="494.50" x2="195.45" y2="496.30" stroke="#555" stroke-width="0.6" />
<line x1="192.55" y1="464.50" x2="198.35" y2="464.50" stroke="#555" stroke-width="0.45" />
<line x1="192.55" y1="464.50" x2="192.55" y2="465.70" stroke="#555" stroke-width="0.45" />
<line x1="198.35" y1="464.50" x2="198.35" y2="465.70" stroke="#555" stroke-width="0.45" />
<linearGradient id="vg19" gradientUnits="userSpaceOnUse" x1="0" y1="469.60" x2="0" y2="484.67"><stop offset="0" stop-color="#9a9a9a"/><stop offset="0.55" stop-color="#3a3a3a"/><stop offset="1" stop-color="#262626"/></linearGradient>
<linearGradient id="fvg19" gradientUnits="userSpaceOnUse" x1="0" y1="469.60" x2="0" y2="487.10"><stop offset="0" stop-color="#8a8a8a"/><stop offset="0.68" stop-color="#213a44"/><stop offset="0.85" stop-color="#213a44"/><stop offset="1" stop-color="#3aa9c9"/></linearGradient>
<polygon points="209.92,469.60 209.93,471.67 209.95,473.73 209.98,475.80 210.02,477.87 210.04,479.93 210.05,482.00 210.12,482.67 210.30,483.33 210.52,484.00 210.75,484.67 210.93,485.33 211.00,486.00 211.08,486.55 211.29,487.10 211.55,487.65 211.81,488.20 212.02,488.75 212.10,489.30 207.50,489.30 207.58,488.75 207.79,488.20 208.05,487.65 208.31,487.10 208.52,486.55 208.60,486.00 208.67,485.33 208.85,484.67 209.07,484.00 209.30,483.33 209.48,482.67 209.55,482.00 209.56,479.93 209.58,477.87 209.61,475.80 209.65,473.73 209.67,471.67 209.68,469.60" fill="url(#fvg19)" stroke="url(#vg19)" stroke-width="0.55" stroke-linejoin="round"/>
<polygon points="208.37,489.30 209.80,485.30 211.23,489.30" fill="#fff"/>
<linearGradient id="vg20" gradientUnits="userSpaceOnUse" x1="0" y1="486.50" x2="0" y2="489.30"><stop offset="0" stop-color="#9a9a9a"/><stop offset="0.55" stop-color="#3a3a3a"/><stop offset="1" stop-color="#262626"/></linearGradient>
<linearGradient id="fvg20" gradientUnits="userSpaceOnUse" x1="0" y1="486.50" x2="0" y2="489.30"><stop offset="0" stop-color="#8a8a8a"/><stop offset="0.68" stop-color="#4a2616"/><stop offset="0.85" stop-color="#4a2616"/><stop offset="1" stop-color="#e0622c"/></linearGradient>
<polygon points="215.72,486.50 215.77,486.97 215.90,487.43 216.06,487.90 216.22,488.37 216.35,488.83 216.40,489.30 214.80,489.30 214.85,488.83 214.98,488.37 215.14,487.90 215.30,487.43 215.43,486.97 215.48,486.50" fill="url(#fvg20)" stroke="url(#vg20)" stroke-width="0.55" stroke-linejoin="round"/>
<line x1="212.70" y1="494.50" x2="212.70" y2="496.30" stroke="#555" stroke-width="0.6" />
<line x1="209.80" y1="469.60" x2="215.60" y2="469.60" stroke="#555" stroke-width="0.45" />
<line x1="209.80" y1="469.60" x2="209.80" y2="470.80" stroke="#555" stroke-width="0.45" />
<line x1="215.60" y1="469.60" x2="215.60" y2="470.80" stroke="#555" stroke-width="0.45" />
<linearGradient id="vg21" gradientUnits="userSpaceOnUse" x1="0" y1="447.30" x2="0" y2="473.33"><stop offset="0" stop-color="#9a9a9a"/><stop offset="0.55" stop-color="#3a3a3a"/><stop offset="1" stop-color="#262626"/></linearGradient>
<linearGradient id="fvg21" gradientUnits="userSpaceOnUse" x1="0" y1="447.30" x2="0" y2="476.83"><stop offset="0" stop-color="#8a8a8a"/><stop offset="0.68" stop-color="#213a44"/><stop offset="0.85" stop-color="#213a44"/><stop offset="1" stop-color="#3aa9c9"/></linearGradient>
<polygon points="227.17,447.30 227.18,450.75 227.22,454.20 227.26,457.65 227.30,461.10 227.34,464.55 227.35,468.00 227.42,469.33 227.60,470.67 227.84,472.00 228.08,473.33 228.26,474.67 228.33,476.00 228.41,476.83 228.59,477.67 228.84,478.50 229.09,479.33 229.27,480.17 229.35,481.00 229.35,482.38 229.35,483.77 229.35,485.15 229.35,486.53 229.35,487.92 229.35,489.30 224.75,489.30 224.75,487.92 224.75,486.53 224.75,485.15 224.75,483.77 224.75,482.38 224.75,481.00 224.83,480.17 225.01,479.33 225.26,478.50 225.51,477.67 225.69,476.83 225.77,476.00 225.84,474.67 226.02,473.33 226.26,472.00 226.50,470.67 226.68,469.33 226.75,468.00 226.76,464.55 226.80,461.10 226.84,457.65 226.88,454.20 226.92,450.75 226.93,447.30" fill="url(#fvg21)" stroke="url(#vg21)" stroke-width="0.55" stroke-linejoin="round"/>
<line x1="227.05" y1="474.60" x2="227.05" y2="487.80" stroke="#222" stroke-width="0.5" opacity="0.75"/>
<rect x="226.05" y="485.30" width="2.0" height="2.0" fill="#fff"/>
<linearGradient id="vg22" gradientUnits="userSpaceOnUse" x1="0" y1="454.60" x2="0" y2="470.00"><stop offset="0" stop-color="#9a9a9a"/><stop offset="0.55" stop-color="#3a3a3a"/><stop offset="1" stop-color="#262626"/></linearGradient>
<linearGradient id="fvg22" gradientUnits="userSpaceOnUse" x1="0" y1="454.60" x2="0" y2="471.67"><stop offset="0" stop-color="#8a8a8a"/><stop offset="0.68" stop-color="#4a2616"/><stop offset="0.85" stop-color="#4a2616"/><stop offset="1" stop-color="#e0622c"/></linearGradient>
<polygon points="232.97,454.60 232.99,456.33 233.04,458.07 233.11,459.80 233.18,461.53 233.23,463.27 233.25,465.00 233.37,466.67 233.66,468.33 234.05,470.00 234.44,471.67 234.73,473.33 234.85,475.00 234.89,475.83 234.98,476.67 235.10,477.50 235.22,478.33 235.31,479.17 235.35,480.00 235.35,481.00 235.35,482.00 235.35,483.00 235.35,484.00 235.35,485.00 235.35,486.00 235.30,486.55 235.17,487.10 235.00,487.65 234.83,488.20 234.70,488.75 234.65,489.30 231.05,489.30 231.00,488.75 230.87,488.20 230.70,487.65 230.53,487.10 230.40,486.55 230.35,486.00 230.35,485.00 230.35,484.00 230.35,483.00 230.35,482.00 230.35,481.00 230.35,480.00 230.39,479.17 230.48,478.33 230.60,477.50 230.72,476.67 230.81,475.83 230.85,475.00 230.97,473.33 231.26,471.67 231.65,470.00 232.04,468.33 232.33,466.67 232.45,465.00 232.47,463.27 232.52,461.53 232.59,459.80 232.66,458.07 232.71,456.33 232.73,454.60" fill="url(#fvg22)" stroke="url(#vg22)" stroke-width="0.55" stroke-linejoin="round"/>
<line x1="232.85" y1="474.83" x2="232.85" y2="486.40" stroke="#222" stroke-width="0.5" opacity="0.75"/>
<rect x="231.85" y="482.50" width="2.0" height="2.0" fill="#fff"/>
<line x1="229.95" y1="494.50" x2="229.95" y2="496.30" stroke="#555" stroke-width="0.6" />
<line x1="227.05" y1="447.30" x2="232.85" y2="447.30" stroke="#555" stroke-width="0.45" />
<line x1="227.05" y1="447.30" x2="227.05" y2="448.50" stroke="#555" stroke-width="0.45" />
<line x1="232.85" y1="447.30" x2="232.85" y2="448.50" stroke="#555" stroke-width="0.45" />
<linearGradient id="vg23" gradientUnits="userSpaceOnUse" x1="0" y1="449.70" x2="0" y2="471.67"><stop offset="0" stop-color="#9a9a9a"/><stop offset="0.55" stop-color="#3a3a3a"/><stop offset="1" stop-color="#262626"/></linearGradient>
<linearGradient id="fvg23" gradientUnits="userSpaceOnUse" x1="0" y1="449.70" x2="0" y2="476.00"><stop offset="0" stop-color="#8a8a8a"/><stop offset="0.68" stop-color="#213a44"/><stop offset="0.85" stop-color="#213a44"/><stop offset="1" stop-color="#3aa9c9"/></linearGradient>
<polygon points="244.42,449.70 244.43,452.25 244.47,454.80 244.51,457.35 244.55,459.90 244.59,462.45 244.60,465.00 244.67,466.67 244.85,468.33 245.09,470.00 245.33,471.67 245.51,473.33 245.58,475.00 245.66,476.00 245.84,477.00 246.09,478.00 246.34,479.00 246.52,480.00 246.60,481.00 246.60,482.38 246.60,483.77 246.60,485.15 246.60,486.53 246.60,487.92 246.60,489.30 242.00,489.30 242.00,487.92 242.00,486.53 242.00,485.15 242.00,483.77 242.00,482.38 242.00,481.00 242.08,480.00 242.26,479.00 242.51,478.00 242.76,477.00 242.94,476.00 243.02,475.00 243.09,473.33 243.27,471.67 243.51,470.00 243.75,468.33 243.93,466.67 244.00,465.00 244.01,462.45 244.05,459.90 244.09,457.35 244.13,454.80 244.17,452.25 244.18,449.70" fill="url(#fvg23)" stroke="url(#vg23)" stroke-width="0.55" stroke-linejoin="round"/>
<line x1="244.30" y1="475.39" x2="244.30" y2="487.85" stroke="#222" stroke-width="0.5" opacity="0.75"/>
<rect x="243.30" y="485.40" width="2.0" height="2.0" fill="#fff"/>
<linearGradient id="vg24" gradientUnits="userSpaceOnUse" x1="0" y1="455.40" x2="0" y2="467.00"><stop offset="0" stop-color="#9a9a9a"/><stop offset="0.55" stop-color="#3a3a3a"/><stop offset="1" stop-color="#262626"/></linearGradient>
<linearGradient id="fvg24" gradientUnits="userSpaceOnUse" x1="0" y1="455.40" x2="0" y2="468.67"><stop offset="0" stop-color="#8a8a8a"/><stop offset="0.68" stop-color="#4a2616"/><stop offset="0.85" stop-color="#4a2616"/><stop offset="1" stop-color="#e0622c"/></linearGradient>
<polygon points="250.22,455.40 250.24,456.50 250.28,457.60 250.34,458.70 250.39,459.80 250.43,460.90 250.45,462.00 250.57,463.67 250.88,465.33 251.28,467.00 251.67,468.67 251.98,470.33 252.10,472.00 252.14,473.00 252.23,474.00 252.35,475.00 252.47,476.00 252.56,477.00 252.60,478.00 252.60,479.88 252.60,481.77 252.60,483.65 252.60,485.53 252.60,487.42 252.60,489.30 247.60,489.30 247.60,487.42 247.60,485.53 247.60,483.65 247.60,481.77 247.60,479.88 247.60,478.00 247.64,477.00 247.73,476.00 247.85,475.00 247.97,474.00 248.06,473.00 248.10,472.00 248.22,470.33 248.53,468.67 248.92,467.00 249.32,465.33 249.63,463.67 249.75,462.00 249.77,460.90 249.81,459.80 249.86,458.70 249.92,457.60 249.96,456.50 249.98,455.40" fill="url(#fvg24)" stroke="url(#vg24)" stroke-width="0.55" stroke-linejoin="round"/>
<line x1="250.10" y1="475.14" x2="250.10" y2="486.45" stroke="#222" stroke-width="0.5" opacity="0.75"/>
<rect x="249.10" y="482.60" width="2.0" height="2.0" fill="#fff"/>
<line x1="247.20" y1="494.50" x2="247.20" y2="496.30" stroke="#555" stroke-width="0.6" />
<line x1="244.30" y1="449.70" x2="250.10" y2="449.70" stroke="#555" stroke-width="0.45" />
<line x1="244.30" y1="449.70" x2="244.30" y2="450.90" stroke="#555" stroke-width="0.45" />
<line x1="250.10" y1="449.70" x2="250.10" y2="450.90" stroke="#555" stroke-width="0.45" />
<linearGradient id="vg25" gradientUnits="userSpaceOnUse" x1="0" y1="454.80" x2="0" y2="474.00"><stop offset="0" stop-color="#9a9a9a"/><stop offset="0.55" stop-color="#3a3a3a"/><stop offset="1" stop-color="#262626"/></linearGradient>
<linearGradient id="fvg25" gradientUnits="userSpaceOnUse" x1="0" y1="454.80" x2="0" y2="475.33"><stop offset="0" stop-color="#8a8a8a"/><stop offset="0.68" stop-color="#213a44"/><stop offset="0.85" stop-color="#213a44"/><stop offset="1" stop-color="#3aa9c9"/></linearGradient>
<polygon points="261.67,454.80 261.69,457.33 261.73,459.87 261.79,462.40 261.84,464.93 261.88,467.47 261.90,470.00 262.01,471.33 262.28,472.67 262.62,474.00 262.97,475.33 263.24,476.67 263.35,478.00 263.39,478.83 263.48,479.67 263.60,480.50 263.72,481.33 263.81,482.17 263.85,483.00 263.85,484.05 263.85,485.10 263.85,486.15 263.85,487.20 263.85,488.25 263.85,489.30 259.25,489.30 259.25,488.25 259.25,487.20 259.25,486.15 259.25,485.10 259.25,484.05 259.25,483.00 259.29,482.17 259.38,481.33 259.50,480.50 259.62,479.67 259.71,478.83 259.75,478.00 259.86,476.67 260.13,475.33 260.48,474.00 260.82,472.67 261.09,471.33 261.20,470.00 261.22,467.47 261.26,464.93 261.31,462.40 261.37,459.87 261.41,457.33 261.43,454.80" fill="url(#fvg25)" stroke="url(#vg25)" stroke-width="0.55" stroke-linejoin="round"/>
<line x1="261.55" y1="476.78" x2="261.55" y2="487.75" stroke="#222" stroke-width="0.5" opacity="0.75"/>
<rect x="260.55" y="485.20" width="2.0" height="2.0" fill="#fff"/>
<linearGradient id="vg26" gradientUnits="userSpaceOnUse" x1="0" y1="473.00" x2="0" y2="480.50"><stop offset="0" stop-color="#9a9a9a"/><stop offset="0.55" stop-color="#3a3a3a"/><stop offset="1" stop-color="#262626"/></linearGradient>
<linearGradient id="fvg26" gradientUnits="userSpaceOnUse" x1="0" y1="473.00" x2="0" y2="481.00"><stop offset="0" stop-color="#8a8a8a"/><stop offset="0.68" stop-color="#4a2616"/><stop offset="0.85" stop-color="#4a2616"/><stop offset="1" stop-color="#e0622c"/></linearGradient>
<polygon points="267.47,473.00 267.49,474.00 267.54,475.00 267.61,476.00 267.68,477.00 267.73,478.00 267.75,479.00 267.87,479.50 268.16,480.00 268.55,480.50 268.94,481.00 269.23,481.50 269.35,482.00 269.39,482.50 269.48,483.00 269.60,483.50 269.72,484.00 269.81,484.50 269.85,485.00 269.81,485.72 269.72,486.43 269.60,487.15 269.48,487.87 269.39,488.58 269.35,489.30 265.35,489.30 265.31,488.58 265.22,487.87 265.10,487.15 264.98,486.43 264.89,485.72 264.85,485.00 264.89,484.50 264.98,484.00 265.10,483.50 265.22,483.00 265.31,482.50 265.35,482.00 265.47,481.50 265.76,481.00 266.15,480.50 266.54,480.00 266.83,479.50 266.95,479.00 266.97,478.00 267.02,477.00 267.09,476.00 267.16,475.00 267.21,474.00 267.23,473.00" fill="url(#fvg26)" stroke="url(#vg26)" stroke-width="0.55" stroke-linejoin="round"/>
<line x1="267.35" y1="482.10" x2="267.35" y2="487.65" stroke="#222" stroke-width="0.5" opacity="0.75"/>
<rect x="266.35" y="485.00" width="2.0" height="2.0" fill="#fff"/>
<line x1="264.45" y1="494.50" x2="264.45" y2="496.30" stroke="#555" stroke-width="0.6" />
<line x1="261.55" y1="454.80" x2="267.35" y2="454.80" stroke="#555" stroke-width="0.45" />
<line x1="261.55" y1="454.80" x2="261.55" y2="456.00" stroke="#555" stroke-width="0.45" />
<line x1="267.35" y1="454.80" x2="267.35" y2="456.00" stroke="#555" stroke-width="0.45" />
<linearGradient id="vg27" gradientUnits="userSpaceOnUse" x1="0" y1="395.00" x2="0" y2="473.67"><stop offset="0" stop-color="#9a9a9a"/><stop offset="0.55" stop-color="#3a3a3a"/><stop offset="1" stop-color="#262626"/></linearGradient>
<linearGradient id="fvg27" gradientUnits="userSpaceOnUse" x1="0" y1="395.00" x2="0" y2="479.17"><stop offset="0" stop-color="#8a8a8a"/><stop offset="0.68" stop-color="#213a44"/><stop offset="0.85" stop-color="#213a44"/><stop offset="1" stop-color="#3aa9c9"/></linearGradient>
<polygon points="278.92,395.00 278.93,404.17 278.95,413.33 278.99,422.50 279.02,431.67 279.04,440.83 279.05,450.00 279.06,452.50 279.09,455.00 279.12,457.50 279.16,460.00 279.19,462.50 279.20,465.00 279.27,467.17 279.43,469.33 279.64,471.50 279.85,473.67 280.01,475.83 280.08,478.00 280.15,479.17 280.32,480.33 280.54,481.50 280.76,482.67 280.93,483.83 281.00,485.00 281.01,485.72 281.03,486.43 281.05,487.15 281.07,487.87 281.09,488.58 281.10,489.30 276.50,489.30 276.51,488.58 276.53,487.87 276.55,487.15 276.57,486.43 276.59,485.72 276.60,485.00 276.67,483.83 276.84,482.67 277.06,481.50 277.28,480.33 277.45,479.17 277.52,478.00 277.59,475.83 277.75,473.67 277.96,471.50 278.17,469.33 278.33,467.17 278.40,465.00 278.41,462.50 278.44,460.00 278.48,457.50 278.51,455.00 278.54,452.50 278.55,450.00 278.56,440.83 278.58,431.67 278.62,422.50 278.65,413.33 278.67,404.17 278.68,395.00" fill="url(#fvg27)" stroke="url(#vg27)" stroke-width="0.55" stroke-linejoin="round"/>
<polygon points="277.37,489.30 278.80,485.30 280.23,489.30" fill="#fff"/>
<linearGradient id="vg28" gradientUnits="userSpaceOnUse" x1="0" y1="356.90" x2="0" y2="464.00"><stop offset="0" stop-color="#9a9a9a"/><stop offset="0.55" stop-color="#3a3a3a"/><stop offset="1" stop-color="#262626"/></linearGradient>
<linearGradient id="fvg28" gradientUnits="userSpaceOnUse" x1="0" y1="356.90" x2="0" y2="466.00"><stop offset="0" stop-color="#8a8a8a"/><stop offset="0.68" stop-color="#4a2616"/><stop offset="0.85" stop-color="#4a2616"/><stop offset="1" stop-color="#e0622c"/></linearGradient>
<polygon points="284.72,356.90 284.73,370.75 284.75,384.60 284.78,398.45 284.82,412.30 284.84,426.15 284.85,440.00 284.86,443.00 284.90,446.00 284.95,449.00 285.00,452.00 285.04,455.00 285.05,458.00 285.15,460.00 285.40,462.00 285.72,464.00 286.05,466.00 286.30,468.00 286.40,470.00 286.45,471.67 286.58,473.33 286.75,475.00 286.92,476.67 287.05,478.33 287.10,480.00 287.10,481.55 287.10,483.10 287.10,484.65 287.10,486.20 287.10,487.75 287.10,489.30 282.10,489.30 282.10,487.75 282.10,486.20 282.10,484.65 282.10,483.10 282.10,481.55 282.10,480.00 282.15,478.33 282.28,476.67 282.45,475.00 282.62,473.33 282.75,471.67 282.80,470.00 282.90,468.00 283.15,466.00 283.47,464.00 283.80,462.00 284.05,460.00 284.15,458.00 284.16,455.00 284.20,452.00 284.25,449.00 284.30,446.00 284.34,443.00 284.35,440.00 284.36,426.15 284.38,412.30 284.41,398.45 284.45,384.60 284.47,370.75 284.48,356.90" fill="url(#fvg28)" stroke="url(#vg28)" stroke-width="0.55" stroke-linejoin="round"/>
<line x1="281.70" y1="494.50" x2="281.70" y2="496.30" stroke="#555" stroke-width="0.6" />
<line x1="278.80" y1="356.90" x2="284.60" y2="356.90" stroke="#555" stroke-width="0.45" />
<line x1="278.80" y1="356.90" x2="278.80" y2="358.10" stroke="#555" stroke-width="0.45" />
<line x1="284.60" y1="356.90" x2="284.60" y2="358.10" stroke="#555" stroke-width="0.45" />
<linearGradient id="vg29" gradientUnits="userSpaceOnUse" x1="0" y1="454.80" x2="0" y2="480.83"><stop offset="0" stop-color="#9a9a9a"/><stop offset="0.55" stop-color="#3a3a3a"/><stop offset="1" stop-color="#262626"/></linearGradient>
<linearGradient id="fvg29" gradientUnits="userSpaceOnUse" x1="0" y1="454.80" x2="0" y2="484.43"><stop offset="0" stop-color="#8a8a8a"/><stop offset="0.68" stop-color="#213a44"/><stop offset="0.85" stop-color="#213a44"/><stop offset="1" stop-color="#3aa9c9"/></linearGradient>
<polygon points="296.17,454.80 296.18,458.17 296.20,461.53 296.24,464.90 296.27,468.27 296.29,471.63 296.30,475.00 296.36,476.17 296.53,477.33 296.74,478.50 296.94,479.67 297.11,480.83 297.17,482.00 297.24,483.22 297.42,484.43 297.66,485.65 297.90,486.87 298.08,488.08 298.15,489.30 293.95,489.30 294.02,488.08 294.20,486.87 294.44,485.65 294.68,484.43 294.86,483.22 294.93,482.00 294.99,480.83 295.16,479.67 295.37,478.50 295.57,477.33 295.74,476.17 295.80,475.00 295.81,471.63 295.83,468.27 295.87,464.90 295.90,461.53 295.92,458.17 295.93,454.80" fill="url(#fvg29)" stroke="url(#vg29)" stroke-width="0.55" stroke-linejoin="round"/>
<polygon points="294.75,489.30 296.05,485.30 297.35,489.30" fill="#fff"/>
<linearGradient id="vg30" gradientUnits="userSpaceOnUse" x1="0" y1="456.40" x2="0" y2="470.00"><stop offset="0" stop-color="#9a9a9a"/><stop offset="0.55" stop-color="#3a3a3a"/><stop offset="1" stop-color="#262626"/></linearGradient>
<linearGradient id="fvg30" gradientUnits="userSpaceOnUse" x1="0" y1="456.40" x2="0" y2="471.33"><stop offset="0" stop-color="#8a8a8a"/><stop offset="0.68" stop-color="#4a2616"/><stop offset="0.85" stop-color="#4a2616"/><stop offset="1" stop-color="#e0622c"/></linearGradient>
<polygon points="301.97,456.40 301.99,458.00 302.04,459.60 302.11,461.20 302.18,462.80 302.23,464.40 302.25,466.00 302.37,467.33 302.66,468.67 303.05,470.00 303.44,471.33 303.73,472.67 303.85,474.00 303.89,475.00 303.98,476.00 304.10,477.00 304.22,478.00 304.31,479.00 304.35,480.00 304.34,481.55 304.30,483.10 304.25,484.65 304.20,486.20 304.16,487.75 304.15,489.30 299.55,489.30 299.54,487.75 299.50,486.20 299.45,484.65 299.40,483.10 299.36,481.55 299.35,480.00 299.39,479.00 299.48,478.00 299.60,477.00 299.72,476.00 299.81,475.00 299.85,474.00 299.97,472.67 300.26,471.33 300.65,470.00 301.04,468.67 301.33,467.33 301.45,466.00 301.47,464.40 301.52,462.80 301.59,461.20 301.66,459.60 301.71,458.00 301.73,456.40" fill="url(#fvg30)" stroke="url(#vg30)" stroke-width="0.55" stroke-linejoin="round"/>
<line x1="301.85" y1="476.00" x2="301.85" y2="486.85" stroke="#222" stroke-width="0.5" opacity="0.75"/>
<rect x="300.85" y="483.40" width="2.0" height="2.0" fill="#fff"/>
<line x1="298.95" y1="494.50" x2="298.95" y2="496.30" stroke="#555" stroke-width="0.6" />
<line x1="296.05" y1="454.80" x2="301.85" y2="454.80" stroke="#555" stroke-width="0.45" />
<line x1="296.05" y1="454.80" x2="296.05" y2="456.00" stroke="#555" stroke-width="0.45" />
<line x1="301.85" y1="454.80" x2="301.85" y2="456.00" stroke="#555" stroke-width="0.45" />
<linearGradient id="vg31" gradientUnits="userSpaceOnUse" x1="0" y1="359.70" x2="0" y2="405.33"><stop offset="0" stop-color="#9a9a9a"/><stop offset="0.55" stop-color="#3a3a3a"/><stop offset="1" stop-color="#262626"/></linearGradient>
<linearGradient id="fvg31" gradientUnits="userSpaceOnUse" x1="0" y1="359.70" x2="0" y2="417.33"><stop offset="0" stop-color="#8a8a8a"/><stop offset="0.68" stop-color="#213a44"/><stop offset="0.85" stop-color="#213a44"/><stop offset="1" stop-color="#3aa9c9"/></linearGradient>
<polygon points="313.42,359.70 313.43,365.08 313.47,370.47 313.51,375.85 313.55,381.23 313.59,386.62 313.60,392.00 313.66,395.33 313.81,398.67 314.01,402.00 314.21,405.33 314.36,408.67 314.42,412.00 314.55,414.67 314.88,417.33 315.31,420.00 315.74,422.67 316.07,425.33 316.20,428.00 316.20,430.83 316.20,433.67 316.20,436.50 316.20,439.33 316.20,442.17 316.20,445.00 316.13,448.33 315.94,451.67 315.70,455.00 315.46,458.33 315.27,461.67 315.20,465.00 315.09,467.50 314.82,470.00 314.48,472.50 314.13,475.00 313.86,477.50 313.75,480.00 313.75,481.55 313.76,483.10 313.78,484.65 313.79,486.20 313.80,487.75 313.80,489.30 312.80,489.30 312.80,487.75 312.81,486.20 312.82,484.65 312.84,483.10 312.85,481.55 312.85,480.00 312.74,477.50 312.47,475.00 312.12,472.50 311.78,470.00 311.51,467.50 311.40,465.00 311.33,461.67 311.14,458.33 310.90,455.00 310.66,451.67 310.47,448.33 310.40,445.00 310.40,442.17 310.40,439.33 310.40,436.50 310.40,433.67 310.40,430.83 310.40,428.00 310.53,425.33 310.86,422.67 311.29,420.00 311.72,417.33 312.05,414.67 312.18,412.00 312.24,408.67 312.39,405.33 312.59,402.00 312.79,398.67 312.94,395.33 313.00,392.00 313.01,386.62 313.05,381.23 313.09,375.85 313.13,370.47 313.17,365.08 313.18,359.70" fill="url(#fvg31)" stroke="url(#vg31)" stroke-width="0.55" stroke-linejoin="round"/>
<line x1="313.30" y1="412.55" x2="313.30" y2="462.25" stroke="#222" stroke-width="0.5" opacity="0.75"/>
<rect x="312.30" y="434.20" width="2.0" height="2.0" fill="#fff"/>
<linearGradient id="vg32" gradientUnits="userSpaceOnUse" x1="0" y1="375.20" x2="0" y2="415.33"><stop offset="0" stop-color="#9a9a9a"/><stop offset="0.55" stop-color="#3a3a3a"/><stop offset="1" stop-color="#262626"/></linearGradient>
<linearGradient id="fvg32" gradientUnits="userSpaceOnUse" x1="0" y1="375.20" x2="0" y2="424.50"><stop offset="0" stop-color="#8a8a8a"/><stop offset="0.68" stop-color="#4a2616"/><stop offset="0.85" stop-color="#4a2616"/><stop offset="1" stop-color="#e0622c"/></linearGradient>
<polygon points="319.22,375.20 319.23,379.67 319.27,384.13 319.31,388.60 319.35,393.07 319.39,397.53 319.40,402.00 319.47,405.33 319.63,408.67 319.85,412.00 320.07,415.33 320.23,418.67 320.30,422.00 320.40,424.50 320.66,427.00 321.00,429.50 321.34,432.00 321.60,434.50 321.70,437.00 321.70,438.83 321.70,440.67 321.70,442.50 321.70,444.33 321.70,446.17 321.70,448.00 321.64,450.33 321.49,452.67 321.30,455.00 321.11,457.33 320.96,459.67 320.90,462.00 320.80,463.67 320.55,465.33 320.22,467.00 319.90,468.67 319.65,470.33 319.55,472.00 319.54,472.83 319.51,473.67 319.47,474.50 319.44,475.33 319.41,476.17 319.40,477.00 318.80,477.00 318.79,476.17 318.76,475.33 318.72,474.50 318.69,473.67 318.66,472.83 318.65,472.00 318.55,470.33 318.30,468.67 317.97,467.00 317.65,465.33 317.40,463.67 317.30,462.00 317.24,459.67 317.09,457.33 316.90,455.00 316.71,452.67 316.56,450.33 316.50,448.00 316.50,446.17 316.50,444.33 316.50,442.50 316.50,440.67 316.50,438.83 316.50,437.00 316.60,434.50 316.86,432.00 317.20,429.50 317.54,427.00 317.80,424.50 317.90,422.00 317.97,418.67 318.13,415.33 318.35,412.00 318.57,408.67 318.73,405.33 318.80,402.00 318.81,397.53 318.85,393.07 318.89,388.60 318.93,384.13 318.97,379.67 318.98,375.20" fill="url(#fvg32)" stroke="url(#vg32)" stroke-width="0.55" stroke-linejoin="round"/>
<line x1="319.10" y1="420.56" x2="319.10" y2="458.50" stroke="#222" stroke-width="0.5" opacity="0.75"/>
<rect x="318.10" y="439.00" width="2.0" height="2.0" fill="#fff"/>
<line x1="316.20" y1="494.50" x2="316.20" y2="496.30" stroke="#555" stroke-width="0.6" />
<line x1="313.30" y1="359.70" x2="319.10" y2="359.70" stroke="#555" stroke-width="0.45" />
<line x1="313.30" y1="359.70" x2="313.30" y2="360.90" stroke="#555" stroke-width="0.45" />
<line x1="319.10" y1="359.70" x2="319.10" y2="360.90" stroke="#555" stroke-width="0.45" />
<linearGradient id="vg33" gradientUnits="userSpaceOnUse" x1="0" y1="449.00" x2="0" y2="482.00"><stop offset="0" stop-color="#9a9a9a"/><stop offset="0.55" stop-color="#3a3a3a"/><stop offset="1" stop-color="#262626"/></linearGradient>
<linearGradient id="fvg33" gradientUnits="userSpaceOnUse" x1="0" y1="449.00" x2="0" y2="485.77"><stop offset="0" stop-color="#8a8a8a"/><stop offset="0.68" stop-color="#213a44"/><stop offset="0.85" stop-color="#213a44"/><stop offset="1" stop-color="#3aa9c9"/></linearGradient>
<polygon points="330.67,449.00 330.68,453.83 330.70,458.67 330.74,463.50 330.77,468.33 330.79,473.17 330.80,478.00 330.87,479.00 331.05,480.00 331.28,481.00 331.50,482.00 331.68,483.00 331.75,484.00 331.83,484.88 332.04,485.77 332.30,486.65 332.56,487.53 332.77,488.42 332.85,489.30 328.25,489.30 328.33,488.42 328.54,487.53 328.80,486.65 329.06,485.77 329.27,484.88 329.35,484.00 329.42,483.00 329.60,482.00 329.82,481.00 330.05,480.00 330.23,479.00 330.30,478.00 330.31,473.17 330.33,468.33 330.37,463.50 330.40,458.67 330.42,453.83 330.43,449.00" fill="url(#fvg33)" stroke="url(#vg33)" stroke-width="0.55" stroke-linejoin="round"/>
<polygon points="329.12,489.30 330.55,485.30 331.98,489.30" fill="#fff"/>
<linearGradient id="vg34" gradientUnits="userSpaceOnUse" x1="0" y1="471.70" x2="0" y2="484.67"><stop offset="0" stop-color="#9a9a9a"/><stop offset="0.55" stop-color="#3a3a3a"/><stop offset="1" stop-color="#262626"/></linearGradient>
<linearGradient id="fvg34" gradientUnits="userSpaceOnUse" x1="0" y1="471.70" x2="0" y2="487.10"><stop offset="0" stop-color="#8a8a8a"/><stop offset="0.68" stop-color="#4a2616"/><stop offset="0.85" stop-color="#4a2616"/><stop offset="1" stop-color="#e0622c"/></linearGradient>
<polygon points="336.47,471.70 336.48,473.42 336.50,475.13 336.53,476.85 336.57,478.57 336.59,480.28 336.60,482.00 336.67,482.67 336.85,483.33 337.07,484.00 337.30,484.67 337.48,485.33 337.55,486.00 337.61,486.55 337.76,487.10 337.95,487.65 338.14,488.20 338.29,488.75 338.35,489.30 334.35,489.30 334.41,488.75 334.56,488.20 334.75,487.65 334.94,487.10 335.09,486.55 335.15,486.00 335.22,485.33 335.40,484.67 335.62,484.00 335.85,483.33 336.03,482.67 336.10,482.00 336.11,480.28 336.13,478.57 336.16,476.85 336.20,475.13 336.22,473.42 336.23,471.70" fill="url(#fvg34)" stroke="url(#vg34)" stroke-width="0.55" stroke-linejoin="round"/>
<polygon points="335.11,489.30 336.35,485.30 337.59,489.30" fill="#fff"/>
<line x1="333.45" y1="494.50" x2="333.45" y2="496.30" stroke="#555" stroke-width="0.6" />
<line x1="330.55" y1="449.00" x2="336.35" y2="449.00" stroke="#555" stroke-width="0.45" />
<line x1="330.55" y1="449.00" x2="330.55" y2="450.20" stroke="#555" stroke-width="0.45" />
<line x1="336.35" y1="449.00" x2="336.35" y2="450.20" stroke="#555" stroke-width="0.45" />
<linearGradient id="vg35" gradientUnits="userSpaceOnUse" x1="0" y1="400.90" x2="0" y2="452.00"><stop offset="0" stop-color="#9a9a9a"/><stop offset="0.55" stop-color="#3a3a3a"/><stop offset="1" stop-color="#262626"/></linearGradient>
<linearGradient id="fvg35" gradientUnits="userSpaceOnUse" x1="0" y1="400.90" x2="0" y2="460.00"><stop offset="0" stop-color="#8a8a8a"/><stop offset="0.68" stop-color="#213a44"/><stop offset="0.85" stop-color="#213a44"/><stop offset="1" stop-color="#3aa9c9"/></linearGradient>
<polygon points="347.92,400.90 347.93,407.42 347.97,413.93 348.01,420.45 348.05,426.97 348.09,433.48 348.10,440.00 348.17,443.00 348.35,446.00 348.59,449.00 348.83,452.00 349.01,455.00 349.08,458.00 349.19,460.00 349.47,462.00 349.84,464.00 350.21,466.00 350.49,468.00 350.60,470.00 350.61,471.67 350.65,473.33 350.70,475.00 350.75,476.67 350.79,478.33 350.80,480.00 350.79,481.55 350.75,483.10 350.70,484.65 350.65,486.20 350.61,487.75 350.60,489.30 345.00,489.30 344.99,487.75 344.95,486.20 344.90,484.65 344.85,483.10 344.81,481.55 344.80,480.00 344.81,478.33 344.85,476.67 344.90,475.00 344.95,473.33 344.99,471.67 345.00,470.00 345.11,468.00 345.39,466.00 345.76,464.00 346.13,462.00 346.41,460.00 346.52,458.00 346.59,455.00 346.77,452.00 347.01,449.00 347.25,446.00 347.43,443.00 347.50,440.00 347.51,433.48 347.55,426.97 347.59,420.45 347.63,413.93 347.67,407.42 347.68,400.90" fill="url(#fvg35)" stroke="url(#vg35)" stroke-width="0.55" stroke-linejoin="round"/>
<line x1="347.80" y1="453.68" x2="347.80" y2="482.80" stroke="#222" stroke-width="0.5" opacity="0.75"/>
<rect x="346.80" y="475.30" width="2.0" height="2.0" fill="#fff"/>
<linearGradient id="vg36" gradientUnits="userSpaceOnUse" x1="0" y1="453.40" x2="0" y2="471.00"><stop offset="0" stop-color="#9a9a9a"/><stop offset="0.55" stop-color="#3a3a3a"/><stop offset="1" stop-color="#262626"/></linearGradient>
<linearGradient id="fvg36" gradientUnits="userSpaceOnUse" x1="0" y1="453.40" x2="0" y2="475.17"><stop offset="0" stop-color="#8a8a8a"/><stop offset="0.68" stop-color="#4a2616"/><stop offset="0.85" stop-color="#4a2616"/><stop offset="1" stop-color="#e0622c"/></linearGradient>
<polygon points="353.72,453.40 353.73,455.33 353.77,457.27 353.81,459.20 353.85,461.13 353.89,463.07 353.90,465.00 353.97,466.50 354.15,468.00 354.39,469.50 354.63,471.00 354.81,472.50 354.88,474.00 354.97,475.17 355.20,476.33 355.49,477.50 355.78,478.67 356.01,479.83 356.10,481.00 356.10,482.38 356.10,483.77 356.10,485.15 356.10,486.53 356.10,487.92 356.10,489.30 351.10,489.30 351.10,487.92 351.10,486.53 351.10,485.15 351.10,483.77 351.10,482.38 351.10,481.00 351.19,479.83 351.42,478.67 351.71,477.50 352.00,476.33 352.23,475.17 352.32,474.00 352.39,472.50 352.57,471.00 352.81,469.50 353.05,468.00 353.23,466.50 353.30,465.00 353.31,463.07 353.35,461.13 353.39,459.20 353.43,457.27 353.47,455.33 353.48,453.40" fill="url(#fvg36)" stroke="url(#vg36)" stroke-width="0.55" stroke-linejoin="round"/>
<line x1="353.60" y1="474.96" x2="353.60" y2="486.75" stroke="#222" stroke-width="0.5" opacity="0.75"/>
<rect x="352.60" y="483.20" width="2.0" height="2.0" fill="#fff"/>
<line x1="350.70" y1="494.50" x2="350.70" y2="496.30" stroke="#555" stroke-width="0.6" />
<line x1="347.80" y1="400.90" x2="353.60" y2="400.90" stroke="#555" stroke-width="0.45" />
<line x1="347.80" y1="400.90" x2="347.80" y2="402.10" stroke="#555" stroke-width="0.45" />
<line x1="353.60" y1="400.90" x2="353.60" y2="402.10" stroke="#555" stroke-width="0.45" />
<linearGradient id="vg37" gradientUnits="userSpaceOnUse" x1="0" y1="420.90" x2="0" y2="455.00"><stop offset="0" stop-color="#9a9a9a"/><stop offset="0.55" stop-color="#3a3a3a"/><stop offset="1" stop-color="#262626"/></linearGradient>
<linearGradient id="fvg37" gradientUnits="userSpaceOnUse" x1="0" y1="420.90" x2="0" y2="464.00"><stop offset="0" stop-color="#8a8a8a"/><stop offset="0.68" stop-color="#213a44"/><stop offset="0.85" stop-color="#213a44"/><stop offset="1" stop-color="#3aa9c9"/></linearGradient>
<polygon points="365.17,420.90 365.18,424.92 365.22,428.93 365.26,432.95 365.30,436.97 365.34,440.98 365.35,445.00 365.42,447.50 365.58,450.00 365.80,452.50 366.02,455.00 366.18,457.50 366.25,460.00 366.35,462.00 366.59,464.00 366.90,466.00 367.21,468.00 367.45,470.00 367.55,472.00 367.55,474.88 367.55,477.77 367.55,480.65 367.55,483.53 367.55,486.42 367.55,489.30 362.55,489.30 362.55,486.42 362.55,483.53 362.55,480.65 362.55,477.77 362.55,474.88 362.55,472.00 362.65,470.00 362.89,468.00 363.20,466.00 363.51,464.00 363.75,462.00 363.85,460.00 363.92,457.50 364.08,455.00 364.30,452.50 364.52,450.00 364.68,447.50 364.75,445.00 364.76,440.98 364.80,436.97 364.84,432.95 364.88,428.93 364.92,424.92 364.93,420.90" fill="url(#fvg37)" stroke="url(#vg37)" stroke-width="0.55" stroke-linejoin="round"/>
<line x1="365.05" y1="463.67" x2="365.05" y2="485.65" stroke="#222" stroke-width="0.5" opacity="0.75"/>
<rect x="364.05" y="481.00" width="2.0" height="2.0" fill="#fff"/>
<linearGradient id="vg38" gradientUnits="userSpaceOnUse" x1="0" y1="415.80" x2="0" y2="442.50"><stop offset="0" stop-color="#9a9a9a"/><stop offset="0.55" stop-color="#3a3a3a"/><stop offset="1" stop-color="#262626"/></linearGradient>
<linearGradient id="fvg38" gradientUnits="userSpaceOnUse" x1="0" y1="415.80" x2="0" y2="445.00"><stop offset="0" stop-color="#8a8a8a"/><stop offset="0.68" stop-color="#4a2616"/><stop offset="0.85" stop-color="#4a2616"/><stop offset="1" stop-color="#e0622c"/></linearGradient>
<polygon points="370.97,415.80 370.99,419.00 371.04,422.20 371.11,425.40 371.18,428.60 371.23,431.80 371.25,435.00 371.37,437.50 371.66,440.00 372.05,442.50 372.44,445.00 372.73,447.50 372.85,450.00 372.92,452.00 373.11,454.00 373.35,456.00 373.59,458.00 373.78,460.00 373.85,462.00 373.85,465.33 373.85,468.67 373.85,472.00 373.85,475.33 373.85,478.67 373.85,482.00 373.78,483.22 373.59,484.43 373.35,485.65 373.11,486.87 372.92,488.08 372.85,489.30 368.85,489.30 368.78,488.08 368.59,486.87 368.35,485.65 368.11,484.43 367.92,483.22 367.85,482.00 367.85,478.67 367.85,475.33 367.85,472.00 367.85,468.67 367.85,465.33 367.85,462.00 367.92,460.00 368.11,458.00 368.35,456.00 368.59,454.00 368.78,452.00 368.85,450.00 368.97,447.50 369.26,445.00 369.65,442.50 370.04,440.00 370.33,437.50 370.45,435.00 370.47,431.80 370.52,428.60 370.59,425.40 370.66,422.20 370.71,419.00 370.73,415.80" fill="url(#fvg38)" stroke="url(#vg38)" stroke-width="0.55" stroke-linejoin="round"/>
<line x1="370.85" y1="460.53" x2="370.85" y2="484.50" stroke="#222" stroke-width="0.5" opacity="0.75"/>
<rect x="369.85" y="478.70" width="2.0" height="2.0" fill="#fff"/>
<line x1="367.95" y1="494.50" x2="367.95" y2="496.30" stroke="#555" stroke-width="0.6" />
<line x1="365.05" y1="415.80" x2="370.85" y2="415.80" stroke="#555" stroke-width="0.45" />
<line x1="365.05" y1="415.80" x2="365.05" y2="417.00" stroke="#555" stroke-width="0.45" />
<line x1="370.85" y1="415.80" x2="370.85" y2="417.00" stroke="#555" stroke-width="0.45" />
<linearGradient id="vg39" gradientUnits="userSpaceOnUse" x1="0" y1="442.50" x2="0" y2="474.67"><stop offset="0" stop-color="#9a9a9a"/><stop offset="0.55" stop-color="#3a3a3a"/><stop offset="1" stop-color="#262626"/></linearGradient>
<linearGradient id="fvg39" gradientUnits="userSpaceOnUse" x1="0" y1="442.50" x2="0" y2="480.00"><stop offset="0" stop-color="#8a8a8a"/><stop offset="0.68" stop-color="#213a44"/><stop offset="0.85" stop-color="#213a44"/><stop offset="1" stop-color="#3aa9c9"/></linearGradient>
<polygon points="382.42,442.50 382.43,446.75 382.47,451.00 382.51,455.25 382.55,459.50 382.59,463.75 382.60,468.00 382.67,469.67 382.83,471.33 383.05,473.00 383.27,474.67 383.43,476.33 383.50,478.00 383.58,479.00 383.79,480.00 384.05,481.00 384.31,482.00 384.52,483.00 384.60,484.00 384.60,484.88 384.60,485.77 384.60,486.65 384.60,487.53 384.60,488.42 384.60,489.30 380.00,489.30 380.00,488.42 380.00,487.53 380.00,486.65 380.00,485.77 380.00,484.88 380.00,484.00 380.08,483.00 380.29,482.00 380.55,481.00 380.81,480.00 381.02,479.00 381.10,478.00 381.17,476.33 381.33,474.67 381.55,473.00 381.77,471.33 381.93,469.67 382.00,468.00 382.01,463.75 382.05,459.50 382.09,455.25 382.13,451.00 382.17,446.75 382.18,442.50" fill="url(#fvg39)" stroke="url(#vg39)" stroke-width="0.55" stroke-linejoin="round"/>
<polygon points="380.87,489.30 382.30,485.30 383.73,489.30" fill="#fff"/>
<linearGradient id="vg40" gradientUnits="userSpaceOnUse" x1="0" y1="445.60" x2="0" y2="477.33"><stop offset="0" stop-color="#9a9a9a"/><stop offset="0.55" stop-color="#3a3a3a"/><stop offset="1" stop-color="#262626"/></linearGradient>
<linearGradient id="fvg40" gradientUnits="userSpaceOnUse" x1="0" y1="445.60" x2="0" y2="482.00"><stop offset="0" stop-color="#8a8a8a"/><stop offset="0.68" stop-color="#4a2616"/><stop offset="0.85" stop-color="#4a2616"/><stop offset="1" stop-color="#e0622c"/></linearGradient>
<polygon points="388.22,445.60 388.23,450.00 388.25,454.40 388.28,458.80 388.32,463.20 388.34,467.60 388.35,472.00 388.42,473.33 388.60,474.67 388.82,476.00 389.05,477.33 389.23,478.67 389.30,480.00 389.40,481.00 389.64,482.00 389.95,483.00 390.26,484.00 390.50,485.00 390.60,486.00 390.60,486.55 390.60,487.10 390.60,487.65 390.60,488.20 390.60,488.75 390.60,489.30 385.60,489.30 385.60,488.75 385.60,488.20 385.60,487.65 385.60,487.10 385.60,486.55 385.60,486.00 385.70,485.00 385.94,484.00 386.25,483.00 386.56,482.00 386.80,481.00 386.90,480.00 386.97,478.67 387.15,477.33 387.37,476.00 387.60,474.67 387.78,473.33 387.85,472.00 387.86,467.60 387.88,463.20 387.91,458.80 387.95,454.40 387.97,450.00 387.98,445.60" fill="url(#fvg40)" stroke="url(#vg40)" stroke-width="0.55" stroke-linejoin="round"/>
<polygon points="386.55,489.30 388.10,485.30 389.65,489.30" fill="#fff"/>
<line x1="385.20" y1="494.50" x2="385.20" y2="496.30" stroke="#555" stroke-width="0.6" />
<line x1="382.30" y1="442.50" x2="388.10" y2="442.50" stroke="#555" stroke-width="0.45" />
<line x1="382.30" y1="442.50" x2="382.30" y2="443.70" stroke="#555" stroke-width="0.45" />
<line x1="388.10" y1="442.50" x2="388.10" y2="443.70" stroke="#555" stroke-width="0.45" />
<linearGradient id="vg41" gradientUnits="userSpaceOnUse" x1="0" y1="454.10" x2="0" y2="480.00"><stop offset="0" stop-color="#9a9a9a"/><stop offset="0.55" stop-color="#3a3a3a"/><stop offset="1" stop-color="#262626"/></linearGradient>
<linearGradient id="fvg41" gradientUnits="userSpaceOnUse" x1="0" y1="454.10" x2="0" y2="484.43"><stop offset="0" stop-color="#8a8a8a"/><stop offset="0.68" stop-color="#213a44"/><stop offset="0.85" stop-color="#213a44"/><stop offset="1" stop-color="#3aa9c9"/></linearGradient>
<polygon points="399.67,454.10 399.68,457.75 399.70,461.40 399.74,465.05 399.77,468.70 399.79,472.35 399.80,476.00 399.87,477.00 400.05,478.00 400.28,479.00 400.50,480.00 400.68,481.00 400.75,482.00 400.85,483.22 401.09,484.43 401.40,485.65 401.71,486.87 401.95,488.08 402.05,489.30 397.05,489.30 397.15,488.08 397.39,486.87 397.70,485.65 398.01,484.43 398.25,483.22 398.35,482.00 398.42,481.00 398.60,480.00 398.82,479.00 399.05,478.00 399.23,477.00 399.30,476.00 399.31,472.35 399.33,468.70 399.37,465.05 399.40,461.40 399.42,457.75 399.43,454.10" fill="url(#fvg41)" stroke="url(#vg41)" stroke-width="0.55" stroke-linejoin="round"/>
<polygon points="398.00,489.30 399.55,485.30 401.10,489.30" fill="#fff"/>
<linearGradient id="vg42" gradientUnits="userSpaceOnUse" x1="0" y1="476.50" x2="0" y2="486.00"><stop offset="0" stop-color="#9a9a9a"/><stop offset="0.55" stop-color="#3a3a3a"/><stop offset="1" stop-color="#262626"/></linearGradient>
<linearGradient id="fvg42" gradientUnits="userSpaceOnUse" x1="0" y1="476.50" x2="0" y2="487.77"><stop offset="0" stop-color="#8a8a8a"/><stop offset="0.68" stop-color="#4a2616"/><stop offset="0.85" stop-color="#4a2616"/><stop offset="1" stop-color="#e0622c"/></linearGradient>
<polygon points="405.47,476.50 405.49,477.75 405.53,479.00 405.58,480.25 405.64,481.50 405.68,482.75 405.70,484.00 405.76,484.50 405.92,485.00 406.12,485.50 406.33,486.00 406.49,486.50 406.55,487.00 406.61,487.38 406.76,487.77 406.95,488.15 407.14,488.53 407.29,488.92 407.35,489.30 403.35,489.30 403.41,488.92 403.56,488.53 403.75,488.15 403.94,487.77 404.09,487.38 404.15,487.00 404.21,486.50 404.37,486.00 404.57,485.50 404.78,485.00 404.94,484.50 405.00,484.00 405.02,482.75 405.06,481.50 405.11,480.25 405.17,479.00 405.21,477.75 405.23,476.50" fill="url(#fvg42)" stroke="url(#vg42)" stroke-width="0.55" stroke-linejoin="round"/>
<polygon points="404.11,489.30 405.35,485.30 406.59,489.30" fill="#fff"/>
<line x1="402.45" y1="494.50" x2="402.45" y2="496.30" stroke="#555" stroke-width="0.6" />
<line x1="399.55" y1="454.10" x2="405.35" y2="454.10" stroke="#555" stroke-width="0.45" />
<line x1="399.55" y1="454.10" x2="399.55" y2="455.30" stroke="#555" stroke-width="0.45" />
<line x1="405.35" y1="454.10" x2="405.35" y2="455.30" stroke="#555" stroke-width="0.45" />
<linearGradient id="vg43" gradientUnits="userSpaceOnUse" x1="0" y1="410.30" x2="0" y2="475.33"><stop offset="0" stop-color="#9a9a9a"/><stop offset="0.55" stop-color="#3a3a3a"/><stop offset="1" stop-color="#262626"/></linearGradient>
<linearGradient id="fvg43" gradientUnits="userSpaceOnUse" x1="0" y1="410.30" x2="0" y2="479.00"><stop offset="0" stop-color="#8a8a8a"/><stop offset="0.68" stop-color="#213a44"/><stop offset="0.85" stop-color="#213a44"/><stop offset="1" stop-color="#3aa9c9"/></linearGradient>
<polygon points="416.92,410.30 416.93,420.25 416.97,430.20 417.01,440.15 417.05,450.10 417.09,460.05 417.10,470.00 417.17,471.33 417.33,472.67 417.55,474.00 417.77,475.33 417.93,476.67 418.00,478.00 418.12,479.00 418.41,480.00 418.80,481.00 419.19,482.00 419.48,483.00 419.60,484.00 419.61,484.88 419.65,485.77 419.70,486.65 419.75,487.53 419.79,488.42 419.80,489.30 413.80,489.30 413.81,488.42 413.85,487.53 413.90,486.65 413.95,485.77 413.99,484.88 414.00,484.00 414.12,483.00 414.41,482.00 414.80,481.00 415.19,480.00 415.48,479.00 415.60,478.00 415.67,476.67 415.83,475.33 416.05,474.00 416.27,472.67 416.43,471.33 416.50,470.00 416.51,460.05 416.55,450.10 416.59,440.15 416.63,430.20 416.67,420.25 416.68,410.30" fill="url(#fvg43)" stroke="url(#vg43)" stroke-width="0.55" stroke-linejoin="round"/>
<polygon points="414.94,489.30 416.80,485.30 418.66,489.30" fill="#fff"/>
<linearGradient id="vg44" gradientUnits="userSpaceOnUse" x1="0" y1="470.80" x2="0" y2="484.67"><stop offset="0" stop-color="#9a9a9a"/><stop offset="0.55" stop-color="#3a3a3a"/><stop offset="1" stop-color="#262626"/></linearGradient>
<linearGradient id="fvg44" gradientUnits="userSpaceOnUse" x1="0" y1="470.80" x2="0" y2="487.10"><stop offset="0" stop-color="#8a8a8a"/><stop offset="0.68" stop-color="#4a2616"/><stop offset="0.85" stop-color="#4a2616"/><stop offset="1" stop-color="#e0622c"/></linearGradient>
<polygon points="422.72,470.80 422.73,472.67 422.75,474.53 422.78,476.40 422.82,478.27 422.84,480.13 422.85,482.00 422.92,482.67 423.10,483.33 423.32,484.00 423.55,484.67 423.73,485.33 423.80,486.00 423.87,486.55 424.06,487.10 424.30,487.65 424.54,488.20 424.73,488.75 424.80,489.30 420.40,489.30 420.47,488.75 420.66,488.20 420.90,487.65 421.14,487.10 421.33,486.55 421.40,486.00 421.47,485.33 421.65,484.67 421.87,484.00 422.10,483.33 422.28,482.67 422.35,482.00 422.36,480.13 422.38,478.27 422.41,476.40 422.45,474.53 422.47,472.67 422.48,470.80" fill="url(#fvg44)" stroke="url(#vg44)" stroke-width="0.55" stroke-linejoin="round"/>
<polygon points="421.24,489.30 422.60,485.30 423.96,489.30" fill="#fff"/>
<line x1="419.70" y1="494.50" x2="419.70" y2="496.30" stroke="#555" stroke-width="0.6" />
<line x1="416.80" y1="410.30" x2="422.60" y2="410.30" stroke="#555" stroke-width="0.45" />
<line x1="416.80" y1="410.30" x2="416.80" y2="411.50" stroke="#555" stroke-width="0.45" />
<line x1="422.60" y1="410.30" x2="422.60" y2="411.50" stroke="#555" stroke-width="0.45" />
</g>
<g style="will-change:transform">
<text x="6.60" y="18.50" font-size="16.2" text-anchor="start" fill="#000" >A</text>
<text x="21.30" y="23.20" font-size="4.2" text-anchor="end" fill="#555" stroke="#555" stroke-width="0.105" >0.0</text>
<text x="21.30" y="49.80" font-size="4.2" text-anchor="end" fill="#555" stroke="#555" stroke-width="0.105" >−0.2</text>
<text x="21.30" y="76.40" font-size="4.2" text-anchor="end" fill="#555" stroke="#555" stroke-width="0.105" >−0.4</text>
<text x="21.30" y="103.00" font-size="4.2" text-anchor="end" fill="#555" stroke="#555" stroke-width="0.105" >−0.6</text>
<text x="0.00" y="0.00" font-size="6.8" text-anchor="middle" fill="#111" textLength="51.00" lengthAdjust="spacingAndGlyphs" stroke="#111" stroke-width="0.170" transform="translate(12.3,69.2) rotate(-90)">Enrichment score</text>
<text x="35.50" y="86.70" font-size="3.9" text-anchor="start" fill="#111" textLength="66.90" lengthAdjust="spacingAndGlyphs" stroke="#111" stroke-width="0.098" >GOBP_LYMPHOCYTE_CHEMOTAXIS</text>
<text x="35.50" y="92.78" font-size="3.9" text-anchor="start" fill="#111" textLength="82.90" lengthAdjust="spacingAndGlyphs" stroke="#111" stroke-width="0.098" >GOBP_LYMPHOCYTE_MEDIATED_IMMUNITY</text>
<text x="35.50" y="98.86" font-size="3.9" text-anchor="start" fill="#111" textLength="152.00" lengthAdjust="spacingAndGlyphs" stroke="#111" stroke-width="0.098" >GOBP_NATURAL_KILLER_CELL_ACTIVATION_INVOLVED_IN_IMMUNE_RESPONSE</text>
<text x="35.50" y="104.94" font-size="3.9" text-anchor="start" fill="#111" textLength="95.00" lengthAdjust="spacingAndGlyphs" stroke="#111" stroke-width="0.098" >GOBP_POSITIVE_REGULATION_OF_CELL_KILLING</text>
<text x="35.50" y="111.02" font-size="3.9" text-anchor="start" fill="#111" textLength="134.40" lengthAdjust="spacingAndGlyphs" stroke="#111" stroke-width="0.098" >GOBP_POSITIVE_REGULATION_OF_T_CELL_MEDIATED_CYTOTOXICITY</text>
<text x="35.50" y="117.10" font-size="3.9" text-anchor="start" fill="#111" textLength="115.20" lengthAdjust="spacingAndGlyphs" stroke="#111" stroke-width="0.098" >GOBP_POSITIVE_REGULATION_OF_T_CELL_PROLIFERATION</text>
<text x="13.70" y="174.40" font-size="4.8" text-anchor="start" fill="#000" textLength="91.70" lengthAdjust="spacingAndGlyphs" stroke="#000" stroke-width="0.120" >Radiomics-predicted CD8A high expression</text>
<text x="106.0" y="174.4" font-size="5.4" fill="#111" stroke="#111" stroke-width="0.1" textLength="36.2" lengthAdjust="spacing">&lt;------------&gt;</text>
<text x="142.80" y="174.40" font-size="4.8" text-anchor="start" fill="#000" textLength="92.30" lengthAdjust="spacingAndGlyphs" stroke="#000" stroke-width="0.120" >Radiomics-predicted CD8A high expression</text>
<text x="236.00" y="18.20" font-size="16.2" text-anchor="start" fill="#000" >B</text>
<text x="286.00" y="15.40" font-size="5.8" text-anchor="middle" fill="#222" stroke="#222" stroke-width="0.145" >2</text>
<text x="299.40" y="15.40" font-size="5.8" text-anchor="middle" fill="#222" stroke="#222" stroke-width="0.145" >0</text>
<text x="313.40" y="15.40" font-size="5.8" text-anchor="middle" fill="#222" stroke="#222" stroke-width="0.145" >-2</text>
<text x="339.60" y="27.00" font-size="3.6" text-anchor="start" fill="#222" font-weight="bold" stroke="#222" stroke-width="0.090" >Type</text>
<text x="351.60" y="11.90" font-size="5.0" text-anchor="start" fill="#111" font-weight="bold" stroke="#111" stroke-width="0.125" >Type</text>
<text x="360.60" y="19.00" font-size="4.65" text-anchor="start" fill="#000" textLength="90.40" lengthAdjust="spacingAndGlyphs" stroke="#000" stroke-width="0.116" >Radiomics predicted−CD8A high expression</text>
<text x="360.60" y="25.60" font-size="4.65" text-anchor="start" fill="#000" textLength="88.90" lengthAdjust="spacingAndGlyphs" stroke="#000" stroke-width="0.116" >Radiomics predicted−CD8A low expression</text>
<text x="339.30" y="38.31" font-size="3.6" text-anchor="start" fill="#000" textLength="66.40" lengthAdjust="spacingAndGlyphs" stroke="#000" stroke-width="0.090" >KEGG_REGULATION_OF_AUTOPHAGY</text>
<text x="339.30" y="56.74" font-size="3.6" text-anchor="start" fill="#000" textLength="93.10" lengthAdjust="spacingAndGlyphs" stroke="#000" stroke-width="0.090" >KEGG_ANTIGEN_PROCESSING_AND_PRESENTATION</text>
<text x="339.30" y="75.16" font-size="3.6" text-anchor="start" fill="#000" textLength="114.00" lengthAdjust="spacingAndGlyphs" stroke="#000" stroke-width="0.090" >KEGG_INTESTINAL_IMMUNE_NETWORK_FOR_IGA_PRODUCTION</text>
<text x="339.30" y="93.59" font-size="3.6" text-anchor="start" fill="#000" textLength="33.10" lengthAdjust="spacingAndGlyphs" stroke="#000" stroke-width="0.090" >KEGG_APOPTOSIS</text>
<text x="339.30" y="112.01" font-size="3.6" text-anchor="start" fill="#000" textLength="102.50" lengthAdjust="spacingAndGlyphs" stroke="#000" stroke-width="0.090" >KEGG_NATURAL_KILLER_CELL_MEDIATED_CYTOTOXICITY</text>
<text x="339.30" y="130.44" font-size="3.6" text-anchor="start" fill="#000" textLength="87.80" lengthAdjust="spacingAndGlyphs" stroke="#000" stroke-width="0.090" >KEGG_T_CELL_RECEPTOR_SIGNALING_PATHWAY</text>
<text x="339.30" y="148.86" font-size="3.6" text-anchor="start" fill="#000" textLength="87.80" lengthAdjust="spacingAndGlyphs" stroke="#000" stroke-width="0.090" >KEGG_B_CELL_RECEPTOR_SIGNALING_PATHWAY</text>
<text x="339.30" y="167.29" font-size="3.6" text-anchor="start" fill="#000" textLength="95.00" lengthAdjust="spacingAndGlyphs" stroke="#000" stroke-width="0.090" >KEGG_LEUKOCYTE_TRANSENDOTHELIAL_MIGRATION</text>
<text x="5.90" y="201.20" font-size="16.2" text-anchor="start" fill="#000" >C</text>
<text x="93.00" y="213.60" font-size="3.5" text-anchor="start" fill="#111" textLength="31.80" lengthAdjust="spacingAndGlyphs" stroke="#111" stroke-width="0.088" ><tspan font-style="italic">p</tspan> &lt; 0.001, <tspan font-style="italic">ρ̂</tspan> = −0.43</text>
<text x="0.00" y="0.00" font-size="5.1" text-anchor="middle" fill="#000" stroke="#000" stroke-width="0.128" transform="translate(9.6,254.5) rotate(-90)">CD8A</text>
<text x="14.90" y="220.60" font-size="3.0" text-anchor="end" fill="#777" stroke="#777" stroke-width="0.075" >0.9</text>
<text x="14.90" y="244.00" font-size="3.0" text-anchor="end" fill="#777" stroke="#777" stroke-width="0.075" >0.6</text>
<text x="14.90" y="267.30" font-size="3.0" text-anchor="end" fill="#777" stroke="#777" stroke-width="0.075" >0.3</text>
<text x="14.90" y="290.60" font-size="3.0" text-anchor="end" fill="#777" stroke="#777" stroke-width="0.075" >0.0</text>
<text x="41.00" y="305.00" font-size="3.2" text-anchor="middle" fill="#777" stroke="#777" stroke-width="0.080" >−1</text>
<text x="70.80" y="305.00" font-size="3.2" text-anchor="middle" fill="#777" stroke="#777" stroke-width="0.080" >0</text>
<text x="100.60" y="305.00" font-size="3.2" text-anchor="middle" fill="#777" stroke="#777" stroke-width="0.080" >1</text>
<text x="54.50" y="310.80" font-size="4.8" text-anchor="start" fill="#000" textLength="35.40" lengthAdjust="spacingAndGlyphs" stroke="#000" stroke-width="0.120" >Radiomics score</text>
<text x="151.60" y="201.10" font-size="16.2" text-anchor="start" fill="#000" >D</text>
<text x="244.20" y="215.10" font-size="3.5" text-anchor="start" fill="#111" textLength="32.40" lengthAdjust="spacingAndGlyphs" stroke="#111" stroke-width="0.088" ><tspan font-style="italic">p</tspan> = 0.003, <tspan font-style="italic">ρ̂</tspan> = −0.28</text>
<text x="0.00" y="0.00" font-size="5.1" text-anchor="middle" fill="#000" stroke="#000" stroke-width="0.128" transform="translate(162.2,253.9) rotate(-90)">CD8 + T cell</text>
<text x="168.50" y="239.10" font-size="3.0" text-anchor="end" fill="#777" stroke="#777" stroke-width="0.075" >0.2</text>
<text x="168.50" y="267.60" font-size="3.0" text-anchor="end" fill="#777" stroke="#777" stroke-width="0.075" >0.1</text>
<text x="168.50" y="296.40" font-size="3.0" text-anchor="end" fill="#777" stroke="#777" stroke-width="0.075" >0.0</text>
<text x="195.00" y="307.40" font-size="3.2" text-anchor="middle" fill="#777" stroke="#777" stroke-width="0.080" >−1</text>
<text x="224.80" y="307.40" font-size="3.2" text-anchor="middle" fill="#777" stroke="#777" stroke-width="0.080" >0</text>
<text x="254.60" y="307.40" font-size="3.2" text-anchor="middle" fill="#777" stroke="#777" stroke-width="0.080" >1</text>
<text x="205.60" y="313.00" font-size="4.8" text-anchor="start" fill="#000" textLength="36.10" lengthAdjust="spacingAndGlyphs" stroke="#000" stroke-width="0.120" >Radiomics score</text>
<text x="300.40" y="201.30" font-size="16.2" text-anchor="start" fill="#000" >E</text>
<text x="394.20" y="213.00" font-size="3.5" text-anchor="start" fill="#111" textLength="31.80" lengthAdjust="spacingAndGlyphs" stroke="#111" stroke-width="0.088" ><tspan font-style="italic">p</tspan> = 0.001, <tspan font-style="italic">ρ̂</tspan> = −0.31</text>
<text x="0.00" y="0.00" font-size="5.1" text-anchor="middle" fill="#000" stroke="#000" stroke-width="0.128" transform="translate(307.0,248.8) rotate(-90)">Macrophages M1</text>
<text x="316.40" y="231.00" font-size="3.0" text-anchor="end" fill="#777" stroke="#777" stroke-width="0.075" >0.10</text>
<text x="316.40" y="259.20" font-size="3.0" text-anchor="end" fill="#777" stroke="#777" stroke-width="0.075" >0.05</text>
<text x="316.40" y="287.50" font-size="3.0" text-anchor="end" fill="#777" stroke="#777" stroke-width="0.075" >0.00</text>
<text x="342.10" y="306.30" font-size="3.2" text-anchor="middle" fill="#777" stroke="#777" stroke-width="0.080" >−1</text>
<text x="371.90" y="306.30" font-size="3.2" text-anchor="middle" fill="#777" stroke="#777" stroke-width="0.080" >0</text>
<text x="401.70" y="306.30" font-size="3.2" text-anchor="middle" fill="#777" stroke="#777" stroke-width="0.080" >1</text>
<text x="355.60" y="311.80" font-size="4.8" text-anchor="start" fill="#000" textLength="36.10" lengthAdjust="spacingAndGlyphs" stroke="#000" stroke-width="0.120" >Radiomics score</text>
<text x="5.40" y="340.40" font-size="16.2" text-anchor="start" fill="#000" >F</text>
<text x="144.90" y="329.90" font-size="5.8" text-anchor="start" fill="#000" textLength="107.70" lengthAdjust="spacingAndGlyphs" stroke="#000" stroke-width="0.145" >Radiomics-predicted CD8A low expression</text>
<text x="277.10" y="330.50" font-size="5.8" text-anchor="start" fill="#000" textLength="108.50" lengthAdjust="spacingAndGlyphs" stroke="#000" stroke-width="0.145" >Radiomics-predicted CD8A high expression</text>
<text x="34.00" y="490.80" font-size="4.9" text-anchor="end" fill="#222" stroke="#222" stroke-width="0.123" >0.0</text>
<text x="34.00" y="464.30" font-size="4.9" text-anchor="end" fill="#222" stroke="#222" stroke-width="0.123" >0.1</text>
<text x="34.00" y="437.80" font-size="4.9" text-anchor="end" fill="#222" stroke="#222" stroke-width="0.123" >0.2</text>
<text x="34.00" y="411.30" font-size="4.9" text-anchor="end" fill="#222" stroke="#222" stroke-width="0.123" >0.3</text>
<text x="34.00" y="384.80" font-size="4.9" text-anchor="end" fill="#222" stroke="#222" stroke-width="0.123" >0.4</text>
<text x="34.00" y="358.30" font-size="4.9" text-anchor="end" fill="#222" stroke="#222" stroke-width="0.123" >0.5</text>
<text x="0.00" y="0.00" font-size="6.6" text-anchor="middle" fill="#111" textLength="23.00" lengthAdjust="spacingAndGlyphs" stroke="#111" stroke-width="0.165" transform="translate(22.8,415.5) rotate(-90)">Fraction</text>
<text x="0.00" y="0.00" font-size="4.1" text-anchor="middle" fill="#111" stroke="#111" stroke-width="0.102" transform="translate(57.45,342.20)"><tspan font-style="italic">p</tspan>=0.02</text>
<text x="0.00" y="0.00" font-size="4.9" text-anchor="end" fill="#000" stroke="#000" stroke-width="0.123" transform="translate(59.05,497.90) rotate(-45)">B cells naive</text>
<text x="0.00" y="0.00" font-size="4.1" text-anchor="middle" fill="#111" stroke="#111" stroke-width="0.102" transform="translate(74.70,394.40)"><tspan font-style="italic">p</tspan>=0.635</text>
<text x="0.00" y="0.00" font-size="4.9" text-anchor="end" fill="#000" stroke="#000" stroke-width="0.123" transform="translate(76.30,497.90) rotate(-45)">B cells memory</text>
<text x="0.00" y="0.00" font-size="4.1" text-anchor="middle" fill="#111" stroke="#111" stroke-width="0.102" transform="translate(91.95,394.40)"><tspan font-style="italic">p</tspan>=0.119</text>
<text x="0.00" y="0.00" font-size="4.9" text-anchor="end" fill="#000" stroke="#000" stroke-width="0.123" transform="translate(93.55,497.90) rotate(-45)">Plasma cells</text>
<text x="0.00" y="0.00" font-size="4.1" text-anchor="middle" fill="#111" stroke="#111" stroke-width="0.102" transform="translate(109.20,410.20)"><tspan font-style="italic">p</tspan>=0.018</text>
<text x="0.00" y="0.00" font-size="4.9" text-anchor="end" fill="#000" stroke="#000" stroke-width="0.123" transform="translate(110.80,497.90) rotate(-45)">T cells CD8</text>
<text x="0.00" y="0.00" font-size="4.1" text-anchor="middle" fill="#111" stroke="#111" stroke-width="0.102" transform="translate(126.45,371.40)"><tspan font-style="italic">p</tspan>=0.001</text>
<text x="0.00" y="0.00" font-size="4.9" text-anchor="end" fill="#000" stroke="#000" stroke-width="0.123" transform="translate(128.05,497.90) rotate(-45)">T cells CD4 naive</text>
<text x="0.00" y="0.00" font-size="4.1" text-anchor="middle" fill="#111" stroke="#111" stroke-width="0.102" transform="translate(143.70,387.70)"><tspan font-style="italic">p</tspan>=0.358</text>
<text x="0.00" y="0.00" font-size="4.9" text-anchor="end" fill="#000" stroke="#000" stroke-width="0.123" transform="translate(145.30,497.90) rotate(-45)">T cells CD4 memory resting</text>
<text x="0.00" y="0.00" font-size="4.1" text-anchor="middle" fill="#111" stroke="#111" stroke-width="0.102" transform="translate(160.95,462.90)"><tspan font-style="italic">p</tspan>=0.042</text>
<text x="0.00" y="0.00" font-size="4.9" text-anchor="end" fill="#000" stroke="#000" stroke-width="0.123" transform="translate(162.55,497.90) rotate(-45)">T cells CD4 memory activated</text>
<text x="0.00" y="0.00" font-size="4.1" text-anchor="middle" fill="#111" stroke="#111" stroke-width="0.102" transform="translate(178.20,418.10)"><tspan font-style="italic">p</tspan>=0.155</text>
<text x="0.00" y="0.00" font-size="4.9" text-anchor="end" fill="#000" stroke="#000" stroke-width="0.123" transform="translate(179.80,497.90) rotate(-45)">T cells follicular helper</text>
<text x="0.00" y="0.00" font-size="4.1" text-anchor="middle" fill="#111" stroke="#111" stroke-width="0.102" transform="translate(195.45,460.10)"><tspan font-style="italic">p</tspan>=0.274</text>
<text x="0.00" y="0.00" font-size="4.9" text-anchor="end" fill="#000" stroke="#000" stroke-width="0.123" transform="translate(197.05,497.90) rotate(-45)">T cells regulatory (Tregs)</text>
<text x="0.00" y="0.00" font-size="4.1" text-anchor="middle" fill="#111" stroke="#111" stroke-width="0.102" transform="translate(212.70,465.20)"><tspan font-style="italic">p</tspan>=0.181</text>
<text x="0.00" y="0.00" font-size="4.9" text-anchor="end" fill="#000" stroke="#000" stroke-width="0.123" transform="translate(214.30,497.90) rotate(-45)">T cells gamma delta</text>
<text x="0.00" y="0.00" font-size="4.1" text-anchor="middle" fill="#111" stroke="#111" stroke-width="0.102" transform="translate(229.95,442.90)"><tspan font-style="italic">p</tspan>=0.531</text>
<text x="0.00" y="0.00" font-size="4.9" text-anchor="end" fill="#000" stroke="#000" stroke-width="0.123" transform="translate(231.55,497.90) rotate(-45)">NK cells resting</text>
<text x="0.00" y="0.00" font-size="4.1" text-anchor="middle" fill="#111" stroke="#111" stroke-width="0.102" transform="translate(247.20,445.30)"><tspan font-style="italic">p</tspan>=0.05</text>
<text x="0.00" y="0.00" font-size="4.9" text-anchor="end" fill="#000" stroke="#000" stroke-width="0.123" transform="translate(248.80,497.90) rotate(-45)">NK cells activated</text>
<text x="0.00" y="0.00" font-size="4.1" text-anchor="middle" fill="#111" stroke="#111" stroke-width="0.102" transform="translate(264.45,450.40)"><tspan font-style="italic">p</tspan>=0.969</text>
<text x="0.00" y="0.00" font-size="4.9" text-anchor="end" fill="#000" stroke="#000" stroke-width="0.123" transform="translate(266.05,497.90) rotate(-45)">Monocytes</text>
<text x="0.00" y="0.00" font-size="4.1" text-anchor="middle" fill="#111" stroke="#111" stroke-width="0.102" transform="translate(281.70,352.50)"><tspan font-style="italic">p</tspan>=0.627</text>
<text x="0.00" y="0.00" font-size="4.9" text-anchor="end" fill="#000" stroke="#000" stroke-width="0.123" transform="translate(283.30,497.90) rotate(-45)">Macrophages M0</text>
<text x="0.00" y="0.00" font-size="4.1" text-anchor="middle" fill="#111" stroke="#111" stroke-width="0.102" transform="translate(298.95,450.40)"><tspan font-style="italic">p</tspan>=0.001</text>
<text x="0.00" y="0.00" font-size="4.9" text-anchor="end" fill="#000" stroke="#000" stroke-width="0.123" transform="translate(300.55,497.90) rotate(-45)">Macrophages M1</text>
<text x="0.00" y="0.00" font-size="4.1" text-anchor="middle" fill="#111" stroke="#111" stroke-width="0.102" transform="translate(316.20,355.30)"><tspan font-style="italic">p</tspan>=0.614</text>
<text x="0.00" y="0.00" font-size="4.9" text-anchor="end" fill="#000" stroke="#000" stroke-width="0.123" transform="translate(317.80,497.90) rotate(-45)">Macrophages M2</text>
<text x="0.00" y="0.00" font-size="4.1" text-anchor="middle" fill="#111" stroke="#111" stroke-width="0.102" transform="translate(333.45,444.60)"><tspan font-style="italic">p</tspan>=0.972</text>
<text x="0.00" y="0.00" font-size="4.9" text-anchor="end" fill="#000" stroke="#000" stroke-width="0.123" transform="translate(335.05,497.90) rotate(-45)">Dendritic cells resting</text>
<text x="0.00" y="0.00" font-size="4.1" text-anchor="middle" fill="#111" stroke="#111" stroke-width="0.102" transform="translate(350.70,396.50)"><tspan font-style="italic">p</tspan>=0.307</text>
<text x="0.00" y="0.00" font-size="4.9" text-anchor="end" fill="#000" stroke="#000" stroke-width="0.123" transform="translate(352.30,497.90) rotate(-45)">Dendritic cells activated</text>
<text x="0.00" y="0.00" font-size="4.1" text-anchor="middle" fill="#111" stroke="#111" stroke-width="0.102" transform="translate(367.95,411.40)"><tspan font-style="italic">p</tspan>=0.338</text>
<text x="0.00" y="0.00" font-size="4.9" text-anchor="end" fill="#000" stroke="#000" stroke-width="0.123" transform="translate(369.55,497.90) rotate(-45)">Mast cells resting</text>
<text x="0.00" y="0.00" font-size="4.1" text-anchor="middle" fill="#111" stroke="#111" stroke-width="0.102" transform="translate(385.20,438.10)"><tspan font-style="italic">p</tspan>=0.237</text>
<text x="0.00" y="0.00" font-size="4.9" text-anchor="end" fill="#000" stroke="#000" stroke-width="0.123" transform="translate(386.80,497.90) rotate(-45)">Mast cells activated</text>
<text x="0.00" y="0.00" font-size="4.1" text-anchor="middle" fill="#111" stroke="#111" stroke-width="0.102" transform="translate(402.45,449.70)"><tspan font-style="italic">p</tspan>=0.292</text>
<text x="0.00" y="0.00" font-size="4.9" text-anchor="end" fill="#000" stroke="#000" stroke-width="0.123" transform="translate(404.05,497.90) rotate(-45)">Eosinophils</text>
<text x="0.00" y="0.00" font-size="4.1" text-anchor="middle" fill="#111" stroke="#111" stroke-width="0.102" transform="translate(419.70,405.90)"><tspan font-style="italic">p</tspan>=0.384</text>
<text x="0.00" y="0.00" font-size="4.9" text-anchor="end" fill="#000" stroke="#000" stroke-width="0.123" transform="translate(421.30,497.90) rotate(-45)">Neutrophils</text>
</g>
</svg></body></html>
